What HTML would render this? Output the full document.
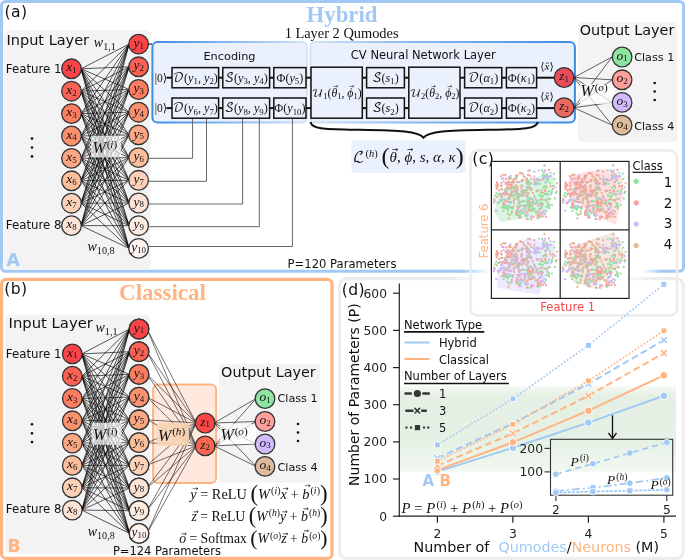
<!DOCTYPE html>
<html><head><meta charset="utf-8"><style>html,body{margin:0;padding:0;background:#fff;}svg{display:block;}</style></head>
<body>
<svg width="685" height="560" viewBox="0 0 685 560">
<rect width="685" height="560" fill="#fff"/>
<rect x="1.5" y="1.5" width="682" height="269.8" rx="4" fill="#fff" stroke="#a1c9f4" stroke-width="3"/>
<rect x="4.5" y="30" width="146" height="239.5" rx="5" fill="#f3f3f3"/>
<text x="4.6" y="17" font-family="'DejaVu Sans','Liberation Sans',sans-serif" font-size="15.6" letter-spacing="0.4" fill="#111">(a)</text>
<text x="342" y="21.5" font-family="'Liberation Serif','DejaVu Serif',serif" font-size="22.8" font-weight="bold" fill="#a1c9f4" text-anchor="middle">Hybrid</text>
<text x="341.6" y="37.8" font-family="'Liberation Serif','DejaVu Serif',serif" font-size="14.4" fill="#111" text-anchor="middle">1 Layer 2 Qumodes</text>
<text x="6.6" y="266.4" font-family="'DejaVu Sans','Liberation Sans',sans-serif" font-size="17.2" font-weight="bold" fill="#a1c9f4">A</text>
<g stroke="#000" stroke-width="0.65"><line x1="81.0" y1="68.8" x2="129.1" y2="44.1"/><line x1="81.0" y1="68.8" x2="129.1" y2="66.8"/><line x1="81.0" y1="68.8" x2="129.1" y2="89.5"/><line x1="81.0" y1="68.8" x2="129.1" y2="112.2"/><line x1="81.0" y1="68.8" x2="129.1" y2="134.9"/><line x1="81.0" y1="68.8" x2="129.1" y2="157.6"/><line x1="81.0" y1="68.8" x2="129.1" y2="180.3"/><line x1="81.0" y1="68.8" x2="129.1" y2="203.0"/><line x1="81.0" y1="68.8" x2="129.1" y2="225.7"/><line x1="81.0" y1="68.8" x2="129.1" y2="248.4"/><line x1="81.0" y1="91.2" x2="129.1" y2="44.1"/><line x1="81.0" y1="91.2" x2="129.1" y2="66.8"/><line x1="81.0" y1="91.2" x2="129.1" y2="89.5"/><line x1="81.0" y1="91.2" x2="129.1" y2="112.2"/><line x1="81.0" y1="91.2" x2="129.1" y2="134.9"/><line x1="81.0" y1="91.2" x2="129.1" y2="157.6"/><line x1="81.0" y1="91.2" x2="129.1" y2="180.3"/><line x1="81.0" y1="91.2" x2="129.1" y2="203.0"/><line x1="81.0" y1="91.2" x2="129.1" y2="225.7"/><line x1="81.0" y1="91.2" x2="129.1" y2="248.4"/><line x1="81.0" y1="113.6" x2="129.1" y2="44.1"/><line x1="81.0" y1="113.6" x2="129.1" y2="66.8"/><line x1="81.0" y1="113.6" x2="129.1" y2="89.5"/><line x1="81.0" y1="113.6" x2="129.1" y2="112.2"/><line x1="81.0" y1="113.6" x2="129.1" y2="134.9"/><line x1="81.0" y1="113.6" x2="129.1" y2="157.6"/><line x1="81.0" y1="113.6" x2="129.1" y2="180.3"/><line x1="81.0" y1="113.6" x2="129.1" y2="203.0"/><line x1="81.0" y1="113.6" x2="129.1" y2="225.7"/><line x1="81.0" y1="113.6" x2="129.1" y2="248.4"/><line x1="81.0" y1="136.0" x2="129.1" y2="44.1"/><line x1="81.0" y1="136.0" x2="129.1" y2="66.8"/><line x1="81.0" y1="136.0" x2="129.1" y2="89.5"/><line x1="81.0" y1="136.0" x2="129.1" y2="112.2"/><line x1="81.0" y1="136.0" x2="129.1" y2="134.9"/><line x1="81.0" y1="136.0" x2="129.1" y2="157.6"/><line x1="81.0" y1="136.0" x2="129.1" y2="180.3"/><line x1="81.0" y1="136.0" x2="129.1" y2="203.0"/><line x1="81.0" y1="136.0" x2="129.1" y2="225.7"/><line x1="81.0" y1="136.0" x2="129.1" y2="248.4"/><line x1="81.0" y1="158.4" x2="129.1" y2="44.1"/><line x1="81.0" y1="158.4" x2="129.1" y2="66.8"/><line x1="81.0" y1="158.4" x2="129.1" y2="89.5"/><line x1="81.0" y1="158.4" x2="129.1" y2="112.2"/><line x1="81.0" y1="158.4" x2="129.1" y2="134.9"/><line x1="81.0" y1="158.4" x2="129.1" y2="157.6"/><line x1="81.0" y1="158.4" x2="129.1" y2="180.3"/><line x1="81.0" y1="158.4" x2="129.1" y2="203.0"/><line x1="81.0" y1="158.4" x2="129.1" y2="225.7"/><line x1="81.0" y1="158.4" x2="129.1" y2="248.4"/><line x1="81.0" y1="180.8" x2="129.1" y2="44.1"/><line x1="81.0" y1="180.8" x2="129.1" y2="66.8"/><line x1="81.0" y1="180.8" x2="129.1" y2="89.5"/><line x1="81.0" y1="180.8" x2="129.1" y2="112.2"/><line x1="81.0" y1="180.8" x2="129.1" y2="134.9"/><line x1="81.0" y1="180.8" x2="129.1" y2="157.6"/><line x1="81.0" y1="180.8" x2="129.1" y2="180.3"/><line x1="81.0" y1="180.8" x2="129.1" y2="203.0"/><line x1="81.0" y1="180.8" x2="129.1" y2="225.7"/><line x1="81.0" y1="180.8" x2="129.1" y2="248.4"/><line x1="81.0" y1="203.2" x2="129.1" y2="44.1"/><line x1="81.0" y1="203.2" x2="129.1" y2="66.8"/><line x1="81.0" y1="203.2" x2="129.1" y2="89.5"/><line x1="81.0" y1="203.2" x2="129.1" y2="112.2"/><line x1="81.0" y1="203.2" x2="129.1" y2="134.9"/><line x1="81.0" y1="203.2" x2="129.1" y2="157.6"/><line x1="81.0" y1="203.2" x2="129.1" y2="180.3"/><line x1="81.0" y1="203.2" x2="129.1" y2="203.0"/><line x1="81.0" y1="203.2" x2="129.1" y2="225.7"/><line x1="81.0" y1="203.2" x2="129.1" y2="248.4"/><line x1="81.0" y1="225.6" x2="129.1" y2="44.1"/><line x1="81.0" y1="225.6" x2="129.1" y2="66.8"/><line x1="81.0" y1="225.6" x2="129.1" y2="89.5"/><line x1="81.0" y1="225.6" x2="129.1" y2="112.2"/><line x1="81.0" y1="225.6" x2="129.1" y2="134.9"/><line x1="81.0" y1="225.6" x2="129.1" y2="157.6"/><line x1="81.0" y1="225.6" x2="129.1" y2="180.3"/><line x1="81.0" y1="225.6" x2="129.1" y2="203.0"/><line x1="81.0" y1="225.6" x2="129.1" y2="225.7"/><line x1="81.0" y1="225.6" x2="129.1" y2="248.4"/></g>
<rect x="91.0" y="135.6" width="30.2" height="22" rx="2" fill="#fff" opacity="0.7"/>
<text x="92.5" y="153.1" text-anchor="start" fill="#111" ><tspan dy="0.00" font-size="16.0" font-style="italic" font-family="'Liberation Serif','DejaVu Serif',serif">W</tspan><tspan dx="0.80" dy="-5.44" font-size="11.2" font-style="normal" font-family="'Liberation Serif','DejaVu Serif',serif">(</tspan><tspan dy="0.00" font-size="11.2" font-style="italic" font-family="'Liberation Serif','DejaVu Serif',serif">i</tspan><tspan dy="0.00" font-size="11.2" font-style="normal" font-family="'Liberation Serif','DejaVu Serif',serif">)</tspan></text>
<circle cx="71.5" cy="68.8" r="9.8" fill="#fa4448" stroke="#333" stroke-width="1.3"/><text x="71.5" y="71.4" font-family="'Liberation Serif','DejaVu Serif',serif" font-size="13.5" font-style="italic" fill="#111" text-anchor="middle">x<tspan font-size="8.9" font-style="normal" dy="1.8">1</tspan></text>
<circle cx="71.5" cy="91.2" r="9.8" fill="#fb6154" stroke="#333" stroke-width="1.3"/><text x="71.5" y="93.8" font-family="'Liberation Serif','DejaVu Serif',serif" font-size="13.5" font-style="italic" fill="#111" text-anchor="middle">x<tspan font-size="8.9" font-style="normal" dy="1.8">2</tspan></text>
<circle cx="71.5" cy="113.6" r="9.8" fill="#fc7d5f" stroke="#333" stroke-width="1.3"/><text x="71.5" y="116.2" font-family="'Liberation Serif','DejaVu Serif',serif" font-size="13.5" font-style="italic" fill="#111" text-anchor="middle">x<tspan font-size="8.9" font-style="normal" dy="1.8">3</tspan></text>
<circle cx="71.5" cy="136.0" r="9.8" fill="#fa916e" stroke="#333" stroke-width="1.3"/><text x="71.5" y="138.6" font-family="'Liberation Serif','DejaVu Serif',serif" font-size="13.5" font-style="italic" fill="#111" text-anchor="middle">x<tspan font-size="8.9" font-style="normal" dy="1.8">4</tspan></text>
<circle cx="71.5" cy="158.4" r="9.8" fill="#fba784" stroke="#333" stroke-width="1.3"/><text x="71.5" y="161.0" font-family="'Liberation Serif','DejaVu Serif',serif" font-size="13.5" font-style="italic" fill="#111" text-anchor="middle">x<tspan font-size="8.9" font-style="normal" dy="1.8">5</tspan></text>
<circle cx="71.5" cy="180.8" r="9.8" fill="#fdbe9b" stroke="#333" stroke-width="1.3"/><text x="71.5" y="183.4" font-family="'Liberation Serif','DejaVu Serif',serif" font-size="13.5" font-style="italic" fill="#111" text-anchor="middle">x<tspan font-size="8.9" font-style="normal" dy="1.8">6</tspan></text>
<circle cx="71.5" cy="203.2" r="9.8" fill="#fdd1b7" stroke="#333" stroke-width="1.3"/><text x="71.5" y="205.8" font-family="'Liberation Serif','DejaVu Serif',serif" font-size="13.5" font-style="italic" fill="#111" text-anchor="middle">x<tspan font-size="8.9" font-style="normal" dy="1.8">7</tspan></text>
<circle cx="71.5" cy="225.6" r="9.8" fill="#fde4d4" stroke="#333" stroke-width="1.3"/><text x="71.5" y="228.2" font-family="'Liberation Serif','DejaVu Serif',serif" font-size="13.5" font-style="italic" fill="#111" text-anchor="middle">x<tspan font-size="8.9" font-style="normal" dy="1.8">8</tspan></text>
<circle cx="138.6" cy="44.1" r="9.8" fill="#fa4448" stroke="#333" stroke-width="1.3"/><text x="138.6" y="46.7" font-family="'Liberation Serif','DejaVu Serif',serif" font-size="13.5" font-style="italic" fill="#111" text-anchor="middle">y<tspan font-size="8.9" font-style="normal" dy="1.8">1</tspan></text>
<circle cx="138.6" cy="66.8" r="9.8" fill="#fb6154" stroke="#333" stroke-width="1.3"/><text x="138.6" y="69.4" font-family="'Liberation Serif','DejaVu Serif',serif" font-size="13.5" font-style="italic" fill="#111" text-anchor="middle">y<tspan font-size="8.9" font-style="normal" dy="1.8">2</tspan></text>
<circle cx="138.6" cy="89.5" r="9.8" fill="#fc7d5f" stroke="#333" stroke-width="1.3"/><text x="138.6" y="92.1" font-family="'Liberation Serif','DejaVu Serif',serif" font-size="13.5" font-style="italic" fill="#111" text-anchor="middle">y<tspan font-size="8.9" font-style="normal" dy="1.8">3</tspan></text>
<circle cx="138.6" cy="112.2" r="9.8" fill="#fa916e" stroke="#333" stroke-width="1.3"/><text x="138.6" y="114.8" font-family="'Liberation Serif','DejaVu Serif',serif" font-size="13.5" font-style="italic" fill="#111" text-anchor="middle">y<tspan font-size="8.9" font-style="normal" dy="1.8">4</tspan></text>
<circle cx="138.6" cy="134.9" r="9.8" fill="#fba784" stroke="#333" stroke-width="1.3"/><text x="138.6" y="137.5" font-family="'Liberation Serif','DejaVu Serif',serif" font-size="13.5" font-style="italic" fill="#111" text-anchor="middle">y<tspan font-size="8.9" font-style="normal" dy="1.8">5</tspan></text>
<circle cx="138.6" cy="157.6" r="9.8" fill="#fdbe9b" stroke="#333" stroke-width="1.3"/><text x="138.6" y="160.2" font-family="'Liberation Serif','DejaVu Serif',serif" font-size="13.5" font-style="italic" fill="#111" text-anchor="middle">y<tspan font-size="8.9" font-style="normal" dy="1.8">6</tspan></text>
<circle cx="138.6" cy="180.3" r="9.8" fill="#fdd1b7" stroke="#333" stroke-width="1.3"/><text x="138.6" y="182.9" font-family="'Liberation Serif','DejaVu Serif',serif" font-size="13.5" font-style="italic" fill="#111" text-anchor="middle">y<tspan font-size="8.9" font-style="normal" dy="1.8">7</tspan></text>
<circle cx="138.6" cy="203.0" r="9.8" fill="#fde4d4" stroke="#333" stroke-width="1.3"/><text x="138.6" y="205.6" font-family="'Liberation Serif','DejaVu Serif',serif" font-size="13.5" font-style="italic" fill="#111" text-anchor="middle">y<tspan font-size="8.9" font-style="normal" dy="1.8">8</tspan></text>
<circle cx="138.6" cy="225.7" r="9.8" fill="#feece1" stroke="#333" stroke-width="1.3"/><text x="138.6" y="228.3" font-family="'Liberation Serif','DejaVu Serif',serif" font-size="13.5" font-style="italic" fill="#111" text-anchor="middle">y<tspan font-size="8.9" font-style="normal" dy="1.8">9</tspan></text>
<circle cx="138.6" cy="248.4" r="9.8" fill="#fff5ee" stroke="#333" stroke-width="1.3"/><text x="138.6" y="251.0" font-family="'Liberation Serif','DejaVu Serif',serif" font-size="13.5" font-style="italic" fill="#111" text-anchor="middle">y<tspan font-size="8.9" font-style="normal" dy="1.8">10</tspan></text>
<text x="5.8" y="72.5" font-family="'DejaVu Sans','Liberation Sans',sans-serif" font-size="11.8" fill="#111">Feature 1</text>
<text x="5.8" y="228.9" font-family="'DejaVu Sans','Liberation Sans',sans-serif" font-size="11.8" fill="#111">Feature 8</text>
<text x="6.5" y="44.5" font-family="'DejaVu Sans','Liberation Sans',sans-serif" font-size="14.5" fill="#111">Input Layer</text>
<text x="93.8" y="47" text-anchor="start" fill="#111" ><tspan dy="0.00" font-size="14.0" font-style="italic" font-family="'Liberation Serif','DejaVu Serif',serif">w</tspan><tspan dy="2.80" font-size="10.1" font-style="normal" font-family="'Liberation Serif','DejaVu Serif',serif">1,1</tspan></text>
<text x="87.5" y="250.8" text-anchor="start" fill="#111" ><tspan dy="0.00" font-size="14.0" font-style="italic" font-family="'Liberation Serif','DejaVu Serif',serif">w</tspan><tspan dy="2.80" font-size="10.1" font-style="normal" font-family="'Liberation Serif','DejaVu Serif',serif">10,8</tspan></text>
<circle cx="32" cy="138.6" r="1.3" fill="#111"/>
<circle cx="32" cy="147.5" r="1.3" fill="#111"/>
<circle cx="32" cy="156.4" r="1.3" fill="#111"/>
<defs><linearGradient id="gEnc" x1="0" y1="0" x2="1" y2="0"><stop offset="0" stop-color="#3c8ce6"/><stop offset="0.55" stop-color="#8fbcef"/><stop offset="1" stop-color="#d3e3f8"/></linearGradient><linearGradient id="gCV" x1="0" y1="0" x2="1" y2="0"><stop offset="0" stop-color="#d3e3f8"/><stop offset="0.35" stop-color="#8fbcef"/><stop offset="1" stop-color="#3c8ce6"/></linearGradient></defs>
<rect x="152.4" y="42" width="154.6" height="80.4" rx="5" fill="#eaf0fc" stroke="url(#gEnc)" stroke-width="2"/>
<rect x="310.4" y="42" width="264.5" height="80.4" rx="5" fill="#eaf0fc" stroke="url(#gCV)" stroke-width="2"/>
<text x="229.5" y="59.6" font-family="'DejaVu Sans','Liberation Sans',sans-serif" font-size="11.3" fill="#111" text-anchor="middle">Encoding</text>
<text x="423.3" y="58.9" font-family="'DejaVu Sans','Liberation Sans',sans-serif" font-size="11.5" fill="#111" text-anchor="middle">CV Neural Network Layer</text>
<line x1="148" y1="44.1" x2="152" y2="44.1" stroke="#222" stroke-width="1.2"/>
<polyline points="148,158.3 192.6,158.3 192.6,118.5" fill="none" stroke="#666" stroke-width="1"/>
<polyline points="148,181.3 206.5,181.3 206.5,118.5" fill="none" stroke="#666" stroke-width="1"/>
<polyline points="148,204.0 242.6,204.0 242.6,118.5" fill="none" stroke="#666" stroke-width="1"/>
<polyline points="148,226.7 259.3,226.7 259.3,118.5" fill="none" stroke="#666" stroke-width="1"/>
<polyline points="148,246.5 292.4,246.5 292.4,118.5" fill="none" stroke="#666" stroke-width="1"/>
<line x1="166.5" y1="77.69999999999999" x2="172" y2="77.69999999999999" stroke="#111" stroke-width="2"/>
<line x1="218.5" y1="77.69999999999999" x2="223" y2="77.69999999999999" stroke="#111" stroke-width="2"/>
<line x1="269.5" y1="77.69999999999999" x2="274" y2="77.69999999999999" stroke="#111" stroke-width="2"/>
<line x1="306" y1="77.69999999999999" x2="311" y2="77.69999999999999" stroke="#111" stroke-width="2"/>
<line x1="362" y1="77.69999999999999" x2="367" y2="77.69999999999999" stroke="#111" stroke-width="2"/>
<line x1="404" y1="77.69999999999999" x2="409" y2="77.69999999999999" stroke="#111" stroke-width="2"/>
<line x1="460" y1="77.69999999999999" x2="465" y2="77.69999999999999" stroke="#111" stroke-width="2"/>
<line x1="502" y1="77.69999999999999" x2="507" y2="77.69999999999999" stroke="#111" stroke-width="2"/>
<line x1="536" y1="77.69999999999999" x2="556" y2="77.69999999999999" stroke="#111" stroke-width="2"/>
<text x="161" y="81.7" text-anchor="middle" fill="#111" ><tspan dy="0.00" font-size="11.5" font-style="normal" font-family="'Liberation Serif','DejaVu Serif',serif">|0⟩</tspan></text>
<line x1="166.5" y1="108.1" x2="172" y2="108.1" stroke="#111" stroke-width="2"/>
<line x1="218.5" y1="108.1" x2="223" y2="108.1" stroke="#111" stroke-width="2"/>
<line x1="269.5" y1="108.1" x2="274" y2="108.1" stroke="#111" stroke-width="2"/>
<line x1="306" y1="108.1" x2="311" y2="108.1" stroke="#111" stroke-width="2"/>
<line x1="362" y1="108.1" x2="367" y2="108.1" stroke="#111" stroke-width="2"/>
<line x1="404" y1="108.1" x2="409" y2="108.1" stroke="#111" stroke-width="2"/>
<line x1="460" y1="108.1" x2="465" y2="108.1" stroke="#111" stroke-width="2"/>
<line x1="502" y1="108.1" x2="507" y2="108.1" stroke="#111" stroke-width="2"/>
<line x1="536" y1="108.1" x2="556" y2="108.1" stroke="#111" stroke-width="2"/>
<text x="161" y="112.1" text-anchor="middle" fill="#111" ><tspan dy="0.00" font-size="11.5" font-style="normal" font-family="'Liberation Serif','DejaVu Serif',serif">|0⟩</tspan></text>
<rect x="172" y="67.6" width="46.6" height="20.2" fill="#eaf0fc" stroke="#111" stroke-width="1.5"/>
<text x="195.3" y="81.9" text-anchor="middle" fill="#111" ><tspan dy="0.00" font-size="12.2" font-style="normal" font-family="'DejaVu Math TeX Gyre','Liberation Serif',serif">𝒟</tspan><tspan dy="0.00" font-size="12.2" font-style="normal" font-family="'Liberation Serif','DejaVu Serif',serif">(</tspan><tspan dy="0.00" font-size="12.2" font-style="italic" font-family="'Liberation Serif','DejaVu Serif',serif">y</tspan><tspan dy="2.44" font-size="8.8" font-style="normal" font-family="'Liberation Serif','DejaVu Serif',serif">1</tspan><tspan dy="-2.44" font-size="12.2" font-style="normal" font-family="'Liberation Serif','DejaVu Serif',serif">, </tspan><tspan dy="0.00" font-size="12.2" font-style="italic" font-family="'Liberation Serif','DejaVu Serif',serif">y</tspan><tspan dy="2.44" font-size="8.8" font-style="normal" font-family="'Liberation Serif','DejaVu Serif',serif">2</tspan><tspan dy="-2.44" font-size="12.2" font-style="normal" font-family="'Liberation Serif','DejaVu Serif',serif">)</tspan></text>
<rect x="222.8" y="67.6" width="46.8" height="20.2" fill="#eaf0fc" stroke="#111" stroke-width="1.5"/>
<text x="246.2" y="81.9" text-anchor="middle" fill="#111" ><tspan dy="0.00" font-size="12.2" font-style="normal" font-family="'DejaVu Math TeX Gyre','Liberation Serif',serif">𝒮</tspan><tspan dy="0.00" font-size="12.2" font-style="normal" font-family="'Liberation Serif','DejaVu Serif',serif">(</tspan><tspan dy="0.00" font-size="12.2" font-style="italic" font-family="'Liberation Serif','DejaVu Serif',serif">y</tspan><tspan dy="2.44" font-size="8.8" font-style="normal" font-family="'Liberation Serif','DejaVu Serif',serif">3</tspan><tspan dy="-2.44" font-size="12.2" font-style="normal" font-family="'Liberation Serif','DejaVu Serif',serif">, </tspan><tspan dy="0.00" font-size="12.2" font-style="italic" font-family="'Liberation Serif','DejaVu Serif',serif">y</tspan><tspan dy="2.44" font-size="8.8" font-style="normal" font-family="'Liberation Serif','DejaVu Serif',serif">4</tspan><tspan dy="-2.44" font-size="12.2" font-style="normal" font-family="'Liberation Serif','DejaVu Serif',serif">)</tspan></text>
<rect x="273.8" y="67.6" width="32.2" height="20.2" fill="#eaf0fc" stroke="#111" stroke-width="1.5"/>
<text x="289.9" y="81.9" text-anchor="middle" fill="#111" ><tspan dy="0.00" font-size="12.2" font-style="normal" font-family="'Liberation Serif','DejaVu Serif',serif">Φ</tspan><tspan dy="0.00" font-size="12.2" font-style="normal" font-family="'Liberation Serif','DejaVu Serif',serif">(</tspan><tspan dy="0.00" font-size="12.2" font-style="italic" font-family="'Liberation Serif','DejaVu Serif',serif">y</tspan><tspan dy="2.44" font-size="8.8" font-style="normal" font-family="'Liberation Serif','DejaVu Serif',serif">5</tspan><tspan dy="-2.44" font-size="12.2" font-style="normal" font-family="'Liberation Serif','DejaVu Serif',serif">)</tspan></text>
<rect x="172" y="98.0" width="46.6" height="20.2" fill="#eaf0fc" stroke="#111" stroke-width="1.5"/>
<text x="195.3" y="112.3" text-anchor="middle" fill="#111" ><tspan dy="0.00" font-size="12.2" font-style="normal" font-family="'DejaVu Math TeX Gyre','Liberation Serif',serif">𝒟</tspan><tspan dy="0.00" font-size="12.2" font-style="normal" font-family="'Liberation Serif','DejaVu Serif',serif">(</tspan><tspan dy="0.00" font-size="12.2" font-style="italic" font-family="'Liberation Serif','DejaVu Serif',serif">y</tspan><tspan dy="2.44" font-size="8.8" font-style="normal" font-family="'Liberation Serif','DejaVu Serif',serif">6</tspan><tspan dy="-2.44" font-size="12.2" font-style="normal" font-family="'Liberation Serif','DejaVu Serif',serif">, </tspan><tspan dy="0.00" font-size="12.2" font-style="italic" font-family="'Liberation Serif','DejaVu Serif',serif">y</tspan><tspan dy="2.44" font-size="8.8" font-style="normal" font-family="'Liberation Serif','DejaVu Serif',serif">7</tspan><tspan dy="-2.44" font-size="12.2" font-style="normal" font-family="'Liberation Serif','DejaVu Serif',serif">)</tspan></text>
<rect x="222.8" y="98.0" width="46.8" height="20.2" fill="#eaf0fc" stroke="#111" stroke-width="1.5"/>
<text x="246.2" y="112.3" text-anchor="middle" fill="#111" ><tspan dy="0.00" font-size="12.2" font-style="normal" font-family="'DejaVu Math TeX Gyre','Liberation Serif',serif">𝒮</tspan><tspan dy="0.00" font-size="12.2" font-style="normal" font-family="'Liberation Serif','DejaVu Serif',serif">(</tspan><tspan dy="0.00" font-size="12.2" font-style="italic" font-family="'Liberation Serif','DejaVu Serif',serif">y</tspan><tspan dy="2.44" font-size="8.8" font-style="normal" font-family="'Liberation Serif','DejaVu Serif',serif">8</tspan><tspan dy="-2.44" font-size="12.2" font-style="normal" font-family="'Liberation Serif','DejaVu Serif',serif">, </tspan><tspan dy="0.00" font-size="12.2" font-style="italic" font-family="'Liberation Serif','DejaVu Serif',serif">y</tspan><tspan dy="2.44" font-size="8.8" font-style="normal" font-family="'Liberation Serif','DejaVu Serif',serif">9</tspan><tspan dy="-2.44" font-size="12.2" font-style="normal" font-family="'Liberation Serif','DejaVu Serif',serif">)</tspan></text>
<rect x="273.8" y="98.0" width="32.2" height="20.2" fill="#eaf0fc" stroke="#111" stroke-width="1.5"/>
<text x="289.9" y="112.3" text-anchor="middle" fill="#111" ><tspan dy="0.00" font-size="12.2" font-style="normal" font-family="'Liberation Serif','DejaVu Serif',serif">Φ</tspan><tspan dy="0.00" font-size="12.2" font-style="normal" font-family="'Liberation Serif','DejaVu Serif',serif">(</tspan><tspan dy="0.00" font-size="12.2" font-style="italic" font-family="'Liberation Serif','DejaVu Serif',serif">y</tspan><tspan dy="2.44" font-size="8.8" font-style="normal" font-family="'Liberation Serif','DejaVu Serif',serif">10</tspan><tspan dy="-2.44" font-size="12.2" font-style="normal" font-family="'Liberation Serif','DejaVu Serif',serif">)</tspan></text>
<rect x="311" y="67.2" width="51.3" height="51.0" fill="#eaf0fc" stroke="#111" stroke-width="1.5"/>
<text x="336.6" y="96.9" text-anchor="middle" fill="#111" ><tspan dy="0.00" font-size="11.8" font-style="normal" font-family="'DejaVu Math TeX Gyre','Liberation Serif',serif">𝒰</tspan><tspan dy="2.36" font-size="8.5" font-style="normal" font-family="'Liberation Serif','DejaVu Serif',serif">1</tspan><tspan dy="-2.36" font-size="11.8" font-style="normal" font-family="'Liberation Serif','DejaVu Serif',serif">(</tspan><tspan dy="0.00" font-size="11.8" font-style="italic" font-family="'Liberation Serif','DejaVu Serif',serif">θ</tspan><tspan dx="-3.95" dy="-8.50" font-size="5.9" font-style="normal" font-family="'DejaVu Sans','Liberation Sans',sans-serif">→</tspan><tspan dx="-0.99" dy="10.86" font-size="8.5" font-style="normal" font-family="'Liberation Serif','DejaVu Serif',serif">1</tspan><tspan dy="-2.36" font-size="11.8" font-style="normal" font-family="'Liberation Serif','DejaVu Serif',serif">, </tspan><tspan dy="0.00" font-size="11.8" font-style="italic" font-family="'Liberation Serif','DejaVu Serif',serif">ϕ</tspan><tspan dx="-4.11" dy="-8.50" font-size="5.9" font-style="normal" font-family="'DejaVu Sans','Liberation Sans',sans-serif">→</tspan><tspan dx="-0.83" dy="10.86" font-size="8.5" font-style="normal" font-family="'Liberation Serif','DejaVu Serif',serif">1</tspan><tspan dy="-2.36" font-size="11.8" font-style="normal" font-family="'Liberation Serif','DejaVu Serif',serif">)</tspan></text>
<rect x="366.6" y="67.6" width="37.8" height="20.2" fill="#eaf0fc" stroke="#111" stroke-width="1.5"/>
<text x="385.5" y="81.9" text-anchor="middle" fill="#111" ><tspan dy="0.00" font-size="12.2" font-style="normal" font-family="'DejaVu Math TeX Gyre','Liberation Serif',serif">𝒮</tspan><tspan dy="0.00" font-size="12.2" font-style="normal" font-family="'Liberation Serif','DejaVu Serif',serif">(</tspan><tspan dy="0.00" font-size="12.2" font-style="italic" font-family="'Liberation Serif','DejaVu Serif',serif">s</tspan><tspan dy="2.44" font-size="8.8" font-style="normal" font-family="'Liberation Serif','DejaVu Serif',serif">1</tspan><tspan dy="-2.44" font-size="12.2" font-style="normal" font-family="'Liberation Serif','DejaVu Serif',serif">)</tspan></text>
<rect x="366.6" y="98.0" width="37.8" height="20.2" fill="#eaf0fc" stroke="#111" stroke-width="1.5"/>
<text x="385.5" y="112.3" text-anchor="middle" fill="#111" ><tspan dy="0.00" font-size="12.2" font-style="normal" font-family="'DejaVu Math TeX Gyre','Liberation Serif',serif">𝒮</tspan><tspan dy="0.00" font-size="12.2" font-style="normal" font-family="'Liberation Serif','DejaVu Serif',serif">(</tspan><tspan dy="0.00" font-size="12.2" font-style="italic" font-family="'Liberation Serif','DejaVu Serif',serif">s</tspan><tspan dy="2.44" font-size="8.8" font-style="normal" font-family="'Liberation Serif','DejaVu Serif',serif">2</tspan><tspan dy="-2.44" font-size="12.2" font-style="normal" font-family="'Liberation Serif','DejaVu Serif',serif">)</tspan></text>
<rect x="408.8" y="67.2" width="51.2" height="51.0" fill="#eaf0fc" stroke="#111" stroke-width="1.5"/>
<text x="434.4" y="96.9" text-anchor="middle" fill="#111" ><tspan dy="0.00" font-size="11.8" font-style="normal" font-family="'DejaVu Math TeX Gyre','Liberation Serif',serif">𝒰</tspan><tspan dy="2.36" font-size="8.5" font-style="normal" font-family="'Liberation Serif','DejaVu Serif',serif">2</tspan><tspan dy="-2.36" font-size="11.8" font-style="normal" font-family="'Liberation Serif','DejaVu Serif',serif">(</tspan><tspan dy="0.00" font-size="11.8" font-style="italic" font-family="'Liberation Serif','DejaVu Serif',serif">θ</tspan><tspan dx="-3.95" dy="-8.50" font-size="5.9" font-style="normal" font-family="'DejaVu Sans','Liberation Sans',sans-serif">→</tspan><tspan dx="-0.99" dy="10.86" font-size="8.5" font-style="normal" font-family="'Liberation Serif','DejaVu Serif',serif">2</tspan><tspan dy="-2.36" font-size="11.8" font-style="normal" font-family="'Liberation Serif','DejaVu Serif',serif">, </tspan><tspan dy="0.00" font-size="11.8" font-style="italic" font-family="'Liberation Serif','DejaVu Serif',serif">ϕ</tspan><tspan dx="-4.11" dy="-8.50" font-size="5.9" font-style="normal" font-family="'DejaVu Sans','Liberation Sans',sans-serif">→</tspan><tspan dx="-0.83" dy="10.86" font-size="8.5" font-style="normal" font-family="'Liberation Serif','DejaVu Serif',serif">2</tspan><tspan dy="-2.36" font-size="11.8" font-style="normal" font-family="'Liberation Serif','DejaVu Serif',serif">)</tspan></text>
<rect x="464.6" y="67.6" width="37.2" height="20.2" fill="#eaf0fc" stroke="#111" stroke-width="1.5"/>
<text x="483.2" y="81.9" text-anchor="middle" fill="#111" ><tspan dy="0.00" font-size="12.2" font-style="normal" font-family="'DejaVu Math TeX Gyre','Liberation Serif',serif">𝒟</tspan><tspan dy="0.00" font-size="12.2" font-style="normal" font-family="'Liberation Serif','DejaVu Serif',serif">(</tspan><tspan dy="0.00" font-size="12.2" font-style="italic" font-family="'Liberation Serif','DejaVu Serif',serif">α</tspan><tspan dy="2.44" font-size="8.8" font-style="normal" font-family="'Liberation Serif','DejaVu Serif',serif">1</tspan><tspan dy="-2.44" font-size="12.2" font-style="normal" font-family="'Liberation Serif','DejaVu Serif',serif">)</tspan></text>
<rect x="464.6" y="98.0" width="37.2" height="20.2" fill="#eaf0fc" stroke="#111" stroke-width="1.5"/>
<text x="483.2" y="112.3" text-anchor="middle" fill="#111" ><tspan dy="0.00" font-size="12.2" font-style="normal" font-family="'DejaVu Math TeX Gyre','Liberation Serif',serif">𝒟</tspan><tspan dy="0.00" font-size="12.2" font-style="normal" font-family="'Liberation Serif','DejaVu Serif',serif">(</tspan><tspan dy="0.00" font-size="12.2" font-style="italic" font-family="'Liberation Serif','DejaVu Serif',serif">α</tspan><tspan dy="2.44" font-size="8.8" font-style="normal" font-family="'Liberation Serif','DejaVu Serif',serif">2</tspan><tspan dy="-2.44" font-size="12.2" font-style="normal" font-family="'Liberation Serif','DejaVu Serif',serif">)</tspan></text>
<rect x="506.4" y="67.6" width="30.2" height="20.2" fill="#eaf0fc" stroke="#111" stroke-width="1.5"/>
<text x="521.5" y="81.9" text-anchor="middle" fill="#111" ><tspan dy="0.00" font-size="12.2" font-style="normal" font-family="'Liberation Serif','DejaVu Serif',serif">Φ</tspan><tspan dy="0.00" font-size="12.2" font-style="normal" font-family="'Liberation Serif','DejaVu Serif',serif">(</tspan><tspan dy="0.00" font-size="12.2" font-style="italic" font-family="'Liberation Serif','DejaVu Serif',serif">κ</tspan><tspan dy="2.44" font-size="8.8" font-style="normal" font-family="'Liberation Serif','DejaVu Serif',serif">1</tspan><tspan dy="-2.44" font-size="12.2" font-style="normal" font-family="'Liberation Serif','DejaVu Serif',serif">)</tspan></text>
<rect x="506.4" y="98.0" width="30.2" height="20.2" fill="#eaf0fc" stroke="#111" stroke-width="1.5"/>
<text x="521.5" y="112.3" text-anchor="middle" fill="#111" ><tspan dy="0.00" font-size="12.2" font-style="normal" font-family="'Liberation Serif','DejaVu Serif',serif">Φ</tspan><tspan dy="0.00" font-size="12.2" font-style="normal" font-family="'Liberation Serif','DejaVu Serif',serif">(</tspan><tspan dy="0.00" font-size="12.2" font-style="italic" font-family="'Liberation Serif','DejaVu Serif',serif">κ</tspan><tspan dy="2.44" font-size="8.8" font-style="normal" font-family="'Liberation Serif','DejaVu Serif',serif">2</tspan><tspan dy="-2.44" font-size="12.2" font-style="normal" font-family="'Liberation Serif','DejaVu Serif',serif">)</tspan></text>
<text x="547" y="69.5" text-anchor="middle" fill="#111" ><tspan dy="0.00" font-size="11.0" font-style="normal" font-family="'Liberation Serif','DejaVu Serif',serif">⟨</tspan><tspan dy="0.00" font-size="11.0" font-style="italic" font-family="'Liberation Serif','DejaVu Serif',serif">x̂</tspan><tspan dy="0.00" font-size="11.0" font-style="normal" font-family="'Liberation Serif','DejaVu Serif',serif">⟩</tspan></text>
<text x="547" y="99.8" text-anchor="middle" fill="#111" ><tspan dy="0.00" font-size="11.0" font-style="normal" font-family="'Liberation Serif','DejaVu Serif',serif">⟨</tspan><tspan dy="0.00" font-size="11.0" font-style="italic" font-family="'Liberation Serif','DejaVu Serif',serif">x̂</tspan><tspan dy="0.00" font-size="11.0" font-style="normal" font-family="'Liberation Serif','DejaVu Serif',serif">⟩</tspan></text>
<circle cx="564.1" cy="77.5" r="9.8" fill="#eb4b58" stroke="#333" stroke-width="1.3"/><text x="564.1" y="80.1" font-family="'Liberation Serif','DejaVu Serif',serif" font-size="13.5" font-style="italic" fill="#111" text-anchor="middle">z<tspan font-size="8.9" font-style="normal" dy="1.8">1</tspan></text>
<circle cx="564.1" cy="107.7" r="9.8" fill="#eb695f" stroke="#333" stroke-width="1.3"/><text x="564.1" y="110.3" font-family="'Liberation Serif','DejaVu Serif',serif" font-size="13.5" font-style="italic" fill="#111" text-anchor="middle">z<tspan font-size="8.9" font-style="normal" dy="1.8">2</tspan></text>
<path d="M310.5,122 C312,130 328,129.2 360,129.8 C400,130.6 418,131 423.5,137.6 C429,131 447,130.6 487,129.8 C519,129.2 536,130 537.8,122" fill="none" stroke="#111" stroke-width="2"/>
<rect x="351.2" y="140.2" width="114.3" height="32.8" rx="4" fill="#eaf0fc"/>
<text x="408.3" y="162.3" text-anchor="middle" fill="#111" ><tspan dy="0.00" font-size="15.0" font-style="normal" font-family="'DejaVu Math TeX Gyre','Liberation Serif',serif">ℒ</tspan><tspan dx="1.20" dy="-5.10" font-size="10.5" font-style="normal" font-family="'Liberation Serif','DejaVu Serif',serif">(</tspan><tspan dy="0.00" font-size="10.5" font-style="italic" font-family="'Liberation Serif','DejaVu Serif',serif">h</tspan><tspan dy="0.00" font-size="10.5" font-style="normal" font-family="'Liberation Serif','DejaVu Serif',serif">)</tspan><tspan dy="5.10" font-size="15.0" font-style="normal" font-family="'Liberation Serif','DejaVu Serif',serif">  </tspan><tspan dy="2.10" font-size="24.0" font-style="normal" font-family="'Liberation Serif','DejaVu Serif',serif">(</tspan><tspan dy="-2.10" font-size="15.0" font-style="italic" font-family="'Liberation Serif','DejaVu Serif',serif">θ</tspan><tspan dx="-5.03" dy="-10.80" font-size="7.5" font-style="normal" font-family="'DejaVu Sans','Liberation Sans',sans-serif">→</tspan><tspan dx="-1.26" dy="10.80" font-size="15.0" font-style="normal" font-family="'Liberation Serif','DejaVu Serif',serif">, </tspan><tspan dy="0.00" font-size="15.0" font-style="italic" font-family="'Liberation Serif','DejaVu Serif',serif">ϕ</tspan><tspan dx="-5.22" dy="-10.80" font-size="7.5" font-style="normal" font-family="'DejaVu Sans','Liberation Sans',sans-serif">→</tspan><tspan dx="-1.06" dy="10.80" font-size="15.0" font-style="normal" font-family="'Liberation Serif','DejaVu Serif',serif">, </tspan><tspan dy="0.00" font-size="15.0" font-style="italic" font-family="'Liberation Serif','DejaVu Serif',serif">s</tspan><tspan dy="0.00" font-size="15.0" font-style="normal" font-family="'Liberation Serif','DejaVu Serif',serif">, </tspan><tspan dy="0.00" font-size="15.0" font-style="italic" font-family="'Liberation Serif','DejaVu Serif',serif">α</tspan><tspan dy="0.00" font-size="15.0" font-style="normal" font-family="'Liberation Serif','DejaVu Serif',serif">, </tspan><tspan dy="0.00" font-size="15.0" font-style="italic" font-family="'Liberation Serif','DejaVu Serif',serif">κ</tspan><tspan dy="2.10" font-size="24.0" font-style="normal" font-family="'Liberation Serif','DejaVu Serif',serif">)</tspan></text>
<rect x="578" y="22" width="99" height="120" rx="4" fill="#f3f3f3"/>
<text x="579.7" y="35.3" font-family="'DejaVu Sans','Liberation Sans',sans-serif" font-size="14.4" fill="#111">Output Layer</text>
<g stroke="#222" stroke-width="0.7"><line x1="573.8" y1="77.5" x2="612" y2="57.0"/><line x1="573.8" y1="77.5" x2="612" y2="79.8"/><line x1="573.8" y1="77.5" x2="612" y2="102.4"/><line x1="573.8" y1="77.5" x2="612" y2="125.1"/><line x1="573.8" y1="107.7" x2="612" y2="57.0"/><line x1="573.8" y1="107.7" x2="612" y2="79.8"/><line x1="573.8" y1="107.7" x2="612" y2="102.4"/><line x1="573.8" y1="107.7" x2="612" y2="125.1"/></g>
<rect x="580" y="84" width="34" height="20" fill="#fff" opacity="0.7"/>
<text x="580.5" y="96" text-anchor="start" fill="#111" ><tspan dy="0.00" font-size="16.0" font-style="italic" font-family="'Liberation Serif','DejaVu Serif',serif">W</tspan><tspan dx="0.80" dy="-5.44" font-size="11.2" font-style="normal" font-family="'Liberation Serif','DejaVu Serif',serif">(</tspan><tspan dy="0.00" font-size="11.2" font-style="italic" font-family="'Liberation Serif','DejaVu Serif',serif">o</tspan><tspan dy="0.00" font-size="11.2" font-style="normal" font-family="'Liberation Serif','DejaVu Serif',serif">)</tspan></text>
<circle cx="622.1" cy="57.0" r="9.8" fill="#8de5a1" stroke="#333" stroke-width="1.3"/><text x="622.1" y="59.6" font-family="'Liberation Serif','DejaVu Serif',serif" font-size="13.5" font-style="italic" fill="#111" text-anchor="middle">o<tspan font-size="8.9" font-style="normal" dy="1.8">1</tspan></text>
<circle cx="622.1" cy="79.8" r="9.8" fill="#ff9f9b" stroke="#333" stroke-width="1.3"/><text x="622.1" y="82.4" font-family="'Liberation Serif','DejaVu Serif',serif" font-size="13.5" font-style="italic" fill="#111" text-anchor="middle">o<tspan font-size="8.9" font-style="normal" dy="1.8">2</tspan></text>
<circle cx="622.1" cy="102.4" r="9.8" fill="#d0bbff" stroke="#333" stroke-width="1.3"/><text x="622.1" y="105.0" font-family="'Liberation Serif','DejaVu Serif',serif" font-size="13.5" font-style="italic" fill="#111" text-anchor="middle">o<tspan font-size="8.9" font-style="normal" dy="1.8">3</tspan></text>
<circle cx="622.1" cy="125.1" r="9.8" fill="#debb9b" stroke="#333" stroke-width="1.3"/><text x="622.1" y="127.7" font-family="'Liberation Serif','DejaVu Serif',serif" font-size="13.5" font-style="italic" fill="#111" text-anchor="middle">o<tspan font-size="8.9" font-style="normal" dy="1.8">4</tspan></text>
<text x="634.2" y="61.3" font-family="'DejaVu Sans','Liberation Sans',sans-serif" font-size="11.2" fill="#111">Class 1</text>
<text x="634.2" y="129.7" font-family="'DejaVu Sans','Liberation Sans',sans-serif" font-size="11.2" fill="#111">Class 4</text>
<circle cx="654.7" cy="83.0" r="1.3" fill="#111"/>
<circle cx="654.7" cy="91.5" r="1.3" fill="#111"/>
<circle cx="654.7" cy="100.0" r="1.3" fill="#111"/>
<text x="342" y="268" font-family="'DejaVu Sans','Liberation Sans',sans-serif" font-size="11.6" fill="#111" text-anchor="middle">P=120 Parameters</text>
<rect x="1.6" y="279.3" width="330.4" height="279.1" rx="4.5" fill="#fff" stroke="#ffb482" stroke-width="3.2"/>
<rect x="5.2" y="314.8" width="145" height="238.8" rx="5" fill="#f3f3f3"/>
<text x="4.3" y="294" font-family="'DejaVu Sans','Liberation Sans',sans-serif" font-size="15.6" letter-spacing="0.4" fill="#111">(b)</text>
<text x="162.5" y="299.5" font-family="'Liberation Serif','DejaVu Serif',serif" font-size="23" font-weight="bold" fill="#ffb482" text-anchor="middle">Classical</text>
<text x="7.6" y="552.2" font-family="'DejaVu Sans','Liberation Sans',sans-serif" font-size="17.2" font-weight="bold" fill="#ffb482">B</text>
<rect x="153.1" y="384.4" width="63" height="98.5" rx="5" fill="#ffe8de" stroke="#ffb482" stroke-width="2"/>
<g stroke="#000" stroke-width="0.65"><line x1="81.8" y1="353.9" x2="129.5" y2="329.0"/><line x1="81.8" y1="353.9" x2="129.5" y2="351.7"/><line x1="81.8" y1="353.9" x2="129.5" y2="374.4"/><line x1="81.8" y1="353.9" x2="129.5" y2="397.1"/><line x1="81.8" y1="353.9" x2="129.5" y2="419.8"/><line x1="81.8" y1="353.9" x2="129.5" y2="442.6"/><line x1="81.8" y1="353.9" x2="129.5" y2="465.3"/><line x1="81.8" y1="353.9" x2="129.5" y2="488.0"/><line x1="81.8" y1="353.9" x2="129.5" y2="510.7"/><line x1="81.8" y1="353.9" x2="129.5" y2="533.4"/><line x1="81.8" y1="376.2" x2="129.5" y2="329.0"/><line x1="81.8" y1="376.2" x2="129.5" y2="351.7"/><line x1="81.8" y1="376.2" x2="129.5" y2="374.4"/><line x1="81.8" y1="376.2" x2="129.5" y2="397.1"/><line x1="81.8" y1="376.2" x2="129.5" y2="419.8"/><line x1="81.8" y1="376.2" x2="129.5" y2="442.6"/><line x1="81.8" y1="376.2" x2="129.5" y2="465.3"/><line x1="81.8" y1="376.2" x2="129.5" y2="488.0"/><line x1="81.8" y1="376.2" x2="129.5" y2="510.7"/><line x1="81.8" y1="376.2" x2="129.5" y2="533.4"/><line x1="81.8" y1="398.5" x2="129.5" y2="329.0"/><line x1="81.8" y1="398.5" x2="129.5" y2="351.7"/><line x1="81.8" y1="398.5" x2="129.5" y2="374.4"/><line x1="81.8" y1="398.5" x2="129.5" y2="397.1"/><line x1="81.8" y1="398.5" x2="129.5" y2="419.8"/><line x1="81.8" y1="398.5" x2="129.5" y2="442.6"/><line x1="81.8" y1="398.5" x2="129.5" y2="465.3"/><line x1="81.8" y1="398.5" x2="129.5" y2="488.0"/><line x1="81.8" y1="398.5" x2="129.5" y2="510.7"/><line x1="81.8" y1="398.5" x2="129.5" y2="533.4"/><line x1="81.8" y1="420.8" x2="129.5" y2="329.0"/><line x1="81.8" y1="420.8" x2="129.5" y2="351.7"/><line x1="81.8" y1="420.8" x2="129.5" y2="374.4"/><line x1="81.8" y1="420.8" x2="129.5" y2="397.1"/><line x1="81.8" y1="420.8" x2="129.5" y2="419.8"/><line x1="81.8" y1="420.8" x2="129.5" y2="442.6"/><line x1="81.8" y1="420.8" x2="129.5" y2="465.3"/><line x1="81.8" y1="420.8" x2="129.5" y2="488.0"/><line x1="81.8" y1="420.8" x2="129.5" y2="510.7"/><line x1="81.8" y1="420.8" x2="129.5" y2="533.4"/><line x1="81.8" y1="443.1" x2="129.5" y2="329.0"/><line x1="81.8" y1="443.1" x2="129.5" y2="351.7"/><line x1="81.8" y1="443.1" x2="129.5" y2="374.4"/><line x1="81.8" y1="443.1" x2="129.5" y2="397.1"/><line x1="81.8" y1="443.1" x2="129.5" y2="419.8"/><line x1="81.8" y1="443.1" x2="129.5" y2="442.6"/><line x1="81.8" y1="443.1" x2="129.5" y2="465.3"/><line x1="81.8" y1="443.1" x2="129.5" y2="488.0"/><line x1="81.8" y1="443.1" x2="129.5" y2="510.7"/><line x1="81.8" y1="443.1" x2="129.5" y2="533.4"/><line x1="81.8" y1="465.4" x2="129.5" y2="329.0"/><line x1="81.8" y1="465.4" x2="129.5" y2="351.7"/><line x1="81.8" y1="465.4" x2="129.5" y2="374.4"/><line x1="81.8" y1="465.4" x2="129.5" y2="397.1"/><line x1="81.8" y1="465.4" x2="129.5" y2="419.8"/><line x1="81.8" y1="465.4" x2="129.5" y2="442.6"/><line x1="81.8" y1="465.4" x2="129.5" y2="465.3"/><line x1="81.8" y1="465.4" x2="129.5" y2="488.0"/><line x1="81.8" y1="465.4" x2="129.5" y2="510.7"/><line x1="81.8" y1="465.4" x2="129.5" y2="533.4"/><line x1="81.8" y1="487.8" x2="129.5" y2="329.0"/><line x1="81.8" y1="487.8" x2="129.5" y2="351.7"/><line x1="81.8" y1="487.8" x2="129.5" y2="374.4"/><line x1="81.8" y1="487.8" x2="129.5" y2="397.1"/><line x1="81.8" y1="487.8" x2="129.5" y2="419.8"/><line x1="81.8" y1="487.8" x2="129.5" y2="442.6"/><line x1="81.8" y1="487.8" x2="129.5" y2="465.3"/><line x1="81.8" y1="487.8" x2="129.5" y2="488.0"/><line x1="81.8" y1="487.8" x2="129.5" y2="510.7"/><line x1="81.8" y1="487.8" x2="129.5" y2="533.4"/><line x1="81.8" y1="510.1" x2="129.5" y2="329.0"/><line x1="81.8" y1="510.1" x2="129.5" y2="351.7"/><line x1="81.8" y1="510.1" x2="129.5" y2="374.4"/><line x1="81.8" y1="510.1" x2="129.5" y2="397.1"/><line x1="81.8" y1="510.1" x2="129.5" y2="419.8"/><line x1="81.8" y1="510.1" x2="129.5" y2="442.6"/><line x1="81.8" y1="510.1" x2="129.5" y2="465.3"/><line x1="81.8" y1="510.1" x2="129.5" y2="488.0"/><line x1="81.8" y1="510.1" x2="129.5" y2="510.7"/><line x1="81.8" y1="510.1" x2="129.5" y2="533.4"/></g>
<rect x="91.4" y="422.7" width="30.2" height="22" rx="2" fill="#fff" opacity="0.7"/>
<text x="92.9" y="440.2" text-anchor="start" fill="#111" ><tspan dy="0.00" font-size="16.0" font-style="italic" font-family="'Liberation Serif','DejaVu Serif',serif">W</tspan><tspan dx="0.80" dy="-5.44" font-size="11.2" font-style="normal" font-family="'Liberation Serif','DejaVu Serif',serif">(</tspan><tspan dy="0.00" font-size="11.2" font-style="italic" font-family="'Liberation Serif','DejaVu Serif',serif">i</tspan><tspan dy="0.00" font-size="11.2" font-style="normal" font-family="'Liberation Serif','DejaVu Serif',serif">)</tspan></text>
<circle cx="72.3" cy="353.9" r="9.8" fill="#fa4448" stroke="#333" stroke-width="1.3"/><text x="72.3" y="356.5" font-family="'Liberation Serif','DejaVu Serif',serif" font-size="13.5" font-style="italic" fill="#111" text-anchor="middle">x<tspan font-size="8.9" font-style="normal" dy="1.8">1</tspan></text>
<circle cx="72.3" cy="376.2" r="9.8" fill="#fb6154" stroke="#333" stroke-width="1.3"/><text x="72.3" y="378.8" font-family="'Liberation Serif','DejaVu Serif',serif" font-size="13.5" font-style="italic" fill="#111" text-anchor="middle">x<tspan font-size="8.9" font-style="normal" dy="1.8">2</tspan></text>
<circle cx="72.3" cy="398.5" r="9.8" fill="#fc7d5f" stroke="#333" stroke-width="1.3"/><text x="72.3" y="401.1" font-family="'Liberation Serif','DejaVu Serif',serif" font-size="13.5" font-style="italic" fill="#111" text-anchor="middle">x<tspan font-size="8.9" font-style="normal" dy="1.8">3</tspan></text>
<circle cx="72.3" cy="420.8" r="9.8" fill="#fa916e" stroke="#333" stroke-width="1.3"/><text x="72.3" y="423.4" font-family="'Liberation Serif','DejaVu Serif',serif" font-size="13.5" font-style="italic" fill="#111" text-anchor="middle">x<tspan font-size="8.9" font-style="normal" dy="1.8">4</tspan></text>
<circle cx="72.3" cy="443.1" r="9.8" fill="#fba784" stroke="#333" stroke-width="1.3"/><text x="72.3" y="445.7" font-family="'Liberation Serif','DejaVu Serif',serif" font-size="13.5" font-style="italic" fill="#111" text-anchor="middle">x<tspan font-size="8.9" font-style="normal" dy="1.8">5</tspan></text>
<circle cx="72.3" cy="465.4" r="9.8" fill="#fdbe9b" stroke="#333" stroke-width="1.3"/><text x="72.3" y="468.1" font-family="'Liberation Serif','DejaVu Serif',serif" font-size="13.5" font-style="italic" fill="#111" text-anchor="middle">x<tspan font-size="8.9" font-style="normal" dy="1.8">6</tspan></text>
<circle cx="72.3" cy="487.8" r="9.8" fill="#fdd1b7" stroke="#333" stroke-width="1.3"/><text x="72.3" y="490.4" font-family="'Liberation Serif','DejaVu Serif',serif" font-size="13.5" font-style="italic" fill="#111" text-anchor="middle">x<tspan font-size="8.9" font-style="normal" dy="1.8">7</tspan></text>
<circle cx="72.3" cy="510.1" r="9.8" fill="#fde4d4" stroke="#333" stroke-width="1.3"/><text x="72.3" y="512.7" font-family="'Liberation Serif','DejaVu Serif',serif" font-size="13.5" font-style="italic" fill="#111" text-anchor="middle">x<tspan font-size="8.9" font-style="normal" dy="1.8">8</tspan></text>
<circle cx="139.0" cy="329.0" r="9.8" fill="#fa4448" stroke="#333" stroke-width="1.3"/><text x="139.0" y="331.6" font-family="'Liberation Serif','DejaVu Serif',serif" font-size="13.5" font-style="italic" fill="#111" text-anchor="middle">y<tspan font-size="8.9" font-style="normal" dy="1.8">1</tspan></text>
<circle cx="139.0" cy="351.7" r="9.8" fill="#fb6154" stroke="#333" stroke-width="1.3"/><text x="139.0" y="354.3" font-family="'Liberation Serif','DejaVu Serif',serif" font-size="13.5" font-style="italic" fill="#111" text-anchor="middle">y<tspan font-size="8.9" font-style="normal" dy="1.8">2</tspan></text>
<circle cx="139.0" cy="374.4" r="9.8" fill="#fc7d5f" stroke="#333" stroke-width="1.3"/><text x="139.0" y="377.0" font-family="'Liberation Serif','DejaVu Serif',serif" font-size="13.5" font-style="italic" fill="#111" text-anchor="middle">y<tspan font-size="8.9" font-style="normal" dy="1.8">3</tspan></text>
<circle cx="139.0" cy="397.1" r="9.8" fill="#fa916e" stroke="#333" stroke-width="1.3"/><text x="139.0" y="399.7" font-family="'Liberation Serif','DejaVu Serif',serif" font-size="13.5" font-style="italic" fill="#111" text-anchor="middle">y<tspan font-size="8.9" font-style="normal" dy="1.8">4</tspan></text>
<circle cx="139.0" cy="419.8" r="9.8" fill="#fba784" stroke="#333" stroke-width="1.3"/><text x="139.0" y="422.4" font-family="'Liberation Serif','DejaVu Serif',serif" font-size="13.5" font-style="italic" fill="#111" text-anchor="middle">y<tspan font-size="8.9" font-style="normal" dy="1.8">5</tspan></text>
<circle cx="139.0" cy="442.6" r="9.8" fill="#fdbe9b" stroke="#333" stroke-width="1.3"/><text x="139.0" y="445.2" font-family="'Liberation Serif','DejaVu Serif',serif" font-size="13.5" font-style="italic" fill="#111" text-anchor="middle">y<tspan font-size="8.9" font-style="normal" dy="1.8">6</tspan></text>
<circle cx="139.0" cy="465.3" r="9.8" fill="#fdd1b7" stroke="#333" stroke-width="1.3"/><text x="139.0" y="467.9" font-family="'Liberation Serif','DejaVu Serif',serif" font-size="13.5" font-style="italic" fill="#111" text-anchor="middle">y<tspan font-size="8.9" font-style="normal" dy="1.8">7</tspan></text>
<circle cx="139.0" cy="488.0" r="9.8" fill="#fde4d4" stroke="#333" stroke-width="1.3"/><text x="139.0" y="490.6" font-family="'Liberation Serif','DejaVu Serif',serif" font-size="13.5" font-style="italic" fill="#111" text-anchor="middle">y<tspan font-size="8.9" font-style="normal" dy="1.8">8</tspan></text>
<circle cx="139.0" cy="510.7" r="9.8" fill="#feece1" stroke="#333" stroke-width="1.3"/><text x="139.0" y="513.3" font-family="'Liberation Serif','DejaVu Serif',serif" font-size="13.5" font-style="italic" fill="#111" text-anchor="middle">y<tspan font-size="8.9" font-style="normal" dy="1.8">9</tspan></text>
<circle cx="139.0" cy="533.4" r="9.8" fill="#fff5ee" stroke="#333" stroke-width="1.3"/><text x="139.0" y="536.0" font-family="'Liberation Serif','DejaVu Serif',serif" font-size="13.5" font-style="italic" fill="#111" text-anchor="middle">y<tspan font-size="8.9" font-style="normal" dy="1.8">10</tspan></text>
<text x="5.8" y="357.6" font-family="'DejaVu Sans','Liberation Sans',sans-serif" font-size="11.8" fill="#111">Feature 1</text>
<text x="5.8" y="513.4" font-family="'DejaVu Sans','Liberation Sans',sans-serif" font-size="11.8" fill="#111">Feature 8</text>
<text x="8.6" y="327.6" font-family="'DejaVu Sans','Liberation Sans',sans-serif" font-size="14.8" fill="#111">Input Layer</text>
<text x="95.5" y="332.3" text-anchor="start" fill="#111" ><tspan dy="0.00" font-size="14.0" font-style="italic" font-family="'Liberation Serif','DejaVu Serif',serif">w</tspan><tspan dy="2.80" font-size="10.1" font-style="normal" font-family="'Liberation Serif','DejaVu Serif',serif">1,1</tspan></text>
<text x="87.7" y="535.8" text-anchor="start" fill="#111" ><tspan dy="0.00" font-size="14.0" font-style="italic" font-family="'Liberation Serif','DejaVu Serif',serif">w</tspan><tspan dy="2.80" font-size="10.1" font-style="normal" font-family="'Liberation Serif','DejaVu Serif',serif">10,8</tspan></text>
<circle cx="32" cy="424.3" r="1.3" fill="#111"/>
<circle cx="32" cy="433.2" r="1.3" fill="#111"/>
<circle cx="32" cy="442.1" r="1.3" fill="#111"/>
<g stroke="#111" stroke-width="0.6"><line x1="147" y1="329.0" x2="196.2" y2="423.0"/><line x1="147" y1="329.0" x2="196.2" y2="445.9"/><line x1="147" y1="351.7" x2="196.2" y2="423.0"/><line x1="147" y1="351.7" x2="196.2" y2="445.9"/><line x1="147" y1="374.4" x2="196.2" y2="423.0"/><line x1="147" y1="374.4" x2="196.2" y2="445.9"/><line x1="147" y1="397.1" x2="196.2" y2="423.0"/><line x1="147" y1="397.1" x2="196.2" y2="445.9"/><line x1="147" y1="419.8" x2="196.2" y2="423.0"/><line x1="147" y1="419.8" x2="196.2" y2="445.9"/><line x1="147" y1="442.6" x2="196.2" y2="423.0"/><line x1="147" y1="442.6" x2="196.2" y2="445.9"/><line x1="147" y1="465.3" x2="196.2" y2="423.0"/><line x1="147" y1="465.3" x2="196.2" y2="445.9"/><line x1="147" y1="488.0" x2="196.2" y2="423.0"/><line x1="147" y1="488.0" x2="196.2" y2="445.9"/><line x1="147" y1="510.7" x2="196.2" y2="423.0"/><line x1="147" y1="510.7" x2="196.2" y2="445.9"/><line x1="147" y1="533.4" x2="196.2" y2="423.0"/><line x1="147" y1="533.4" x2="196.2" y2="445.9"/></g>
<circle cx="139.0" cy="329.0" r="9.8" fill="#fa4448" stroke="#333" stroke-width="1.3"/><text x="139.0" y="331.6" font-family="'Liberation Serif','DejaVu Serif',serif" font-size="13.5" font-style="italic" fill="#111" text-anchor="middle">y<tspan font-size="8.9" font-style="normal" dy="1.8">1</tspan></text>
<circle cx="139.0" cy="351.7" r="9.8" fill="#fb6154" stroke="#333" stroke-width="1.3"/><text x="139.0" y="354.3" font-family="'Liberation Serif','DejaVu Serif',serif" font-size="13.5" font-style="italic" fill="#111" text-anchor="middle">y<tspan font-size="8.9" font-style="normal" dy="1.8">2</tspan></text>
<circle cx="139.0" cy="374.4" r="9.8" fill="#fc7d5f" stroke="#333" stroke-width="1.3"/><text x="139.0" y="377.0" font-family="'Liberation Serif','DejaVu Serif',serif" font-size="13.5" font-style="italic" fill="#111" text-anchor="middle">y<tspan font-size="8.9" font-style="normal" dy="1.8">3</tspan></text>
<circle cx="139.0" cy="397.1" r="9.8" fill="#fa916e" stroke="#333" stroke-width="1.3"/><text x="139.0" y="399.7" font-family="'Liberation Serif','DejaVu Serif',serif" font-size="13.5" font-style="italic" fill="#111" text-anchor="middle">y<tspan font-size="8.9" font-style="normal" dy="1.8">4</tspan></text>
<circle cx="139.0" cy="419.8" r="9.8" fill="#fba784" stroke="#333" stroke-width="1.3"/><text x="139.0" y="422.4" font-family="'Liberation Serif','DejaVu Serif',serif" font-size="13.5" font-style="italic" fill="#111" text-anchor="middle">y<tspan font-size="8.9" font-style="normal" dy="1.8">5</tspan></text>
<circle cx="139.0" cy="442.6" r="9.8" fill="#fdbe9b" stroke="#333" stroke-width="1.3"/><text x="139.0" y="445.2" font-family="'Liberation Serif','DejaVu Serif',serif" font-size="13.5" font-style="italic" fill="#111" text-anchor="middle">y<tspan font-size="8.9" font-style="normal" dy="1.8">6</tspan></text>
<circle cx="139.0" cy="465.3" r="9.8" fill="#fdd1b7" stroke="#333" stroke-width="1.3"/><text x="139.0" y="467.9" font-family="'Liberation Serif','DejaVu Serif',serif" font-size="13.5" font-style="italic" fill="#111" text-anchor="middle">y<tspan font-size="8.9" font-style="normal" dy="1.8">7</tspan></text>
<circle cx="139.0" cy="488.0" r="9.8" fill="#fde4d4" stroke="#333" stroke-width="1.3"/><text x="139.0" y="490.6" font-family="'Liberation Serif','DejaVu Serif',serif" font-size="13.5" font-style="italic" fill="#111" text-anchor="middle">y<tspan font-size="8.9" font-style="normal" dy="1.8">8</tspan></text>
<circle cx="139.0" cy="510.7" r="9.8" fill="#feece1" stroke="#333" stroke-width="1.3"/><text x="139.0" y="513.3" font-family="'Liberation Serif','DejaVu Serif',serif" font-size="13.5" font-style="italic" fill="#111" text-anchor="middle">y<tspan font-size="8.9" font-style="normal" dy="1.8">9</tspan></text>
<circle cx="139.0" cy="533.4" r="9.8" fill="#fff5ee" stroke="#333" stroke-width="1.3"/><text x="139.0" y="536.0" font-family="'Liberation Serif','DejaVu Serif',serif" font-size="13.5" font-style="italic" fill="#111" text-anchor="middle">y<tspan font-size="8.9" font-style="normal" dy="1.8">10</tspan></text>
<rect x="156.7" y="422.8" width="32.2" height="22.9" rx="3" fill="#fad4b4" opacity="0.9"/>
<text x="158" y="440.6" text-anchor="start" fill="#111" ><tspan dy="0.00" font-size="16.0" font-style="italic" font-family="'Liberation Serif','DejaVu Serif',serif">W</tspan><tspan dx="0.80" dy="-5.44" font-size="11.2" font-style="normal" font-family="'Liberation Serif','DejaVu Serif',serif">(</tspan><tspan dy="0.00" font-size="11.2" font-style="italic" font-family="'Liberation Serif','DejaVu Serif',serif">h</tspan><tspan dy="0.00" font-size="11.2" font-style="normal" font-family="'Liberation Serif','DejaVu Serif',serif">)</tspan></text>
<circle cx="205.2" cy="423.0" r="9.8" fill="#fc4646" stroke="#333" stroke-width="1.3"/><text x="205.2" y="425.6" font-family="'Liberation Serif','DejaVu Serif',serif" font-size="13.5" font-style="italic" fill="#111" text-anchor="middle">z<tspan font-size="8.9" font-style="normal" dy="1.8">1</tspan></text>
<circle cx="205.2" cy="445.9" r="9.8" fill="#fc6650" stroke="#333" stroke-width="1.3"/><text x="205.2" y="448.5" font-family="'Liberation Serif','DejaVu Serif',serif" font-size="13.5" font-style="italic" fill="#111" text-anchor="middle">z<tspan font-size="8.9" font-style="normal" dy="1.8">2</tspan></text>
<rect x="219" y="363.9" width="101.3" height="118.5" rx="4" fill="#f3f3f3"/>
<text x="221.1" y="376.7" font-family="'DejaVu Sans','Liberation Sans',sans-serif" font-size="14.4" fill="#111">Output Layer</text>
<g stroke="#222" stroke-width="0.7"><line x1="214.2" y1="423.0" x2="256" y2="398.6"/><line x1="214.2" y1="423.0" x2="256" y2="421.5"/><line x1="214.2" y1="423.0" x2="256" y2="444.0"/><line x1="214.2" y1="423.0" x2="256" y2="466.4"/><line x1="214.2" y1="445.9" x2="256" y2="398.6"/><line x1="214.2" y1="445.9" x2="256" y2="421.5"/><line x1="214.2" y1="445.9" x2="256" y2="444.0"/><line x1="214.2" y1="445.9" x2="256" y2="466.4"/></g>
<rect x="220" y="424" width="36" height="20" fill="#fff" opacity="0.7"/>
<text x="220.5" y="440.3" text-anchor="start" fill="#111" ><tspan dy="0.00" font-size="16.0" font-style="italic" font-family="'Liberation Serif','DejaVu Serif',serif">W</tspan><tspan dx="0.80" dy="-5.44" font-size="11.2" font-style="normal" font-family="'Liberation Serif','DejaVu Serif',serif">(</tspan><tspan dy="0.00" font-size="11.2" font-style="italic" font-family="'Liberation Serif','DejaVu Serif',serif">o</tspan><tspan dy="0.00" font-size="11.2" font-style="normal" font-family="'Liberation Serif','DejaVu Serif',serif">)</tspan></text>
<circle cx="265.0" cy="398.6" r="9.8" fill="#8de5a1" stroke="#333" stroke-width="1.3"/><text x="265.0" y="401.2" font-family="'Liberation Serif','DejaVu Serif',serif" font-size="13.5" font-style="italic" fill="#111" text-anchor="middle">o<tspan font-size="8.9" font-style="normal" dy="1.8">1</tspan></text>
<circle cx="265.0" cy="421.5" r="9.8" fill="#ff9f9b" stroke="#333" stroke-width="1.3"/><text x="265.0" y="424.1" font-family="'Liberation Serif','DejaVu Serif',serif" font-size="13.5" font-style="italic" fill="#111" text-anchor="middle">o<tspan font-size="8.9" font-style="normal" dy="1.8">2</tspan></text>
<circle cx="265.0" cy="444.0" r="9.8" fill="#d0bbff" stroke="#333" stroke-width="1.3"/><text x="265.0" y="446.6" font-family="'Liberation Serif','DejaVu Serif',serif" font-size="13.5" font-style="italic" fill="#111" text-anchor="middle">o<tspan font-size="8.9" font-style="normal" dy="1.8">3</tspan></text>
<circle cx="265.0" cy="466.4" r="9.8" fill="#debb9b" stroke="#333" stroke-width="1.3"/><text x="265.0" y="469.0" font-family="'Liberation Serif','DejaVu Serif',serif" font-size="13.5" font-style="italic" fill="#111" text-anchor="middle">o<tspan font-size="8.9" font-style="normal" dy="1.8">4</tspan></text>
<text x="277.5" y="402.4" font-family="'DejaVu Sans','Liberation Sans',sans-serif" font-size="11.2" fill="#111">Class 1</text>
<text x="277.5" y="470.8" font-family="'DejaVu Sans','Liberation Sans',sans-serif" font-size="11.2" fill="#111">Class 4</text>
<circle cx="298" cy="424.0" r="1.3" fill="#111"/>
<circle cx="298" cy="432.5" r="1.3" fill="#111"/>
<circle cx="298" cy="441.0" r="1.3" fill="#111"/>
<text x="327.6" y="498.6" text-anchor="end" fill="#111" ><tspan dy="0.00" font-size="14.3" font-style="italic" font-family="'Liberation Serif','DejaVu Serif',serif">y</tspan><tspan dx="-4.45" dy="-7.15" font-size="7.2" font-style="normal" font-family="'DejaVu Sans','Liberation Sans',sans-serif">→</tspan><tspan dx="-1.54" dy="7.15" font-size="14.3" font-style="normal" font-family="'Liberation Serif','DejaVu Serif',serif"> = ReLU </tspan><tspan dy="2.00" font-size="22.9" font-style="normal" font-family="'Liberation Serif','DejaVu Serif',serif">(</tspan><tspan dy="-2.00" font-size="14.3" font-style="italic" font-family="'Liberation Serif','DejaVu Serif',serif">W</tspan><tspan dx="1.14" dy="-4.86" font-size="10.0" font-style="normal" font-family="'Liberation Serif','DejaVu Serif',serif">(</tspan><tspan dy="0.00" font-size="10.0" font-style="italic" font-family="'Liberation Serif','DejaVu Serif',serif">i</tspan><tspan dy="0.00" font-size="10.0" font-style="normal" font-family="'Liberation Serif','DejaVu Serif',serif">)</tspan><tspan dy="4.86" font-size="14.3" font-style="italic" font-family="'Liberation Serif','DejaVu Serif',serif">x</tspan><tspan dx="-4.45" dy="-7.15" font-size="7.2" font-style="normal" font-family="'DejaVu Sans','Liberation Sans',sans-serif">→</tspan><tspan dx="-1.54" dy="7.15" font-size="14.3" font-style="normal" font-family="'Liberation Serif','DejaVu Serif',serif"> + </tspan><tspan dy="0.00" font-size="14.3" font-style="italic" font-family="'Liberation Serif','DejaVu Serif',serif">b</tspan><tspan dx="-4.85" dy="-10.30" font-size="7.2" font-style="normal" font-family="'DejaVu Sans','Liberation Sans',sans-serif">→</tspan><tspan dx="0.01" dy="5.43" font-size="10.0" font-style="normal" font-family="'Liberation Serif','DejaVu Serif',serif">(</tspan><tspan dy="0.00" font-size="10.0" font-style="italic" font-family="'Liberation Serif','DejaVu Serif',serif">i</tspan><tspan dy="0.00" font-size="10.0" font-style="normal" font-family="'Liberation Serif','DejaVu Serif',serif">)</tspan><tspan dy="6.86" font-size="22.9" font-style="normal" font-family="'Liberation Serif','DejaVu Serif',serif">)</tspan></text>
<text x="327.6" y="520.9" text-anchor="end" fill="#111" ><tspan dy="0.00" font-size="13.8" font-style="italic" font-family="'Liberation Serif','DejaVu Serif',serif">z</tspan><tspan dx="-3.93" dy="-6.92" font-size="6.9" font-style="normal" font-family="'DejaVu Sans','Liberation Sans',sans-serif">→</tspan><tspan dx="-1.87" dy="6.92" font-size="13.8" font-style="normal" font-family="'Liberation Serif','DejaVu Serif',serif"> = ReLU </tspan><tspan dy="1.94" font-size="22.2" font-style="normal" font-family="'Liberation Serif','DejaVu Serif',serif">(</tspan><tspan dy="-1.94" font-size="13.8" font-style="italic" font-family="'Liberation Serif','DejaVu Serif',serif">W</tspan><tspan dx="1.11" dy="-4.71" font-size="9.7" font-style="normal" font-family="'Liberation Serif','DejaVu Serif',serif">(</tspan><tspan dy="0.00" font-size="9.7" font-style="italic" font-family="'Liberation Serif','DejaVu Serif',serif">h</tspan><tspan dy="0.00" font-size="9.7" font-style="normal" font-family="'Liberation Serif','DejaVu Serif',serif">)</tspan><tspan dy="4.71" font-size="13.8" font-style="italic" font-family="'Liberation Serif','DejaVu Serif',serif">y</tspan><tspan dx="-4.31" dy="-6.92" font-size="6.9" font-style="normal" font-family="'DejaVu Sans','Liberation Sans',sans-serif">→</tspan><tspan dx="-1.49" dy="6.92" font-size="13.8" font-style="normal" font-family="'Liberation Serif','DejaVu Serif',serif"> + </tspan><tspan dy="0.00" font-size="13.8" font-style="italic" font-family="'Liberation Serif','DejaVu Serif',serif">b</tspan><tspan dx="-4.70" dy="-9.97" font-size="6.9" font-style="normal" font-family="'DejaVu Sans','Liberation Sans',sans-serif">→</tspan><tspan dx="0.01" dy="5.26" font-size="9.7" font-style="normal" font-family="'Liberation Serif','DejaVu Serif',serif">(</tspan><tspan dy="0.00" font-size="9.7" font-style="italic" font-family="'Liberation Serif','DejaVu Serif',serif">h</tspan><tspan dy="0.00" font-size="9.7" font-style="normal" font-family="'Liberation Serif','DejaVu Serif',serif">)</tspan><tspan dy="6.65" font-size="22.2" font-style="normal" font-family="'Liberation Serif','DejaVu Serif',serif">)</tspan></text>
<text x="327.6" y="543.2" text-anchor="end" fill="#111" ><tspan dy="0.00" font-size="13.7" font-style="italic" font-family="'Liberation Serif','DejaVu Serif',serif">o</tspan><tspan dx="-4.63" dy="-6.83" font-size="6.8" font-style="normal" font-family="'DejaVu Sans','Liberation Sans',sans-serif">→</tspan><tspan dx="-1.09" dy="6.83" font-size="13.7" font-style="normal" font-family="'Liberation Serif','DejaVu Serif',serif"> = Softmax </tspan><tspan dy="1.91" font-size="21.8" font-style="normal" font-family="'Liberation Serif','DejaVu Serif',serif">(</tspan><tspan dy="-1.91" font-size="13.7" font-style="italic" font-family="'Liberation Serif','DejaVu Serif',serif">W</tspan><tspan dx="1.09" dy="-4.64" font-size="9.6" font-style="normal" font-family="'Liberation Serif','DejaVu Serif',serif">(</tspan><tspan dy="0.00" font-size="9.6" font-style="italic" font-family="'Liberation Serif','DejaVu Serif',serif">o</tspan><tspan dy="0.00" font-size="9.6" font-style="normal" font-family="'Liberation Serif','DejaVu Serif',serif">)</tspan><tspan dy="4.64" font-size="13.7" font-style="italic" font-family="'Liberation Serif','DejaVu Serif',serif">z</tspan><tspan dx="-3.88" dy="-6.83" font-size="6.8" font-style="normal" font-family="'DejaVu Sans','Liberation Sans',sans-serif">→</tspan><tspan dx="-1.84" dy="6.83" font-size="13.7" font-style="normal" font-family="'Liberation Serif','DejaVu Serif',serif"> + </tspan><tspan dy="0.00" font-size="13.7" font-style="italic" font-family="'Liberation Serif','DejaVu Serif',serif">b</tspan><tspan dx="-4.63" dy="-9.83" font-size="6.8" font-style="normal" font-family="'DejaVu Sans','Liberation Sans',sans-serif">→</tspan><tspan dx="0.01" dy="5.19" font-size="9.6" font-style="normal" font-family="'Liberation Serif','DejaVu Serif',serif">(</tspan><tspan dy="0.00" font-size="9.6" font-style="italic" font-family="'Liberation Serif','DejaVu Serif',serif">o</tspan><tspan dy="0.00" font-size="9.6" font-style="normal" font-family="'Liberation Serif','DejaVu Serif',serif">)</tspan><tspan dy="6.55" font-size="21.8" font-style="normal" font-family="'Liberation Serif','DejaVu Serif',serif">)</tspan></text>
<text x="166.9" y="555" font-family="'DejaVu Sans','Liberation Sans',sans-serif" font-size="11.5" fill="#111" text-anchor="middle">P=124 Parameters</text>
<rect x="339.7" y="278.6" width="343.6" height="279.8" rx="7" fill="#fff" stroke="#ededed" stroke-width="3.2"/>
<defs><linearGradient id="gFadeA" x1="462" y1="0" x2="662" y2="0" gradientUnits="userSpaceOnUse"><stop offset="0" stop-color="#fff" stop-opacity="0"/><stop offset="0.14" stop-color="#fff" stop-opacity="1"/><stop offset="0.9" stop-color="#fff" stop-opacity="1"/><stop offset="1" stop-color="#fff" stop-opacity="0"/></linearGradient><linearGradient id="gFadeD" x1="452" y1="0" x2="655" y2="0" gradientUnits="userSpaceOnUse"><stop offset="0" stop-color="#fff" stop-opacity="0"/><stop offset="0.12" stop-color="#fff" stop-opacity="1"/><stop offset="0.8" stop-color="#fff" stop-opacity="1"/><stop offset="1" stop-color="#fff" stop-opacity="0"/></linearGradient></defs>
<rect x="462" y="267.5" width="200" height="7" fill="url(#gFadeA)"/>
<rect x="452" y="276.5" width="203" height="6.5" fill="url(#gFadeD)"/>
<rect x="470.5" y="150.5" width="206.5" height="165" rx="7" fill="none" stroke="#ececec" stroke-width="2.5"/>
<rect x="491.4" y="161.4" width="137.6" height="137" fill="#fff"/>
<text x="472.2" y="163.8" font-family="'DejaVu Sans','Liberation Sans',sans-serif" font-size="15.6" letter-spacing="0.4" fill="#111">(c)</text>
<polygon points="493.9,211.4 497.7,196.0 513.1,186.3 546.6,173.5 554.3,177.4 554.9,185.0 550.4,198.6 550.4,208.8 542.7,215.3 500.9,222.3" fill="#dcf5e2"/>
<g fill="#fb9f9c"><circle cx="521.3" cy="210.5" r="1.15"/><circle cx="501.5" cy="182.8" r="1.15"/><circle cx="527.1" cy="183.5" r="1.15"/><circle cx="529.6" cy="202.6" r="1.15"/><circle cx="506.0" cy="179.0" r="1.15"/><circle cx="505.9" cy="183.1" r="1.15"/><circle cx="535.7" cy="184.0" r="1.15"/><circle cx="530.3" cy="210.7" r="1.15"/><circle cx="501.5" cy="186.1" r="1.15"/><circle cx="544.3" cy="172.1" r="1.15"/><circle cx="516.1" cy="212.8" r="1.15"/><circle cx="537.4" cy="217.4" r="1.15"/><circle cx="501.1" cy="176.2" r="1.15"/><circle cx="513.9" cy="199.6" r="1.15"/><circle cx="530.8" cy="209.8" r="1.15"/><circle cx="516.1" cy="177.9" r="1.15"/><circle cx="528.2" cy="203.1" r="1.15"/><circle cx="503.0" cy="193.8" r="1.15"/><circle cx="540.4" cy="204.2" r="1.15"/><circle cx="548.8" cy="169.9" r="1.15"/><circle cx="526.8" cy="219.2" r="1.15"/><circle cx="537.1" cy="190.6" r="1.15"/><circle cx="544.8" cy="214.2" r="1.15"/><circle cx="533.4" cy="217.2" r="1.15"/><circle cx="537.7" cy="211.6" r="1.15"/><circle cx="511.6" cy="184.2" r="1.15"/><circle cx="520.1" cy="173.0" r="1.15"/><circle cx="532.9" cy="192.8" r="1.15"/><circle cx="501.7" cy="194.0" r="1.15"/><circle cx="516.0" cy="175.6" r="1.15"/><circle cx="521.2" cy="187.7" r="1.15"/><circle cx="507.0" cy="188.8" r="1.15"/><circle cx="524.0" cy="193.9" r="1.15"/><circle cx="526.2" cy="179.9" r="1.15"/><circle cx="510.9" cy="186.4" r="1.15"/><circle cx="542.9" cy="216.3" r="1.15"/><circle cx="504.0" cy="203.2" r="1.15"/><circle cx="527.9" cy="174.9" r="1.15"/><circle cx="533.2" cy="200.4" r="1.15"/><circle cx="544.7" cy="190.1" r="1.15"/><circle cx="510.9" cy="185.1" r="1.15"/><circle cx="496.3" cy="185.7" r="1.15"/><circle cx="509.3" cy="177.3" r="1.15"/><circle cx="516.1" cy="191.8" r="1.15"/><circle cx="515.5" cy="185.8" r="1.15"/><circle cx="550.6" cy="186.0" r="1.15"/><circle cx="522.3" cy="190.2" r="1.15"/><circle cx="509.6" cy="188.7" r="1.15"/><circle cx="519.0" cy="195.0" r="1.15"/><circle cx="540.5" cy="214.7" r="1.15"/><circle cx="542.7" cy="204.2" r="1.15"/><circle cx="528.4" cy="201.0" r="1.15"/><circle cx="530.9" cy="183.4" r="1.15"/><circle cx="537.8" cy="214.7" r="1.15"/><circle cx="513.2" cy="206.8" r="1.15"/><circle cx="553.3" cy="186.1" r="1.15"/><circle cx="510.2" cy="178.2" r="1.15"/><circle cx="521.7" cy="191.6" r="1.15"/><circle cx="513.3" cy="186.9" r="1.15"/><circle cx="508.8" cy="184.5" r="1.15"/><circle cx="517.5" cy="209.6" r="1.15"/><circle cx="517.6" cy="175.1" r="1.15"/><circle cx="531.2" cy="219.3" r="1.15"/><circle cx="520.0" cy="206.1" r="1.15"/><circle cx="539.6" cy="209.7" r="1.15"/><circle cx="508.1" cy="184.2" r="1.15"/><circle cx="502.3" cy="189.6" r="1.15"/><circle cx="509.5" cy="196.9" r="1.15"/><circle cx="521.9" cy="201.3" r="1.15"/><circle cx="496.8" cy="182.3" r="1.15"/><circle cx="531.5" cy="203.5" r="1.15"/><circle cx="514.5" cy="182.2" r="1.15"/><circle cx="517.3" cy="190.2" r="1.15"/><circle cx="523.0" cy="173.8" r="1.15"/><circle cx="508.5" cy="201.9" r="1.15"/><circle cx="507.1" cy="186.4" r="1.15"/><circle cx="545.4" cy="191.5" r="1.15"/><circle cx="498.1" cy="185.5" r="1.15"/><circle cx="531.2" cy="217.3" r="1.15"/><circle cx="504.4" cy="207.7" r="1.15"/><circle cx="508.3" cy="181.7" r="1.15"/><circle cx="536.8" cy="201.1" r="1.15"/><circle cx="508.2" cy="188.8" r="1.15"/><circle cx="522.3" cy="181.1" r="1.15"/><circle cx="517.3" cy="196.6" r="1.15"/><circle cx="531.9" cy="202.8" r="1.15"/><circle cx="525.7" cy="192.1" r="1.15"/><circle cx="542.5" cy="212.3" r="1.15"/><circle cx="514.6" cy="190.8" r="1.15"/><circle cx="497.0" cy="183.8" r="1.15"/><circle cx="542.7" cy="192.6" r="1.15"/><circle cx="503.4" cy="174.8" r="1.15"/><circle cx="512.6" cy="181.2" r="1.15"/><circle cx="528.3" cy="203.6" r="1.15"/><circle cx="503.3" cy="178.6" r="1.15"/><circle cx="519.0" cy="182.2" r="1.15"/><circle cx="529.2" cy="201.1" r="1.15"/><circle cx="508.7" cy="178.6" r="1.15"/><circle cx="541.5" cy="199.3" r="1.15"/><circle cx="499.0" cy="190.4" r="1.15"/><circle cx="506.6" cy="192.1" r="1.15"/><circle cx="529.3" cy="204.9" r="1.15"/><circle cx="521.8" cy="192.4" r="1.15"/><circle cx="531.2" cy="190.0" r="1.15"/><circle cx="545.4" cy="186.0" r="1.15"/><circle cx="507.8" cy="187.9" r="1.15"/><circle cx="525.1" cy="190.2" r="1.15"/><circle cx="522.1" cy="179.8" r="1.15"/><circle cx="521.3" cy="196.0" r="1.15"/><circle cx="534.8" cy="197.6" r="1.15"/><circle cx="539.2" cy="216.5" r="1.15"/><circle cx="528.0" cy="201.1" r="1.15"/><circle cx="538.2" cy="205.7" r="1.15"/><circle cx="541.7" cy="212.7" r="1.15"/><circle cx="513.6" cy="191.5" r="1.15"/><circle cx="538.0" cy="215.3" r="1.15"/><circle cx="511.9" cy="211.5" r="1.15"/><circle cx="532.3" cy="210.3" r="1.15"/><circle cx="501.5" cy="185.3" r="1.15"/><circle cx="504.2" cy="204.9" r="1.15"/><circle cx="546.2" cy="200.5" r="1.15"/><circle cx="519.4" cy="217.7" r="1.15"/><circle cx="503.3" cy="204.4" r="1.15"/><circle cx="527.6" cy="211.9" r="1.15"/><circle cx="546.0" cy="216.8" r="1.15"/><circle cx="514.0" cy="178.9" r="1.15"/><circle cx="523.1" cy="191.1" r="1.15"/><circle cx="503.3" cy="193.2" r="1.15"/><circle cx="529.7" cy="175.8" r="1.15"/><circle cx="507.3" cy="182.1" r="1.15"/><circle cx="496.6" cy="188.8" r="1.15"/><circle cx="504.8" cy="194.5" r="1.15"/><circle cx="497.9" cy="203.1" r="1.15"/><circle cx="508.8" cy="184.8" r="1.15"/><circle cx="524.9" cy="207.7" r="1.15"/><circle cx="513.0" cy="180.8" r="1.15"/></g>
<g fill="#cbb9fc"><circle cx="534.3" cy="180.3" r="1.15"/><circle cx="521.3" cy="206.1" r="1.15"/><circle cx="506.9" cy="191.1" r="1.15"/><circle cx="527.4" cy="195.1" r="1.15"/><circle cx="533.3" cy="209.2" r="1.15"/><circle cx="513.6" cy="191.4" r="1.15"/><circle cx="511.5" cy="183.0" r="1.15"/><circle cx="505.0" cy="199.3" r="1.15"/><circle cx="542.8" cy="177.8" r="1.15"/><circle cx="518.0" cy="210.9" r="1.15"/><circle cx="539.1" cy="180.5" r="1.15"/><circle cx="512.7" cy="192.1" r="1.15"/><circle cx="539.8" cy="213.2" r="1.15"/><circle cx="529.5" cy="184.7" r="1.15"/><circle cx="508.8" cy="197.6" r="1.15"/><circle cx="501.9" cy="200.1" r="1.15"/><circle cx="542.9" cy="175.2" r="1.15"/><circle cx="502.1" cy="196.7" r="1.15"/><circle cx="538.9" cy="170.3" r="1.15"/><circle cx="539.6" cy="209.5" r="1.15"/><circle cx="527.8" cy="199.5" r="1.15"/><circle cx="493.9" cy="202.8" r="1.15"/><circle cx="494.5" cy="201.0" r="1.15"/><circle cx="529.1" cy="208.7" r="1.15"/><circle cx="527.7" cy="215.2" r="1.15"/><circle cx="519.9" cy="202.9" r="1.15"/><circle cx="536.4" cy="178.8" r="1.15"/><circle cx="512.1" cy="187.1" r="1.15"/><circle cx="502.6" cy="193.8" r="1.15"/><circle cx="511.7" cy="187.7" r="1.15"/><circle cx="530.1" cy="170.4" r="1.15"/><circle cx="545.4" cy="177.4" r="1.15"/><circle cx="551.1" cy="194.0" r="1.15"/><circle cx="511.1" cy="195.6" r="1.15"/><circle cx="522.0" cy="190.8" r="1.15"/><circle cx="516.9" cy="213.8" r="1.15"/><circle cx="547.7" cy="194.4" r="1.15"/><circle cx="510.2" cy="202.2" r="1.15"/><circle cx="531.0" cy="188.3" r="1.15"/><circle cx="508.2" cy="197.9" r="1.15"/><circle cx="497.9" cy="202.5" r="1.15"/><circle cx="536.9" cy="179.5" r="1.15"/><circle cx="522.3" cy="212.4" r="1.15"/><circle cx="535.9" cy="199.4" r="1.15"/><circle cx="526.8" cy="186.8" r="1.15"/><circle cx="513.9" cy="201.2" r="1.15"/><circle cx="509.6" cy="202.4" r="1.15"/><circle cx="546.7" cy="177.7" r="1.15"/><circle cx="500.7" cy="199.6" r="1.15"/><circle cx="506.9" cy="183.9" r="1.15"/><circle cx="503.6" cy="203.2" r="1.15"/><circle cx="543.7" cy="172.4" r="1.15"/><circle cx="535.3" cy="182.0" r="1.15"/><circle cx="506.9" cy="201.9" r="1.15"/><circle cx="519.4" cy="208.0" r="1.15"/><circle cx="518.0" cy="182.5" r="1.15"/><circle cx="503.7" cy="181.4" r="1.15"/><circle cx="525.5" cy="215.6" r="1.15"/><circle cx="544.1" cy="210.4" r="1.15"/><circle cx="505.8" cy="205.1" r="1.15"/><circle cx="524.9" cy="205.4" r="1.15"/><circle cx="536.6" cy="191.0" r="1.15"/><circle cx="517.9" cy="190.1" r="1.15"/><circle cx="545.1" cy="182.5" r="1.15"/><circle cx="518.7" cy="200.4" r="1.15"/><circle cx="511.2" cy="193.9" r="1.15"/><circle cx="500.0" cy="201.8" r="1.15"/><circle cx="511.2" cy="207.0" r="1.15"/><circle cx="551.4" cy="175.8" r="1.15"/><circle cx="541.2" cy="208.6" r="1.15"/><circle cx="555.6" cy="187.4" r="1.15"/><circle cx="531.6" cy="216.5" r="1.15"/><circle cx="550.0" cy="176.7" r="1.15"/><circle cx="518.6" cy="194.1" r="1.15"/><circle cx="526.8" cy="181.4" r="1.15"/><circle cx="535.7" cy="182.9" r="1.15"/><circle cx="542.5" cy="213.0" r="1.15"/><circle cx="508.3" cy="205.7" r="1.15"/><circle cx="550.4" cy="172.8" r="1.15"/><circle cx="548.0" cy="176.5" r="1.15"/><circle cx="520.7" cy="217.7" r="1.15"/><circle cx="496.2" cy="210.7" r="1.15"/><circle cx="544.4" cy="176.9" r="1.15"/><circle cx="520.0" cy="216.3" r="1.15"/><circle cx="533.9" cy="184.3" r="1.15"/><circle cx="542.0" cy="207.0" r="1.15"/><circle cx="530.1" cy="197.9" r="1.15"/><circle cx="544.7" cy="214.2" r="1.15"/><circle cx="510.5" cy="176.0" r="1.15"/><circle cx="534.4" cy="176.5" r="1.15"/><circle cx="513.5" cy="191.2" r="1.15"/><circle cx="534.8" cy="203.5" r="1.15"/><circle cx="517.3" cy="206.6" r="1.15"/><circle cx="502.0" cy="178.7" r="1.15"/><circle cx="521.3" cy="195.8" r="1.15"/><circle cx="528.3" cy="182.0" r="1.15"/><circle cx="526.5" cy="205.8" r="1.15"/><circle cx="545.1" cy="170.3" r="1.15"/><circle cx="534.7" cy="182.3" r="1.15"/><circle cx="525.2" cy="214.4" r="1.15"/><circle cx="539.3" cy="180.4" r="1.15"/><circle cx="521.4" cy="194.2" r="1.15"/><circle cx="537.1" cy="180.2" r="1.15"/><circle cx="549.7" cy="176.7" r="1.15"/><circle cx="517.3" cy="209.7" r="1.15"/><circle cx="547.1" cy="177.7" r="1.15"/><circle cx="525.7" cy="210.0" r="1.15"/><circle cx="520.1" cy="205.7" r="1.15"/><circle cx="536.1" cy="185.0" r="1.15"/><circle cx="543.4" cy="179.2" r="1.15"/><circle cx="517.5" cy="193.5" r="1.15"/><circle cx="537.1" cy="179.9" r="1.15"/><circle cx="539.5" cy="203.9" r="1.15"/><circle cx="500.2" cy="201.8" r="1.15"/><circle cx="501.3" cy="195.8" r="1.15"/><circle cx="516.9" cy="188.7" r="1.15"/></g>
<g fill="#dbb899"><circle cx="499.9" cy="193.6" r="1.15"/><circle cx="528.3" cy="170.9" r="1.15"/><circle cx="556.5" cy="191.6" r="1.15"/><circle cx="506.6" cy="194.2" r="1.15"/><circle cx="516.3" cy="185.2" r="1.15"/><circle cx="527.2" cy="178.6" r="1.15"/><circle cx="518.7" cy="207.5" r="1.15"/><circle cx="521.7" cy="190.9" r="1.15"/><circle cx="519.9" cy="217.1" r="1.15"/><circle cx="509.1" cy="178.5" r="1.15"/><circle cx="532.9" cy="203.3" r="1.15"/><circle cx="523.7" cy="176.2" r="1.15"/><circle cx="538.2" cy="191.1" r="1.15"/><circle cx="514.7" cy="194.7" r="1.15"/><circle cx="525.0" cy="177.4" r="1.15"/><circle cx="501.1" cy="189.3" r="1.15"/><circle cx="521.6" cy="173.4" r="1.15"/><circle cx="519.1" cy="203.6" r="1.15"/><circle cx="510.7" cy="194.7" r="1.15"/><circle cx="511.6" cy="190.9" r="1.15"/><circle cx="538.7" cy="179.6" r="1.15"/><circle cx="528.3" cy="208.5" r="1.15"/><circle cx="515.6" cy="188.5" r="1.15"/><circle cx="513.1" cy="180.5" r="1.15"/><circle cx="531.4" cy="198.8" r="1.15"/><circle cx="531.3" cy="189.2" r="1.15"/><circle cx="517.0" cy="182.2" r="1.15"/><circle cx="496.9" cy="196.9" r="1.15"/><circle cx="499.2" cy="194.2" r="1.15"/><circle cx="541.7" cy="180.3" r="1.15"/><circle cx="504.6" cy="201.0" r="1.15"/><circle cx="545.6" cy="175.3" r="1.15"/><circle cx="522.0" cy="185.9" r="1.15"/><circle cx="531.2" cy="178.5" r="1.15"/><circle cx="525.9" cy="196.0" r="1.15"/><circle cx="530.4" cy="210.0" r="1.15"/><circle cx="517.0" cy="193.2" r="1.15"/><circle cx="516.6" cy="214.6" r="1.15"/><circle cx="505.6" cy="183.8" r="1.15"/><circle cx="510.1" cy="182.4" r="1.15"/><circle cx="528.3" cy="205.0" r="1.15"/><circle cx="511.7" cy="192.7" r="1.15"/><circle cx="526.7" cy="181.3" r="1.15"/><circle cx="507.6" cy="194.0" r="1.15"/><circle cx="523.4" cy="205.4" r="1.15"/><circle cx="530.6" cy="189.1" r="1.15"/><circle cx="514.5" cy="188.3" r="1.15"/><circle cx="513.6" cy="201.1" r="1.15"/><circle cx="517.5" cy="206.5" r="1.15"/><circle cx="517.2" cy="176.6" r="1.15"/><circle cx="498.3" cy="184.7" r="1.15"/><circle cx="509.9" cy="187.7" r="1.15"/><circle cx="505.1" cy="174.8" r="1.15"/><circle cx="529.0" cy="209.8" r="1.15"/><circle cx="512.9" cy="187.4" r="1.15"/><circle cx="510.8" cy="178.6" r="1.15"/><circle cx="501.9" cy="196.4" r="1.15"/><circle cx="518.2" cy="198.8" r="1.15"/><circle cx="494.5" cy="200.5" r="1.15"/><circle cx="509.1" cy="194.9" r="1.15"/><circle cx="516.0" cy="179.3" r="1.15"/><circle cx="514.9" cy="188.5" r="1.15"/><circle cx="524.3" cy="211.5" r="1.15"/><circle cx="533.1" cy="202.4" r="1.15"/><circle cx="514.1" cy="203.5" r="1.15"/><circle cx="494.3" cy="198.8" r="1.15"/><circle cx="541.7" cy="199.2" r="1.15"/><circle cx="520.9" cy="173.1" r="1.15"/><circle cx="513.2" cy="182.5" r="1.15"/><circle cx="517.3" cy="187.1" r="1.15"/><circle cx="504.5" cy="205.5" r="1.15"/><circle cx="519.4" cy="201.8" r="1.15"/><circle cx="515.8" cy="191.5" r="1.15"/><circle cx="517.1" cy="190.3" r="1.15"/><circle cx="529.0" cy="188.4" r="1.15"/><circle cx="516.9" cy="190.9" r="1.15"/><circle cx="509.3" cy="215.0" r="1.15"/><circle cx="529.1" cy="184.2" r="1.15"/><circle cx="501.8" cy="195.7" r="1.15"/><circle cx="546.3" cy="200.4" r="1.15"/><circle cx="497.2" cy="187.5" r="1.15"/><circle cx="541.7" cy="204.4" r="1.15"/><circle cx="505.0" cy="191.7" r="1.15"/><circle cx="505.4" cy="174.9" r="1.15"/><circle cx="501.6" cy="196.4" r="1.15"/><circle cx="512.4" cy="184.4" r="1.15"/><circle cx="517.0" cy="210.9" r="1.15"/><circle cx="526.1" cy="213.3" r="1.15"/><circle cx="547.9" cy="206.1" r="1.15"/><circle cx="532.6" cy="205.7" r="1.15"/><circle cx="527.5" cy="195.5" r="1.15"/><circle cx="535.2" cy="182.4" r="1.15"/><circle cx="516.7" cy="215.2" r="1.15"/><circle cx="523.3" cy="180.4" r="1.15"/><circle cx="522.7" cy="195.9" r="1.15"/><circle cx="553.1" cy="189.0" r="1.15"/><circle cx="511.2" cy="202.2" r="1.15"/><circle cx="512.7" cy="187.5" r="1.15"/><circle cx="535.8" cy="204.1" r="1.15"/><circle cx="537.5" cy="212.6" r="1.15"/><circle cx="526.0" cy="190.1" r="1.15"/><circle cx="528.9" cy="181.2" r="1.15"/><circle cx="510.3" cy="196.1" r="1.15"/><circle cx="515.1" cy="195.0" r="1.15"/><circle cx="550.1" cy="198.8" r="1.15"/><circle cx="529.1" cy="210.2" r="1.15"/><circle cx="514.1" cy="186.3" r="1.15"/><circle cx="512.5" cy="196.4" r="1.15"/><circle cx="508.5" cy="199.3" r="1.15"/><circle cx="515.2" cy="198.2" r="1.15"/><circle cx="503.4" cy="207.5" r="1.15"/><circle cx="537.2" cy="191.3" r="1.15"/><circle cx="508.6" cy="218.3" r="1.15"/><circle cx="503.8" cy="203.0" r="1.15"/><circle cx="528.7" cy="193.1" r="1.15"/><circle cx="548.0" cy="180.2" r="1.15"/><circle cx="523.0" cy="194.8" r="1.15"/><circle cx="505.0" cy="192.0" r="1.15"/><circle cx="528.2" cy="204.4" r="1.15"/><circle cx="528.2" cy="187.5" r="1.15"/><circle cx="535.7" cy="211.5" r="1.15"/><circle cx="521.6" cy="185.4" r="1.15"/><circle cx="533.7" cy="179.4" r="1.15"/><circle cx="533.0" cy="208.4" r="1.15"/><circle cx="496.5" cy="186.5" r="1.15"/><circle cx="517.9" cy="213.4" r="1.15"/><circle cx="506.5" cy="200.7" r="1.15"/><circle cx="541.1" cy="190.4" r="1.15"/><circle cx="534.3" cy="171.7" r="1.15"/><circle cx="531.3" cy="210.6" r="1.15"/><circle cx="544.4" cy="165.5" r="1.15"/><circle cx="556.8" cy="183.3" r="1.15"/></g>
<g fill="#8be3a0"><circle cx="531.4" cy="206.1" r="1.15"/><circle cx="527.9" cy="180.5" r="1.15"/><circle cx="515.5" cy="192.4" r="1.15"/><circle cx="527.4" cy="193.1" r="1.15"/><circle cx="518.9" cy="194.6" r="1.15"/><circle cx="513.2" cy="187.6" r="1.15"/><circle cx="511.6" cy="214.0" r="1.15"/><circle cx="512.7" cy="208.3" r="1.15"/><circle cx="534.1" cy="195.8" r="1.15"/><circle cx="507.9" cy="209.9" r="1.15"/><circle cx="546.0" cy="211.5" r="1.15"/><circle cx="532.4" cy="209.4" r="1.15"/><circle cx="502.9" cy="199.5" r="1.15"/><circle cx="554.5" cy="179.1" r="1.15"/><circle cx="520.4" cy="214.7" r="1.15"/><circle cx="526.8" cy="183.5" r="1.15"/><circle cx="528.7" cy="183.9" r="1.15"/><circle cx="554.9" cy="198.5" r="1.15"/><circle cx="529.5" cy="207.0" r="1.15"/><circle cx="547.6" cy="203.2" r="1.15"/><circle cx="524.0" cy="208.6" r="1.15"/><circle cx="519.8" cy="211.9" r="1.15"/><circle cx="510.8" cy="202.8" r="1.15"/><circle cx="506.0" cy="188.9" r="1.15"/><circle cx="511.7" cy="188.5" r="1.15"/><circle cx="539.3" cy="200.2" r="1.15"/><circle cx="527.8" cy="206.1" r="1.15"/><circle cx="509.6" cy="178.5" r="1.15"/><circle cx="504.9" cy="189.7" r="1.15"/><circle cx="503.5" cy="210.8" r="1.15"/><circle cx="526.3" cy="201.6" r="1.15"/><circle cx="545.5" cy="186.6" r="1.15"/><circle cx="532.0" cy="199.4" r="1.15"/><circle cx="551.9" cy="205.1" r="1.15"/><circle cx="543.3" cy="174.8" r="1.15"/><circle cx="518.7" cy="215.5" r="1.15"/><circle cx="517.9" cy="194.3" r="1.15"/><circle cx="533.9" cy="209.4" r="1.15"/><circle cx="524.6" cy="190.8" r="1.15"/><circle cx="507.6" cy="213.4" r="1.15"/><circle cx="539.7" cy="184.0" r="1.15"/><circle cx="553.2" cy="186.1" r="1.15"/><circle cx="546.9" cy="174.4" r="1.15"/><circle cx="521.1" cy="181.6" r="1.15"/><circle cx="548.4" cy="198.8" r="1.15"/><circle cx="515.9" cy="177.0" r="1.15"/><circle cx="518.7" cy="203.1" r="1.15"/><circle cx="531.6" cy="198.8" r="1.15"/><circle cx="546.0" cy="194.4" r="1.15"/><circle cx="542.1" cy="170.4" r="1.15"/><circle cx="546.5" cy="206.8" r="1.15"/><circle cx="529.6" cy="186.6" r="1.15"/><circle cx="547.9" cy="179.5" r="1.15"/><circle cx="546.5" cy="181.8" r="1.15"/><circle cx="495.4" cy="195.7" r="1.15"/><circle cx="502.1" cy="207.3" r="1.15"/><circle cx="519.4" cy="201.8" r="1.15"/><circle cx="527.0" cy="216.1" r="1.15"/><circle cx="529.6" cy="207.3" r="1.15"/><circle cx="534.6" cy="208.6" r="1.15"/><circle cx="527.8" cy="197.8" r="1.15"/><circle cx="523.5" cy="201.3" r="1.15"/><circle cx="528.1" cy="219.1" r="1.15"/><circle cx="506.1" cy="208.6" r="1.15"/><circle cx="531.7" cy="205.9" r="1.15"/><circle cx="532.3" cy="202.1" r="1.15"/><circle cx="543.2" cy="187.5" r="1.15"/><circle cx="517.3" cy="199.0" r="1.15"/><circle cx="548.8" cy="191.2" r="1.15"/><circle cx="528.4" cy="182.3" r="1.15"/><circle cx="546.3" cy="187.9" r="1.15"/><circle cx="538.0" cy="218.4" r="1.15"/><circle cx="540.0" cy="195.7" r="1.15"/><circle cx="522.7" cy="212.9" r="1.15"/><circle cx="540.4" cy="202.8" r="1.15"/><circle cx="498.4" cy="194.7" r="1.15"/><circle cx="539.1" cy="195.6" r="1.15"/><circle cx="530.9" cy="210.3" r="1.15"/><circle cx="545.9" cy="186.3" r="1.15"/><circle cx="509.1" cy="206.2" r="1.15"/><circle cx="541.6" cy="202.7" r="1.15"/><circle cx="509.7" cy="198.9" r="1.15"/><circle cx="510.1" cy="207.6" r="1.15"/><circle cx="553.9" cy="173.6" r="1.15"/><circle cx="539.8" cy="208.4" r="1.15"/><circle cx="515.9" cy="192.1" r="1.15"/><circle cx="525.8" cy="205.4" r="1.15"/><circle cx="523.9" cy="201.2" r="1.15"/><circle cx="551.6" cy="193.1" r="1.15"/><circle cx="548.9" cy="204.3" r="1.15"/><circle cx="541.8" cy="206.2" r="1.15"/><circle cx="544.7" cy="194.1" r="1.15"/><circle cx="531.9" cy="203.1" r="1.15"/><circle cx="550.0" cy="183.1" r="1.15"/><circle cx="529.3" cy="198.8" r="1.15"/><circle cx="498.3" cy="203.1" r="1.15"/><circle cx="518.7" cy="194.7" r="1.15"/><circle cx="546.4" cy="193.8" r="1.15"/><circle cx="518.8" cy="197.6" r="1.15"/><circle cx="496.5" cy="193.1" r="1.15"/><circle cx="527.5" cy="188.4" r="1.15"/><circle cx="519.9" cy="205.6" r="1.15"/><circle cx="527.5" cy="190.3" r="1.15"/><circle cx="536.6" cy="201.7" r="1.15"/><circle cx="512.4" cy="208.4" r="1.15"/><circle cx="537.9" cy="190.6" r="1.15"/><circle cx="508.1" cy="208.4" r="1.15"/><circle cx="523.7" cy="191.5" r="1.15"/><circle cx="542.8" cy="195.9" r="1.15"/><circle cx="535.7" cy="212.2" r="1.15"/><circle cx="540.7" cy="217.1" r="1.15"/><circle cx="524.1" cy="192.0" r="1.15"/><circle cx="500.5" cy="201.3" r="1.15"/><circle cx="516.7" cy="211.2" r="1.15"/><circle cx="543.2" cy="175.7" r="1.15"/><circle cx="519.7" cy="195.4" r="1.15"/><circle cx="542.1" cy="196.9" r="1.15"/><circle cx="537.3" cy="203.3" r="1.15"/><circle cx="537.4" cy="183.5" r="1.15"/><circle cx="504.8" cy="206.9" r="1.15"/><circle cx="543.8" cy="178.5" r="1.15"/><circle cx="541.0" cy="193.0" r="1.15"/><circle cx="512.9" cy="195.5" r="1.15"/><circle cx="502.5" cy="207.3" r="1.15"/><circle cx="537.4" cy="183.4" r="1.15"/><circle cx="547.4" cy="179.5" r="1.15"/><circle cx="548.8" cy="206.3" r="1.15"/><circle cx="518.9" cy="197.4" r="1.15"/><circle cx="544.2" cy="200.1" r="1.15"/><circle cx="529.2" cy="202.4" r="1.15"/><circle cx="551.9" cy="191.4" r="1.15"/><circle cx="506.5" cy="207.1" r="1.15"/><circle cx="530.7" cy="203.6" r="1.15"/><circle cx="549.1" cy="208.0" r="1.15"/><circle cx="548.0" cy="194.1" r="1.15"/><circle cx="555.8" cy="193.0" r="1.15"/></g>
<polygon points="566.1,187.0 571.2,174.8 602.7,169.0 613.0,170.9 622.0,176.7 623.3,193.4 615.6,224.9 592.4,214.0 566.7,193.4" fill="#ffe1e0"/>
<g fill="#8be3a0"><circle cx="600.2" cy="206.1" r="1.15"/><circle cx="596.7" cy="180.5" r="1.15"/><circle cx="584.3" cy="192.4" r="1.15"/><circle cx="596.2" cy="193.1" r="1.15"/><circle cx="587.7" cy="194.6" r="1.15"/><circle cx="582.0" cy="187.6" r="1.15"/><circle cx="580.4" cy="214.0" r="1.15"/><circle cx="581.5" cy="208.3" r="1.15"/><circle cx="602.9" cy="195.8" r="1.15"/><circle cx="576.7" cy="209.9" r="1.15"/><circle cx="614.8" cy="211.5" r="1.15"/><circle cx="601.2" cy="209.4" r="1.15"/><circle cx="571.7" cy="199.5" r="1.15"/><circle cx="623.3" cy="179.1" r="1.15"/><circle cx="589.2" cy="214.7" r="1.15"/><circle cx="595.6" cy="183.5" r="1.15"/><circle cx="597.5" cy="183.9" r="1.15"/><circle cx="623.7" cy="198.5" r="1.15"/><circle cx="598.3" cy="207.0" r="1.15"/><circle cx="616.4" cy="203.2" r="1.15"/><circle cx="592.8" cy="208.6" r="1.15"/><circle cx="588.6" cy="211.9" r="1.15"/><circle cx="579.6" cy="202.8" r="1.15"/><circle cx="574.8" cy="188.9" r="1.15"/><circle cx="580.5" cy="188.5" r="1.15"/><circle cx="608.1" cy="200.2" r="1.15"/><circle cx="596.6" cy="206.1" r="1.15"/><circle cx="578.4" cy="178.5" r="1.15"/><circle cx="573.7" cy="189.7" r="1.15"/><circle cx="572.3" cy="210.8" r="1.15"/><circle cx="595.1" cy="201.6" r="1.15"/><circle cx="614.3" cy="186.6" r="1.15"/><circle cx="600.8" cy="199.4" r="1.15"/><circle cx="620.7" cy="205.1" r="1.15"/><circle cx="612.1" cy="174.8" r="1.15"/><circle cx="587.5" cy="215.5" r="1.15"/><circle cx="586.7" cy="194.3" r="1.15"/><circle cx="602.7" cy="209.4" r="1.15"/><circle cx="593.4" cy="190.8" r="1.15"/><circle cx="576.4" cy="213.4" r="1.15"/><circle cx="608.5" cy="184.0" r="1.15"/><circle cx="622.0" cy="186.1" r="1.15"/><circle cx="615.7" cy="174.4" r="1.15"/><circle cx="589.9" cy="181.6" r="1.15"/><circle cx="617.2" cy="198.8" r="1.15"/><circle cx="584.7" cy="177.0" r="1.15"/><circle cx="587.5" cy="203.1" r="1.15"/><circle cx="600.4" cy="198.8" r="1.15"/><circle cx="614.8" cy="194.4" r="1.15"/><circle cx="610.9" cy="170.4" r="1.15"/><circle cx="615.3" cy="206.8" r="1.15"/><circle cx="598.4" cy="186.6" r="1.15"/><circle cx="616.7" cy="179.5" r="1.15"/><circle cx="615.3" cy="181.8" r="1.15"/><circle cx="564.2" cy="195.7" r="1.15"/><circle cx="570.9" cy="207.3" r="1.15"/><circle cx="588.2" cy="201.8" r="1.15"/><circle cx="595.8" cy="216.1" r="1.15"/><circle cx="598.4" cy="207.3" r="1.15"/><circle cx="603.4" cy="208.6" r="1.15"/><circle cx="596.6" cy="197.8" r="1.15"/><circle cx="592.3" cy="201.3" r="1.15"/><circle cx="596.9" cy="219.1" r="1.15"/><circle cx="574.9" cy="208.6" r="1.15"/><circle cx="600.5" cy="205.9" r="1.15"/><circle cx="601.1" cy="202.1" r="1.15"/><circle cx="612.0" cy="187.5" r="1.15"/><circle cx="586.1" cy="199.0" r="1.15"/><circle cx="617.6" cy="191.2" r="1.15"/><circle cx="597.2" cy="182.3" r="1.15"/><circle cx="615.1" cy="187.9" r="1.15"/><circle cx="606.8" cy="218.4" r="1.15"/><circle cx="608.8" cy="195.7" r="1.15"/><circle cx="591.5" cy="212.9" r="1.15"/><circle cx="609.2" cy="202.8" r="1.15"/><circle cx="567.2" cy="194.7" r="1.15"/><circle cx="607.9" cy="195.6" r="1.15"/><circle cx="599.7" cy="210.3" r="1.15"/><circle cx="614.7" cy="186.3" r="1.15"/><circle cx="577.9" cy="206.2" r="1.15"/><circle cx="610.4" cy="202.7" r="1.15"/><circle cx="578.5" cy="198.9" r="1.15"/><circle cx="578.9" cy="207.6" r="1.15"/><circle cx="622.7" cy="173.6" r="1.15"/><circle cx="608.6" cy="208.4" r="1.15"/><circle cx="584.7" cy="192.1" r="1.15"/><circle cx="594.6" cy="205.4" r="1.15"/><circle cx="592.7" cy="201.2" r="1.15"/><circle cx="620.4" cy="193.1" r="1.15"/><circle cx="617.7" cy="204.3" r="1.15"/><circle cx="610.6" cy="206.2" r="1.15"/><circle cx="613.5" cy="194.1" r="1.15"/><circle cx="600.7" cy="203.1" r="1.15"/><circle cx="618.8" cy="183.1" r="1.15"/><circle cx="598.1" cy="198.8" r="1.15"/><circle cx="567.1" cy="203.1" r="1.15"/><circle cx="587.5" cy="194.7" r="1.15"/><circle cx="615.2" cy="193.8" r="1.15"/><circle cx="587.6" cy="197.6" r="1.15"/><circle cx="565.3" cy="193.1" r="1.15"/><circle cx="596.3" cy="188.4" r="1.15"/><circle cx="588.7" cy="205.6" r="1.15"/><circle cx="596.3" cy="190.3" r="1.15"/><circle cx="605.4" cy="201.7" r="1.15"/><circle cx="581.2" cy="208.4" r="1.15"/><circle cx="606.7" cy="190.6" r="1.15"/><circle cx="576.9" cy="208.4" r="1.15"/><circle cx="592.5" cy="191.5" r="1.15"/><circle cx="611.6" cy="195.9" r="1.15"/><circle cx="604.5" cy="212.2" r="1.15"/><circle cx="609.5" cy="217.1" r="1.15"/><circle cx="592.9" cy="192.0" r="1.15"/><circle cx="569.3" cy="201.3" r="1.15"/><circle cx="585.5" cy="211.2" r="1.15"/><circle cx="612.0" cy="175.7" r="1.15"/><circle cx="588.5" cy="195.4" r="1.15"/><circle cx="610.9" cy="196.9" r="1.15"/><circle cx="606.1" cy="203.3" r="1.15"/><circle cx="606.2" cy="183.5" r="1.15"/><circle cx="573.6" cy="206.9" r="1.15"/><circle cx="612.6" cy="178.5" r="1.15"/><circle cx="609.8" cy="193.0" r="1.15"/><circle cx="581.7" cy="195.5" r="1.15"/><circle cx="571.3" cy="207.3" r="1.15"/><circle cx="606.2" cy="183.4" r="1.15"/><circle cx="616.2" cy="179.5" r="1.15"/><circle cx="617.6" cy="206.3" r="1.15"/><circle cx="587.7" cy="197.4" r="1.15"/><circle cx="613.0" cy="200.1" r="1.15"/><circle cx="598.0" cy="202.4" r="1.15"/><circle cx="620.7" cy="191.4" r="1.15"/><circle cx="575.3" cy="207.1" r="1.15"/><circle cx="599.5" cy="203.6" r="1.15"/><circle cx="617.9" cy="208.0" r="1.15"/><circle cx="616.8" cy="194.1" r="1.15"/><circle cx="624.6" cy="193.0" r="1.15"/></g>
<g fill="#cbb9fc"><circle cx="603.1" cy="180.3" r="1.15"/><circle cx="590.1" cy="206.1" r="1.15"/><circle cx="575.7" cy="191.1" r="1.15"/><circle cx="596.2" cy="195.1" r="1.15"/><circle cx="602.1" cy="209.2" r="1.15"/><circle cx="582.4" cy="191.4" r="1.15"/><circle cx="580.3" cy="183.0" r="1.15"/><circle cx="573.8" cy="199.3" r="1.15"/><circle cx="611.6" cy="177.8" r="1.15"/><circle cx="586.8" cy="210.9" r="1.15"/><circle cx="607.9" cy="180.5" r="1.15"/><circle cx="581.5" cy="192.1" r="1.15"/><circle cx="608.6" cy="213.2" r="1.15"/><circle cx="598.3" cy="184.7" r="1.15"/><circle cx="577.6" cy="197.6" r="1.15"/><circle cx="570.7" cy="200.1" r="1.15"/><circle cx="611.7" cy="175.2" r="1.15"/><circle cx="570.9" cy="196.7" r="1.15"/><circle cx="607.7" cy="170.3" r="1.15"/><circle cx="608.4" cy="209.5" r="1.15"/><circle cx="596.6" cy="199.5" r="1.15"/><circle cx="562.7" cy="202.8" r="1.15"/><circle cx="563.3" cy="201.0" r="1.15"/><circle cx="597.9" cy="208.7" r="1.15"/><circle cx="596.5" cy="215.2" r="1.15"/><circle cx="588.7" cy="202.9" r="1.15"/><circle cx="605.2" cy="178.8" r="1.15"/><circle cx="580.9" cy="187.1" r="1.15"/><circle cx="571.4" cy="193.8" r="1.15"/><circle cx="580.5" cy="187.7" r="1.15"/><circle cx="598.9" cy="170.4" r="1.15"/><circle cx="614.2" cy="177.4" r="1.15"/><circle cx="619.9" cy="194.0" r="1.15"/><circle cx="579.9" cy="195.6" r="1.15"/><circle cx="590.8" cy="190.8" r="1.15"/><circle cx="585.7" cy="213.8" r="1.15"/><circle cx="616.5" cy="194.4" r="1.15"/><circle cx="579.0" cy="202.2" r="1.15"/><circle cx="599.8" cy="188.3" r="1.15"/><circle cx="577.0" cy="197.9" r="1.15"/><circle cx="566.7" cy="202.5" r="1.15"/><circle cx="605.7" cy="179.5" r="1.15"/><circle cx="591.1" cy="212.4" r="1.15"/><circle cx="604.7" cy="199.4" r="1.15"/><circle cx="595.6" cy="186.8" r="1.15"/><circle cx="582.7" cy="201.2" r="1.15"/><circle cx="578.4" cy="202.4" r="1.15"/><circle cx="615.5" cy="177.7" r="1.15"/><circle cx="569.5" cy="199.6" r="1.15"/><circle cx="575.7" cy="183.9" r="1.15"/><circle cx="572.4" cy="203.2" r="1.15"/><circle cx="612.5" cy="172.4" r="1.15"/><circle cx="604.1" cy="182.0" r="1.15"/><circle cx="575.7" cy="201.9" r="1.15"/><circle cx="588.2" cy="208.0" r="1.15"/><circle cx="586.8" cy="182.5" r="1.15"/><circle cx="572.5" cy="181.4" r="1.15"/><circle cx="594.3" cy="215.6" r="1.15"/><circle cx="612.9" cy="210.4" r="1.15"/><circle cx="574.6" cy="205.1" r="1.15"/><circle cx="593.7" cy="205.4" r="1.15"/><circle cx="605.4" cy="191.0" r="1.15"/><circle cx="586.7" cy="190.1" r="1.15"/><circle cx="613.9" cy="182.5" r="1.15"/><circle cx="587.5" cy="200.4" r="1.15"/><circle cx="580.0" cy="193.9" r="1.15"/><circle cx="568.8" cy="201.8" r="1.15"/><circle cx="580.0" cy="207.0" r="1.15"/><circle cx="620.2" cy="175.8" r="1.15"/><circle cx="610.0" cy="208.6" r="1.15"/><circle cx="624.4" cy="187.4" r="1.15"/><circle cx="600.4" cy="216.5" r="1.15"/><circle cx="618.8" cy="176.7" r="1.15"/><circle cx="587.4" cy="194.1" r="1.15"/><circle cx="595.6" cy="181.4" r="1.15"/><circle cx="604.5" cy="182.9" r="1.15"/><circle cx="611.3" cy="213.0" r="1.15"/><circle cx="577.1" cy="205.7" r="1.15"/><circle cx="619.2" cy="172.8" r="1.15"/><circle cx="616.8" cy="176.5" r="1.15"/><circle cx="589.5" cy="217.7" r="1.15"/><circle cx="565.0" cy="210.7" r="1.15"/><circle cx="613.2" cy="176.9" r="1.15"/><circle cx="588.8" cy="216.3" r="1.15"/><circle cx="602.7" cy="184.3" r="1.15"/><circle cx="610.8" cy="207.0" r="1.15"/><circle cx="598.9" cy="197.9" r="1.15"/><circle cx="613.5" cy="214.2" r="1.15"/><circle cx="579.3" cy="176.0" r="1.15"/><circle cx="603.2" cy="176.5" r="1.15"/><circle cx="582.3" cy="191.2" r="1.15"/><circle cx="603.6" cy="203.5" r="1.15"/><circle cx="586.1" cy="206.6" r="1.15"/><circle cx="570.8" cy="178.7" r="1.15"/><circle cx="590.1" cy="195.8" r="1.15"/><circle cx="597.1" cy="182.0" r="1.15"/><circle cx="595.3" cy="205.8" r="1.15"/><circle cx="613.9" cy="170.3" r="1.15"/><circle cx="603.5" cy="182.3" r="1.15"/><circle cx="594.0" cy="214.4" r="1.15"/><circle cx="608.1" cy="180.4" r="1.15"/><circle cx="590.2" cy="194.2" r="1.15"/><circle cx="605.9" cy="180.2" r="1.15"/><circle cx="618.5" cy="176.7" r="1.15"/><circle cx="586.1" cy="209.7" r="1.15"/><circle cx="615.9" cy="177.7" r="1.15"/><circle cx="594.5" cy="210.0" r="1.15"/><circle cx="588.9" cy="205.7" r="1.15"/><circle cx="604.9" cy="185.0" r="1.15"/><circle cx="612.2" cy="179.2" r="1.15"/><circle cx="586.3" cy="193.5" r="1.15"/><circle cx="605.9" cy="179.9" r="1.15"/><circle cx="608.3" cy="203.9" r="1.15"/><circle cx="569.0" cy="201.8" r="1.15"/><circle cx="570.1" cy="195.8" r="1.15"/><circle cx="585.7" cy="188.7" r="1.15"/></g>
<g fill="#dbb899"><circle cx="568.7" cy="193.6" r="1.15"/><circle cx="597.1" cy="170.9" r="1.15"/><circle cx="625.3" cy="191.6" r="1.15"/><circle cx="575.4" cy="194.2" r="1.15"/><circle cx="585.1" cy="185.2" r="1.15"/><circle cx="596.0" cy="178.6" r="1.15"/><circle cx="587.5" cy="207.5" r="1.15"/><circle cx="590.5" cy="190.9" r="1.15"/><circle cx="588.7" cy="217.1" r="1.15"/><circle cx="577.9" cy="178.5" r="1.15"/><circle cx="601.7" cy="203.3" r="1.15"/><circle cx="592.5" cy="176.2" r="1.15"/><circle cx="607.0" cy="191.1" r="1.15"/><circle cx="583.5" cy="194.7" r="1.15"/><circle cx="593.8" cy="177.4" r="1.15"/><circle cx="569.9" cy="189.3" r="1.15"/><circle cx="590.4" cy="173.4" r="1.15"/><circle cx="587.9" cy="203.6" r="1.15"/><circle cx="579.5" cy="194.7" r="1.15"/><circle cx="580.4" cy="190.9" r="1.15"/><circle cx="607.5" cy="179.6" r="1.15"/><circle cx="597.1" cy="208.5" r="1.15"/><circle cx="584.4" cy="188.5" r="1.15"/><circle cx="581.9" cy="180.5" r="1.15"/><circle cx="600.2" cy="198.8" r="1.15"/><circle cx="600.1" cy="189.2" r="1.15"/><circle cx="585.8" cy="182.2" r="1.15"/><circle cx="565.7" cy="196.9" r="1.15"/><circle cx="568.0" cy="194.2" r="1.15"/><circle cx="610.5" cy="180.3" r="1.15"/><circle cx="573.4" cy="201.0" r="1.15"/><circle cx="614.4" cy="175.3" r="1.15"/><circle cx="590.8" cy="185.9" r="1.15"/><circle cx="600.0" cy="178.5" r="1.15"/><circle cx="594.7" cy="196.0" r="1.15"/><circle cx="599.2" cy="210.0" r="1.15"/><circle cx="585.8" cy="193.2" r="1.15"/><circle cx="585.4" cy="214.6" r="1.15"/><circle cx="574.4" cy="183.8" r="1.15"/><circle cx="578.9" cy="182.4" r="1.15"/><circle cx="597.1" cy="205.0" r="1.15"/><circle cx="580.5" cy="192.7" r="1.15"/><circle cx="595.5" cy="181.3" r="1.15"/><circle cx="576.4" cy="194.0" r="1.15"/><circle cx="592.2" cy="205.4" r="1.15"/><circle cx="599.4" cy="189.1" r="1.15"/><circle cx="583.3" cy="188.3" r="1.15"/><circle cx="582.4" cy="201.1" r="1.15"/><circle cx="586.3" cy="206.5" r="1.15"/><circle cx="586.0" cy="176.6" r="1.15"/><circle cx="567.1" cy="184.7" r="1.15"/><circle cx="578.7" cy="187.7" r="1.15"/><circle cx="573.9" cy="174.8" r="1.15"/><circle cx="597.8" cy="209.8" r="1.15"/><circle cx="581.7" cy="187.4" r="1.15"/><circle cx="579.6" cy="178.6" r="1.15"/><circle cx="570.7" cy="196.4" r="1.15"/><circle cx="587.0" cy="198.8" r="1.15"/><circle cx="563.3" cy="200.5" r="1.15"/><circle cx="577.9" cy="194.9" r="1.15"/><circle cx="584.8" cy="179.3" r="1.15"/><circle cx="583.7" cy="188.5" r="1.15"/><circle cx="593.1" cy="211.5" r="1.15"/><circle cx="601.9" cy="202.4" r="1.15"/><circle cx="582.9" cy="203.5" r="1.15"/><circle cx="563.1" cy="198.8" r="1.15"/><circle cx="610.5" cy="199.2" r="1.15"/><circle cx="589.7" cy="173.1" r="1.15"/><circle cx="582.0" cy="182.5" r="1.15"/><circle cx="586.1" cy="187.1" r="1.15"/><circle cx="573.3" cy="205.5" r="1.15"/><circle cx="588.2" cy="201.8" r="1.15"/><circle cx="584.6" cy="191.5" r="1.15"/><circle cx="585.9" cy="190.3" r="1.15"/><circle cx="597.8" cy="188.4" r="1.15"/><circle cx="585.7" cy="190.9" r="1.15"/><circle cx="578.1" cy="215.0" r="1.15"/><circle cx="597.9" cy="184.2" r="1.15"/><circle cx="570.6" cy="195.7" r="1.15"/><circle cx="615.1" cy="200.4" r="1.15"/><circle cx="566.0" cy="187.5" r="1.15"/><circle cx="610.5" cy="204.4" r="1.15"/><circle cx="573.8" cy="191.7" r="1.15"/><circle cx="574.2" cy="174.9" r="1.15"/><circle cx="570.4" cy="196.4" r="1.15"/><circle cx="581.2" cy="184.4" r="1.15"/><circle cx="585.8" cy="210.9" r="1.15"/><circle cx="594.9" cy="213.3" r="1.15"/><circle cx="616.7" cy="206.1" r="1.15"/><circle cx="601.4" cy="205.7" r="1.15"/><circle cx="596.3" cy="195.5" r="1.15"/><circle cx="604.0" cy="182.4" r="1.15"/><circle cx="585.5" cy="215.2" r="1.15"/><circle cx="592.1" cy="180.4" r="1.15"/><circle cx="591.5" cy="195.9" r="1.15"/><circle cx="621.9" cy="189.0" r="1.15"/><circle cx="580.0" cy="202.2" r="1.15"/><circle cx="581.5" cy="187.5" r="1.15"/><circle cx="604.6" cy="204.1" r="1.15"/><circle cx="606.3" cy="212.6" r="1.15"/><circle cx="594.8" cy="190.1" r="1.15"/><circle cx="597.7" cy="181.2" r="1.15"/><circle cx="579.1" cy="196.1" r="1.15"/><circle cx="583.9" cy="195.0" r="1.15"/><circle cx="618.9" cy="198.8" r="1.15"/><circle cx="597.9" cy="210.2" r="1.15"/><circle cx="582.9" cy="186.3" r="1.15"/><circle cx="581.3" cy="196.4" r="1.15"/><circle cx="577.3" cy="199.3" r="1.15"/><circle cx="584.0" cy="198.2" r="1.15"/><circle cx="572.2" cy="207.5" r="1.15"/><circle cx="606.0" cy="191.3" r="1.15"/><circle cx="577.4" cy="218.3" r="1.15"/><circle cx="572.6" cy="203.0" r="1.15"/><circle cx="597.5" cy="193.1" r="1.15"/><circle cx="616.8" cy="180.2" r="1.15"/><circle cx="591.8" cy="194.8" r="1.15"/><circle cx="573.8" cy="192.0" r="1.15"/><circle cx="597.0" cy="204.4" r="1.15"/><circle cx="597.0" cy="187.5" r="1.15"/><circle cx="604.5" cy="211.5" r="1.15"/><circle cx="590.4" cy="185.4" r="1.15"/><circle cx="602.5" cy="179.4" r="1.15"/><circle cx="601.8" cy="208.4" r="1.15"/><circle cx="565.3" cy="186.5" r="1.15"/><circle cx="586.7" cy="213.4" r="1.15"/><circle cx="575.3" cy="200.7" r="1.15"/><circle cx="609.9" cy="190.4" r="1.15"/><circle cx="603.1" cy="171.7" r="1.15"/><circle cx="600.1" cy="210.6" r="1.15"/><circle cx="613.2" cy="165.5" r="1.15"/><circle cx="625.6" cy="183.3" r="1.15"/></g>
<g fill="#fb9f9c"><circle cx="590.1" cy="210.5" r="1.15"/><circle cx="570.3" cy="182.8" r="1.15"/><circle cx="595.9" cy="183.5" r="1.15"/><circle cx="598.4" cy="202.6" r="1.15"/><circle cx="574.8" cy="179.0" r="1.15"/><circle cx="574.7" cy="183.1" r="1.15"/><circle cx="604.5" cy="184.0" r="1.15"/><circle cx="599.1" cy="210.7" r="1.15"/><circle cx="570.3" cy="186.1" r="1.15"/><circle cx="613.1" cy="172.1" r="1.15"/><circle cx="584.9" cy="212.8" r="1.15"/><circle cx="606.2" cy="217.4" r="1.15"/><circle cx="569.9" cy="176.2" r="1.15"/><circle cx="582.7" cy="199.6" r="1.15"/><circle cx="599.6" cy="209.8" r="1.15"/><circle cx="584.9" cy="177.9" r="1.15"/><circle cx="597.0" cy="203.1" r="1.15"/><circle cx="571.8" cy="193.8" r="1.15"/><circle cx="609.2" cy="204.2" r="1.15"/><circle cx="617.6" cy="169.9" r="1.15"/><circle cx="595.6" cy="219.2" r="1.15"/><circle cx="605.9" cy="190.6" r="1.15"/><circle cx="613.6" cy="214.2" r="1.15"/><circle cx="602.2" cy="217.2" r="1.15"/><circle cx="606.5" cy="211.6" r="1.15"/><circle cx="580.4" cy="184.2" r="1.15"/><circle cx="588.9" cy="173.0" r="1.15"/><circle cx="601.7" cy="192.8" r="1.15"/><circle cx="570.5" cy="194.0" r="1.15"/><circle cx="584.8" cy="175.6" r="1.15"/><circle cx="590.0" cy="187.7" r="1.15"/><circle cx="575.8" cy="188.8" r="1.15"/><circle cx="592.8" cy="193.9" r="1.15"/><circle cx="595.0" cy="179.9" r="1.15"/><circle cx="579.7" cy="186.4" r="1.15"/><circle cx="611.7" cy="216.3" r="1.15"/><circle cx="572.8" cy="203.2" r="1.15"/><circle cx="596.7" cy="174.9" r="1.15"/><circle cx="602.0" cy="200.4" r="1.15"/><circle cx="613.5" cy="190.1" r="1.15"/><circle cx="579.7" cy="185.1" r="1.15"/><circle cx="565.1" cy="185.7" r="1.15"/><circle cx="578.1" cy="177.3" r="1.15"/><circle cx="584.9" cy="191.8" r="1.15"/><circle cx="584.3" cy="185.8" r="1.15"/><circle cx="619.4" cy="186.0" r="1.15"/><circle cx="591.1" cy="190.2" r="1.15"/><circle cx="578.4" cy="188.7" r="1.15"/><circle cx="587.8" cy="195.0" r="1.15"/><circle cx="609.3" cy="214.7" r="1.15"/><circle cx="611.5" cy="204.2" r="1.15"/><circle cx="597.2" cy="201.0" r="1.15"/><circle cx="599.7" cy="183.4" r="1.15"/><circle cx="606.6" cy="214.7" r="1.15"/><circle cx="582.0" cy="206.8" r="1.15"/><circle cx="622.1" cy="186.1" r="1.15"/><circle cx="579.0" cy="178.2" r="1.15"/><circle cx="590.5" cy="191.6" r="1.15"/><circle cx="582.1" cy="186.9" r="1.15"/><circle cx="577.6" cy="184.5" r="1.15"/><circle cx="586.3" cy="209.6" r="1.15"/><circle cx="586.4" cy="175.1" r="1.15"/><circle cx="600.0" cy="219.3" r="1.15"/><circle cx="588.8" cy="206.1" r="1.15"/><circle cx="608.4" cy="209.7" r="1.15"/><circle cx="576.9" cy="184.2" r="1.15"/><circle cx="571.1" cy="189.6" r="1.15"/><circle cx="578.3" cy="196.9" r="1.15"/><circle cx="590.7" cy="201.3" r="1.15"/><circle cx="565.6" cy="182.3" r="1.15"/><circle cx="600.3" cy="203.5" r="1.15"/><circle cx="583.3" cy="182.2" r="1.15"/><circle cx="586.1" cy="190.2" r="1.15"/><circle cx="591.8" cy="173.8" r="1.15"/><circle cx="577.3" cy="201.9" r="1.15"/><circle cx="575.9" cy="186.4" r="1.15"/><circle cx="614.2" cy="191.5" r="1.15"/><circle cx="566.9" cy="185.5" r="1.15"/><circle cx="600.0" cy="217.3" r="1.15"/><circle cx="573.2" cy="207.7" r="1.15"/><circle cx="577.1" cy="181.7" r="1.15"/><circle cx="605.6" cy="201.1" r="1.15"/><circle cx="577.0" cy="188.8" r="1.15"/><circle cx="591.1" cy="181.1" r="1.15"/><circle cx="586.1" cy="196.6" r="1.15"/><circle cx="600.7" cy="202.8" r="1.15"/><circle cx="594.5" cy="192.1" r="1.15"/><circle cx="611.3" cy="212.3" r="1.15"/><circle cx="583.4" cy="190.8" r="1.15"/><circle cx="565.8" cy="183.8" r="1.15"/><circle cx="611.5" cy="192.6" r="1.15"/><circle cx="572.2" cy="174.8" r="1.15"/><circle cx="581.4" cy="181.2" r="1.15"/><circle cx="597.1" cy="203.6" r="1.15"/><circle cx="572.1" cy="178.6" r="1.15"/><circle cx="587.8" cy="182.2" r="1.15"/><circle cx="598.0" cy="201.1" r="1.15"/><circle cx="577.5" cy="178.6" r="1.15"/><circle cx="610.3" cy="199.3" r="1.15"/><circle cx="567.8" cy="190.4" r="1.15"/><circle cx="575.4" cy="192.1" r="1.15"/><circle cx="598.1" cy="204.9" r="1.15"/><circle cx="590.6" cy="192.4" r="1.15"/><circle cx="600.0" cy="190.0" r="1.15"/><circle cx="614.2" cy="186.0" r="1.15"/><circle cx="576.6" cy="187.9" r="1.15"/><circle cx="593.9" cy="190.2" r="1.15"/><circle cx="590.9" cy="179.8" r="1.15"/><circle cx="590.1" cy="196.0" r="1.15"/><circle cx="603.6" cy="197.6" r="1.15"/><circle cx="608.0" cy="216.5" r="1.15"/><circle cx="596.8" cy="201.1" r="1.15"/><circle cx="607.0" cy="205.7" r="1.15"/><circle cx="610.5" cy="212.7" r="1.15"/><circle cx="582.4" cy="191.5" r="1.15"/><circle cx="606.8" cy="215.3" r="1.15"/><circle cx="580.7" cy="211.5" r="1.15"/><circle cx="601.1" cy="210.3" r="1.15"/><circle cx="570.3" cy="185.3" r="1.15"/><circle cx="573.0" cy="204.9" r="1.15"/><circle cx="615.0" cy="200.5" r="1.15"/><circle cx="588.2" cy="217.7" r="1.15"/><circle cx="572.1" cy="204.4" r="1.15"/><circle cx="596.4" cy="211.9" r="1.15"/><circle cx="614.8" cy="216.8" r="1.15"/><circle cx="582.8" cy="178.9" r="1.15"/><circle cx="591.9" cy="191.1" r="1.15"/><circle cx="572.1" cy="193.2" r="1.15"/><circle cx="598.5" cy="175.8" r="1.15"/><circle cx="576.1" cy="182.1" r="1.15"/><circle cx="565.4" cy="188.8" r="1.15"/><circle cx="573.6" cy="194.5" r="1.15"/><circle cx="566.7" cy="203.1" r="1.15"/><circle cx="577.6" cy="184.8" r="1.15"/><circle cx="593.7" cy="207.7" r="1.15"/><circle cx="581.8" cy="180.8" r="1.15"/></g>
<polygon points="497.1,269.1 510.6,253.7 527.3,237.0 554.3,244.7 554.9,253.7 550.4,266.6 538.8,294.8 497.1,287.8" fill="#efe9ff"/>
<g fill="#8be3a0"><circle cx="531.4" cy="274.6" r="1.15"/><circle cx="527.9" cy="249.0" r="1.15"/><circle cx="515.5" cy="260.9" r="1.15"/><circle cx="527.4" cy="261.6" r="1.15"/><circle cx="518.9" cy="263.1" r="1.15"/><circle cx="513.2" cy="256.1" r="1.15"/><circle cx="511.6" cy="282.5" r="1.15"/><circle cx="512.7" cy="276.8" r="1.15"/><circle cx="534.1" cy="264.3" r="1.15"/><circle cx="507.9" cy="278.4" r="1.15"/><circle cx="546.0" cy="280.0" r="1.15"/><circle cx="532.4" cy="277.9" r="1.15"/><circle cx="502.9" cy="268.0" r="1.15"/><circle cx="554.5" cy="247.6" r="1.15"/><circle cx="520.4" cy="283.2" r="1.15"/><circle cx="526.8" cy="252.0" r="1.15"/><circle cx="528.7" cy="252.4" r="1.15"/><circle cx="554.9" cy="267.0" r="1.15"/><circle cx="529.5" cy="275.5" r="1.15"/><circle cx="547.6" cy="271.7" r="1.15"/><circle cx="524.0" cy="277.1" r="1.15"/><circle cx="519.8" cy="280.4" r="1.15"/><circle cx="510.8" cy="271.3" r="1.15"/><circle cx="506.0" cy="257.4" r="1.15"/><circle cx="511.7" cy="257.0" r="1.15"/><circle cx="539.3" cy="268.7" r="1.15"/><circle cx="527.8" cy="274.6" r="1.15"/><circle cx="509.6" cy="247.0" r="1.15"/><circle cx="504.9" cy="258.2" r="1.15"/><circle cx="503.5" cy="279.3" r="1.15"/><circle cx="526.3" cy="270.1" r="1.15"/><circle cx="545.5" cy="255.1" r="1.15"/><circle cx="532.0" cy="267.9" r="1.15"/><circle cx="551.9" cy="273.6" r="1.15"/><circle cx="543.3" cy="243.3" r="1.15"/><circle cx="518.7" cy="284.0" r="1.15"/><circle cx="517.9" cy="262.8" r="1.15"/><circle cx="533.9" cy="277.9" r="1.15"/><circle cx="524.6" cy="259.3" r="1.15"/><circle cx="507.6" cy="281.9" r="1.15"/><circle cx="539.7" cy="252.5" r="1.15"/><circle cx="553.2" cy="254.6" r="1.15"/><circle cx="546.9" cy="242.9" r="1.15"/><circle cx="521.1" cy="250.1" r="1.15"/><circle cx="548.4" cy="267.3" r="1.15"/><circle cx="515.9" cy="245.5" r="1.15"/><circle cx="518.7" cy="271.6" r="1.15"/><circle cx="531.6" cy="267.3" r="1.15"/><circle cx="546.0" cy="262.9" r="1.15"/><circle cx="542.1" cy="238.9" r="1.15"/><circle cx="546.5" cy="275.3" r="1.15"/><circle cx="529.6" cy="255.1" r="1.15"/><circle cx="547.9" cy="248.0" r="1.15"/><circle cx="546.5" cy="250.3" r="1.15"/><circle cx="495.4" cy="264.2" r="1.15"/><circle cx="502.1" cy="275.8" r="1.15"/><circle cx="519.4" cy="270.3" r="1.15"/><circle cx="527.0" cy="284.6" r="1.15"/><circle cx="529.6" cy="275.8" r="1.15"/><circle cx="534.6" cy="277.1" r="1.15"/><circle cx="527.8" cy="266.3" r="1.15"/><circle cx="523.5" cy="269.8" r="1.15"/><circle cx="528.1" cy="287.6" r="1.15"/><circle cx="506.1" cy="277.1" r="1.15"/><circle cx="531.7" cy="274.4" r="1.15"/><circle cx="532.3" cy="270.6" r="1.15"/><circle cx="543.2" cy="256.0" r="1.15"/><circle cx="517.3" cy="267.5" r="1.15"/><circle cx="548.8" cy="259.7" r="1.15"/><circle cx="528.4" cy="250.8" r="1.15"/><circle cx="546.3" cy="256.4" r="1.15"/><circle cx="538.0" cy="286.9" r="1.15"/><circle cx="540.0" cy="264.2" r="1.15"/><circle cx="522.7" cy="281.4" r="1.15"/><circle cx="540.4" cy="271.3" r="1.15"/><circle cx="498.4" cy="263.2" r="1.15"/><circle cx="539.1" cy="264.1" r="1.15"/><circle cx="530.9" cy="278.8" r="1.15"/><circle cx="545.9" cy="254.8" r="1.15"/><circle cx="509.1" cy="274.7" r="1.15"/><circle cx="541.6" cy="271.2" r="1.15"/><circle cx="509.7" cy="267.4" r="1.15"/><circle cx="510.1" cy="276.1" r="1.15"/><circle cx="553.9" cy="242.1" r="1.15"/><circle cx="539.8" cy="276.9" r="1.15"/><circle cx="515.9" cy="260.6" r="1.15"/><circle cx="525.8" cy="273.9" r="1.15"/><circle cx="523.9" cy="269.7" r="1.15"/><circle cx="551.6" cy="261.6" r="1.15"/><circle cx="548.9" cy="272.8" r="1.15"/><circle cx="541.8" cy="274.7" r="1.15"/><circle cx="544.7" cy="262.6" r="1.15"/><circle cx="531.9" cy="271.6" r="1.15"/><circle cx="550.0" cy="251.6" r="1.15"/><circle cx="529.3" cy="267.3" r="1.15"/><circle cx="498.3" cy="271.6" r="1.15"/><circle cx="518.7" cy="263.2" r="1.15"/><circle cx="546.4" cy="262.3" r="1.15"/><circle cx="518.8" cy="266.1" r="1.15"/><circle cx="496.5" cy="261.6" r="1.15"/><circle cx="527.5" cy="256.9" r="1.15"/><circle cx="519.9" cy="274.1" r="1.15"/><circle cx="527.5" cy="258.8" r="1.15"/><circle cx="536.6" cy="270.2" r="1.15"/><circle cx="512.4" cy="276.9" r="1.15"/><circle cx="537.9" cy="259.1" r="1.15"/><circle cx="508.1" cy="276.9" r="1.15"/><circle cx="523.7" cy="260.0" r="1.15"/><circle cx="542.8" cy="264.4" r="1.15"/><circle cx="535.7" cy="280.7" r="1.15"/><circle cx="540.7" cy="285.6" r="1.15"/><circle cx="524.1" cy="260.5" r="1.15"/><circle cx="500.5" cy="269.8" r="1.15"/><circle cx="516.7" cy="279.7" r="1.15"/><circle cx="543.2" cy="244.2" r="1.15"/><circle cx="519.7" cy="263.9" r="1.15"/><circle cx="542.1" cy="265.4" r="1.15"/><circle cx="537.3" cy="271.8" r="1.15"/><circle cx="537.4" cy="252.0" r="1.15"/><circle cx="504.8" cy="275.4" r="1.15"/><circle cx="543.8" cy="247.0" r="1.15"/><circle cx="541.0" cy="261.5" r="1.15"/><circle cx="512.9" cy="264.0" r="1.15"/><circle cx="502.5" cy="275.8" r="1.15"/><circle cx="537.4" cy="251.9" r="1.15"/><circle cx="547.4" cy="248.0" r="1.15"/><circle cx="548.8" cy="274.8" r="1.15"/><circle cx="518.9" cy="265.9" r="1.15"/><circle cx="544.2" cy="268.6" r="1.15"/><circle cx="529.2" cy="270.9" r="1.15"/><circle cx="551.9" cy="259.9" r="1.15"/><circle cx="506.5" cy="275.6" r="1.15"/><circle cx="530.7" cy="272.1" r="1.15"/><circle cx="549.1" cy="276.5" r="1.15"/><circle cx="548.0" cy="262.6" r="1.15"/><circle cx="555.8" cy="261.5" r="1.15"/></g>
<g fill="#fb9f9c"><circle cx="521.3" cy="279.0" r="1.15"/><circle cx="501.5" cy="251.3" r="1.15"/><circle cx="527.1" cy="252.0" r="1.15"/><circle cx="529.6" cy="271.1" r="1.15"/><circle cx="506.0" cy="247.5" r="1.15"/><circle cx="505.9" cy="251.6" r="1.15"/><circle cx="535.7" cy="252.5" r="1.15"/><circle cx="530.3" cy="279.2" r="1.15"/><circle cx="501.5" cy="254.6" r="1.15"/><circle cx="544.3" cy="240.6" r="1.15"/><circle cx="516.1" cy="281.3" r="1.15"/><circle cx="537.4" cy="285.9" r="1.15"/><circle cx="501.1" cy="244.7" r="1.15"/><circle cx="513.9" cy="268.1" r="1.15"/><circle cx="530.8" cy="278.3" r="1.15"/><circle cx="516.1" cy="246.4" r="1.15"/><circle cx="528.2" cy="271.6" r="1.15"/><circle cx="503.0" cy="262.3" r="1.15"/><circle cx="540.4" cy="272.7" r="1.15"/><circle cx="548.8" cy="238.4" r="1.15"/><circle cx="526.8" cy="287.7" r="1.15"/><circle cx="537.1" cy="259.1" r="1.15"/><circle cx="544.8" cy="282.7" r="1.15"/><circle cx="533.4" cy="285.7" r="1.15"/><circle cx="537.7" cy="280.1" r="1.15"/><circle cx="511.6" cy="252.7" r="1.15"/><circle cx="520.1" cy="241.5" r="1.15"/><circle cx="532.9" cy="261.3" r="1.15"/><circle cx="501.7" cy="262.5" r="1.15"/><circle cx="516.0" cy="244.1" r="1.15"/><circle cx="521.2" cy="256.2" r="1.15"/><circle cx="507.0" cy="257.3" r="1.15"/><circle cx="524.0" cy="262.4" r="1.15"/><circle cx="526.2" cy="248.4" r="1.15"/><circle cx="510.9" cy="254.9" r="1.15"/><circle cx="542.9" cy="284.8" r="1.15"/><circle cx="504.0" cy="271.7" r="1.15"/><circle cx="527.9" cy="243.4" r="1.15"/><circle cx="533.2" cy="268.9" r="1.15"/><circle cx="544.7" cy="258.6" r="1.15"/><circle cx="510.9" cy="253.6" r="1.15"/><circle cx="496.3" cy="254.2" r="1.15"/><circle cx="509.3" cy="245.8" r="1.15"/><circle cx="516.1" cy="260.3" r="1.15"/><circle cx="515.5" cy="254.3" r="1.15"/><circle cx="550.6" cy="254.5" r="1.15"/><circle cx="522.3" cy="258.7" r="1.15"/><circle cx="509.6" cy="257.2" r="1.15"/><circle cx="519.0" cy="263.5" r="1.15"/><circle cx="540.5" cy="283.2" r="1.15"/><circle cx="542.7" cy="272.7" r="1.15"/><circle cx="528.4" cy="269.5" r="1.15"/><circle cx="530.9" cy="251.9" r="1.15"/><circle cx="537.8" cy="283.2" r="1.15"/><circle cx="513.2" cy="275.3" r="1.15"/><circle cx="553.3" cy="254.6" r="1.15"/><circle cx="510.2" cy="246.7" r="1.15"/><circle cx="521.7" cy="260.1" r="1.15"/><circle cx="513.3" cy="255.4" r="1.15"/><circle cx="508.8" cy="253.0" r="1.15"/><circle cx="517.5" cy="278.1" r="1.15"/><circle cx="517.6" cy="243.6" r="1.15"/><circle cx="531.2" cy="287.8" r="1.15"/><circle cx="520.0" cy="274.6" r="1.15"/><circle cx="539.6" cy="278.2" r="1.15"/><circle cx="508.1" cy="252.7" r="1.15"/><circle cx="502.3" cy="258.1" r="1.15"/><circle cx="509.5" cy="265.4" r="1.15"/><circle cx="521.9" cy="269.8" r="1.15"/><circle cx="496.8" cy="250.8" r="1.15"/><circle cx="531.5" cy="272.0" r="1.15"/><circle cx="514.5" cy="250.7" r="1.15"/><circle cx="517.3" cy="258.7" r="1.15"/><circle cx="523.0" cy="242.3" r="1.15"/><circle cx="508.5" cy="270.4" r="1.15"/><circle cx="507.1" cy="254.9" r="1.15"/><circle cx="545.4" cy="260.0" r="1.15"/><circle cx="498.1" cy="254.0" r="1.15"/><circle cx="531.2" cy="285.8" r="1.15"/><circle cx="504.4" cy="276.2" r="1.15"/><circle cx="508.3" cy="250.2" r="1.15"/><circle cx="536.8" cy="269.6" r="1.15"/><circle cx="508.2" cy="257.3" r="1.15"/><circle cx="522.3" cy="249.6" r="1.15"/><circle cx="517.3" cy="265.1" r="1.15"/><circle cx="531.9" cy="271.3" r="1.15"/><circle cx="525.7" cy="260.6" r="1.15"/><circle cx="542.5" cy="280.8" r="1.15"/><circle cx="514.6" cy="259.3" r="1.15"/><circle cx="497.0" cy="252.3" r="1.15"/><circle cx="542.7" cy="261.1" r="1.15"/><circle cx="503.4" cy="243.3" r="1.15"/><circle cx="512.6" cy="249.7" r="1.15"/><circle cx="528.3" cy="272.1" r="1.15"/><circle cx="503.3" cy="247.1" r="1.15"/><circle cx="519.0" cy="250.7" r="1.15"/><circle cx="529.2" cy="269.6" r="1.15"/><circle cx="508.7" cy="247.1" r="1.15"/><circle cx="541.5" cy="267.8" r="1.15"/><circle cx="499.0" cy="258.9" r="1.15"/><circle cx="506.6" cy="260.6" r="1.15"/><circle cx="529.3" cy="273.4" r="1.15"/><circle cx="521.8" cy="260.9" r="1.15"/><circle cx="531.2" cy="258.5" r="1.15"/><circle cx="545.4" cy="254.5" r="1.15"/><circle cx="507.8" cy="256.4" r="1.15"/><circle cx="525.1" cy="258.7" r="1.15"/><circle cx="522.1" cy="248.3" r="1.15"/><circle cx="521.3" cy="264.5" r="1.15"/><circle cx="534.8" cy="266.1" r="1.15"/><circle cx="539.2" cy="285.0" r="1.15"/><circle cx="528.0" cy="269.6" r="1.15"/><circle cx="538.2" cy="274.2" r="1.15"/><circle cx="541.7" cy="281.2" r="1.15"/><circle cx="513.6" cy="260.0" r="1.15"/><circle cx="538.0" cy="283.8" r="1.15"/><circle cx="511.9" cy="280.0" r="1.15"/><circle cx="532.3" cy="278.8" r="1.15"/><circle cx="501.5" cy="253.8" r="1.15"/><circle cx="504.2" cy="273.4" r="1.15"/><circle cx="546.2" cy="269.0" r="1.15"/><circle cx="519.4" cy="286.2" r="1.15"/><circle cx="503.3" cy="272.9" r="1.15"/><circle cx="527.6" cy="280.4" r="1.15"/><circle cx="546.0" cy="285.3" r="1.15"/><circle cx="514.0" cy="247.4" r="1.15"/><circle cx="523.1" cy="259.6" r="1.15"/><circle cx="503.3" cy="261.7" r="1.15"/><circle cx="529.7" cy="244.3" r="1.15"/><circle cx="507.3" cy="250.6" r="1.15"/><circle cx="496.6" cy="257.3" r="1.15"/><circle cx="504.8" cy="263.0" r="1.15"/><circle cx="497.9" cy="271.6" r="1.15"/><circle cx="508.8" cy="253.3" r="1.15"/><circle cx="524.9" cy="276.2" r="1.15"/><circle cx="513.0" cy="249.3" r="1.15"/></g>
<g fill="#dbb899"><circle cx="499.9" cy="262.1" r="1.15"/><circle cx="528.3" cy="239.4" r="1.15"/><circle cx="556.5" cy="260.1" r="1.15"/><circle cx="506.6" cy="262.7" r="1.15"/><circle cx="516.3" cy="253.7" r="1.15"/><circle cx="527.2" cy="247.1" r="1.15"/><circle cx="518.7" cy="276.0" r="1.15"/><circle cx="521.7" cy="259.4" r="1.15"/><circle cx="519.9" cy="285.6" r="1.15"/><circle cx="509.1" cy="247.0" r="1.15"/><circle cx="532.9" cy="271.8" r="1.15"/><circle cx="523.7" cy="244.7" r="1.15"/><circle cx="538.2" cy="259.6" r="1.15"/><circle cx="514.7" cy="263.2" r="1.15"/><circle cx="525.0" cy="245.9" r="1.15"/><circle cx="501.1" cy="257.8" r="1.15"/><circle cx="521.6" cy="241.9" r="1.15"/><circle cx="519.1" cy="272.1" r="1.15"/><circle cx="510.7" cy="263.2" r="1.15"/><circle cx="511.6" cy="259.4" r="1.15"/><circle cx="538.7" cy="248.1" r="1.15"/><circle cx="528.3" cy="277.0" r="1.15"/><circle cx="515.6" cy="257.0" r="1.15"/><circle cx="513.1" cy="249.0" r="1.15"/><circle cx="531.4" cy="267.3" r="1.15"/><circle cx="531.3" cy="257.7" r="1.15"/><circle cx="517.0" cy="250.7" r="1.15"/><circle cx="496.9" cy="265.4" r="1.15"/><circle cx="499.2" cy="262.7" r="1.15"/><circle cx="541.7" cy="248.8" r="1.15"/><circle cx="504.6" cy="269.5" r="1.15"/><circle cx="545.6" cy="243.8" r="1.15"/><circle cx="522.0" cy="254.4" r="1.15"/><circle cx="531.2" cy="247.0" r="1.15"/><circle cx="525.9" cy="264.5" r="1.15"/><circle cx="530.4" cy="278.5" r="1.15"/><circle cx="517.0" cy="261.7" r="1.15"/><circle cx="516.6" cy="283.1" r="1.15"/><circle cx="505.6" cy="252.3" r="1.15"/><circle cx="510.1" cy="250.9" r="1.15"/><circle cx="528.3" cy="273.5" r="1.15"/><circle cx="511.7" cy="261.2" r="1.15"/><circle cx="526.7" cy="249.8" r="1.15"/><circle cx="507.6" cy="262.5" r="1.15"/><circle cx="523.4" cy="273.9" r="1.15"/><circle cx="530.6" cy="257.6" r="1.15"/><circle cx="514.5" cy="256.8" r="1.15"/><circle cx="513.6" cy="269.6" r="1.15"/><circle cx="517.5" cy="275.0" r="1.15"/><circle cx="517.2" cy="245.1" r="1.15"/><circle cx="498.3" cy="253.2" r="1.15"/><circle cx="509.9" cy="256.2" r="1.15"/><circle cx="505.1" cy="243.3" r="1.15"/><circle cx="529.0" cy="278.3" r="1.15"/><circle cx="512.9" cy="255.9" r="1.15"/><circle cx="510.8" cy="247.1" r="1.15"/><circle cx="501.9" cy="264.9" r="1.15"/><circle cx="518.2" cy="267.3" r="1.15"/><circle cx="494.5" cy="269.0" r="1.15"/><circle cx="509.1" cy="263.4" r="1.15"/><circle cx="516.0" cy="247.8" r="1.15"/><circle cx="514.9" cy="257.0" r="1.15"/><circle cx="524.3" cy="280.0" r="1.15"/><circle cx="533.1" cy="270.9" r="1.15"/><circle cx="514.1" cy="272.0" r="1.15"/><circle cx="494.3" cy="267.3" r="1.15"/><circle cx="541.7" cy="267.7" r="1.15"/><circle cx="520.9" cy="241.6" r="1.15"/><circle cx="513.2" cy="251.0" r="1.15"/><circle cx="517.3" cy="255.6" r="1.15"/><circle cx="504.5" cy="274.0" r="1.15"/><circle cx="519.4" cy="270.3" r="1.15"/><circle cx="515.8" cy="260.0" r="1.15"/><circle cx="517.1" cy="258.8" r="1.15"/><circle cx="529.0" cy="256.9" r="1.15"/><circle cx="516.9" cy="259.4" r="1.15"/><circle cx="509.3" cy="283.5" r="1.15"/><circle cx="529.1" cy="252.7" r="1.15"/><circle cx="501.8" cy="264.2" r="1.15"/><circle cx="546.3" cy="268.9" r="1.15"/><circle cx="497.2" cy="256.0" r="1.15"/><circle cx="541.7" cy="272.9" r="1.15"/><circle cx="505.0" cy="260.2" r="1.15"/><circle cx="505.4" cy="243.4" r="1.15"/><circle cx="501.6" cy="264.9" r="1.15"/><circle cx="512.4" cy="252.9" r="1.15"/><circle cx="517.0" cy="279.4" r="1.15"/><circle cx="526.1" cy="281.8" r="1.15"/><circle cx="547.9" cy="274.6" r="1.15"/><circle cx="532.6" cy="274.2" r="1.15"/><circle cx="527.5" cy="264.0" r="1.15"/><circle cx="535.2" cy="250.9" r="1.15"/><circle cx="516.7" cy="283.7" r="1.15"/><circle cx="523.3" cy="248.9" r="1.15"/><circle cx="522.7" cy="264.4" r="1.15"/><circle cx="553.1" cy="257.5" r="1.15"/><circle cx="511.2" cy="270.7" r="1.15"/><circle cx="512.7" cy="256.0" r="1.15"/><circle cx="535.8" cy="272.6" r="1.15"/><circle cx="537.5" cy="281.1" r="1.15"/><circle cx="526.0" cy="258.6" r="1.15"/><circle cx="528.9" cy="249.7" r="1.15"/><circle cx="510.3" cy="264.6" r="1.15"/><circle cx="515.1" cy="263.5" r="1.15"/><circle cx="550.1" cy="267.3" r="1.15"/><circle cx="529.1" cy="278.7" r="1.15"/><circle cx="514.1" cy="254.8" r="1.15"/><circle cx="512.5" cy="264.9" r="1.15"/><circle cx="508.5" cy="267.8" r="1.15"/><circle cx="515.2" cy="266.7" r="1.15"/><circle cx="503.4" cy="276.0" r="1.15"/><circle cx="537.2" cy="259.8" r="1.15"/><circle cx="508.6" cy="286.8" r="1.15"/><circle cx="503.8" cy="271.5" r="1.15"/><circle cx="528.7" cy="261.6" r="1.15"/><circle cx="548.0" cy="248.7" r="1.15"/><circle cx="523.0" cy="263.3" r="1.15"/><circle cx="505.0" cy="260.5" r="1.15"/><circle cx="528.2" cy="272.9" r="1.15"/><circle cx="528.2" cy="256.0" r="1.15"/><circle cx="535.7" cy="280.0" r="1.15"/><circle cx="521.6" cy="253.9" r="1.15"/><circle cx="533.7" cy="247.9" r="1.15"/><circle cx="533.0" cy="276.9" r="1.15"/><circle cx="496.5" cy="255.0" r="1.15"/><circle cx="517.9" cy="281.9" r="1.15"/><circle cx="506.5" cy="269.2" r="1.15"/><circle cx="541.1" cy="258.9" r="1.15"/><circle cx="534.3" cy="240.2" r="1.15"/><circle cx="531.3" cy="279.1" r="1.15"/><circle cx="544.4" cy="234.0" r="1.15"/><circle cx="556.8" cy="251.8" r="1.15"/></g>
<g fill="#cbb9fc"><circle cx="534.3" cy="248.8" r="1.15"/><circle cx="521.3" cy="274.6" r="1.15"/><circle cx="506.9" cy="259.6" r="1.15"/><circle cx="527.4" cy="263.6" r="1.15"/><circle cx="533.3" cy="277.7" r="1.15"/><circle cx="513.6" cy="259.9" r="1.15"/><circle cx="511.5" cy="251.5" r="1.15"/><circle cx="505.0" cy="267.8" r="1.15"/><circle cx="542.8" cy="246.3" r="1.15"/><circle cx="518.0" cy="279.4" r="1.15"/><circle cx="539.1" cy="249.0" r="1.15"/><circle cx="512.7" cy="260.6" r="1.15"/><circle cx="539.8" cy="281.7" r="1.15"/><circle cx="529.5" cy="253.2" r="1.15"/><circle cx="508.8" cy="266.1" r="1.15"/><circle cx="501.9" cy="268.6" r="1.15"/><circle cx="542.9" cy="243.7" r="1.15"/><circle cx="502.1" cy="265.2" r="1.15"/><circle cx="538.9" cy="238.8" r="1.15"/><circle cx="539.6" cy="278.0" r="1.15"/><circle cx="527.8" cy="268.0" r="1.15"/><circle cx="493.9" cy="271.3" r="1.15"/><circle cx="494.5" cy="269.5" r="1.15"/><circle cx="529.1" cy="277.2" r="1.15"/><circle cx="527.7" cy="283.7" r="1.15"/><circle cx="519.9" cy="271.4" r="1.15"/><circle cx="536.4" cy="247.3" r="1.15"/><circle cx="512.1" cy="255.6" r="1.15"/><circle cx="502.6" cy="262.3" r="1.15"/><circle cx="511.7" cy="256.2" r="1.15"/><circle cx="530.1" cy="238.9" r="1.15"/><circle cx="545.4" cy="245.9" r="1.15"/><circle cx="551.1" cy="262.5" r="1.15"/><circle cx="511.1" cy="264.1" r="1.15"/><circle cx="522.0" cy="259.3" r="1.15"/><circle cx="516.9" cy="282.3" r="1.15"/><circle cx="547.7" cy="262.9" r="1.15"/><circle cx="510.2" cy="270.7" r="1.15"/><circle cx="531.0" cy="256.8" r="1.15"/><circle cx="508.2" cy="266.4" r="1.15"/><circle cx="497.9" cy="271.0" r="1.15"/><circle cx="536.9" cy="248.0" r="1.15"/><circle cx="522.3" cy="280.9" r="1.15"/><circle cx="535.9" cy="267.9" r="1.15"/><circle cx="526.8" cy="255.3" r="1.15"/><circle cx="513.9" cy="269.7" r="1.15"/><circle cx="509.6" cy="270.9" r="1.15"/><circle cx="546.7" cy="246.2" r="1.15"/><circle cx="500.7" cy="268.1" r="1.15"/><circle cx="506.9" cy="252.4" r="1.15"/><circle cx="503.6" cy="271.7" r="1.15"/><circle cx="543.7" cy="240.9" r="1.15"/><circle cx="535.3" cy="250.5" r="1.15"/><circle cx="506.9" cy="270.4" r="1.15"/><circle cx="519.4" cy="276.5" r="1.15"/><circle cx="518.0" cy="251.0" r="1.15"/><circle cx="503.7" cy="249.9" r="1.15"/><circle cx="525.5" cy="284.1" r="1.15"/><circle cx="544.1" cy="278.9" r="1.15"/><circle cx="505.8" cy="273.6" r="1.15"/><circle cx="524.9" cy="273.9" r="1.15"/><circle cx="536.6" cy="259.5" r="1.15"/><circle cx="517.9" cy="258.6" r="1.15"/><circle cx="545.1" cy="251.0" r="1.15"/><circle cx="518.7" cy="268.9" r="1.15"/><circle cx="511.2" cy="262.4" r="1.15"/><circle cx="500.0" cy="270.3" r="1.15"/><circle cx="511.2" cy="275.5" r="1.15"/><circle cx="551.4" cy="244.3" r="1.15"/><circle cx="541.2" cy="277.1" r="1.15"/><circle cx="555.6" cy="255.9" r="1.15"/><circle cx="531.6" cy="285.0" r="1.15"/><circle cx="550.0" cy="245.2" r="1.15"/><circle cx="518.6" cy="262.6" r="1.15"/><circle cx="526.8" cy="249.9" r="1.15"/><circle cx="535.7" cy="251.4" r="1.15"/><circle cx="542.5" cy="281.5" r="1.15"/><circle cx="508.3" cy="274.2" r="1.15"/><circle cx="550.4" cy="241.3" r="1.15"/><circle cx="548.0" cy="245.0" r="1.15"/><circle cx="520.7" cy="286.2" r="1.15"/><circle cx="496.2" cy="279.2" r="1.15"/><circle cx="544.4" cy="245.4" r="1.15"/><circle cx="520.0" cy="284.8" r="1.15"/><circle cx="533.9" cy="252.8" r="1.15"/><circle cx="542.0" cy="275.5" r="1.15"/><circle cx="530.1" cy="266.4" r="1.15"/><circle cx="544.7" cy="282.7" r="1.15"/><circle cx="510.5" cy="244.5" r="1.15"/><circle cx="534.4" cy="245.0" r="1.15"/><circle cx="513.5" cy="259.7" r="1.15"/><circle cx="534.8" cy="272.0" r="1.15"/><circle cx="517.3" cy="275.1" r="1.15"/><circle cx="502.0" cy="247.2" r="1.15"/><circle cx="521.3" cy="264.3" r="1.15"/><circle cx="528.3" cy="250.5" r="1.15"/><circle cx="526.5" cy="274.3" r="1.15"/><circle cx="545.1" cy="238.8" r="1.15"/><circle cx="534.7" cy="250.8" r="1.15"/><circle cx="525.2" cy="282.9" r="1.15"/><circle cx="539.3" cy="248.9" r="1.15"/><circle cx="521.4" cy="262.7" r="1.15"/><circle cx="537.1" cy="248.7" r="1.15"/><circle cx="549.7" cy="245.2" r="1.15"/><circle cx="517.3" cy="278.2" r="1.15"/><circle cx="547.1" cy="246.2" r="1.15"/><circle cx="525.7" cy="278.5" r="1.15"/><circle cx="520.1" cy="274.2" r="1.15"/><circle cx="536.1" cy="253.5" r="1.15"/><circle cx="543.4" cy="247.7" r="1.15"/><circle cx="517.5" cy="262.0" r="1.15"/><circle cx="537.1" cy="248.4" r="1.15"/><circle cx="539.5" cy="272.4" r="1.15"/><circle cx="500.2" cy="270.3" r="1.15"/><circle cx="501.3" cy="264.3" r="1.15"/><circle cx="516.9" cy="257.2" r="1.15"/></g>
<polygon points="566.7,262.7 570.6,247.9 586.0,240.9 614.3,231.9 626.5,256.9 613.0,271.7 591.1,288.4 570.6,279.4" fill="#f5e9df"/>
<g fill="#8be3a0"><circle cx="600.2" cy="274.6" r="1.15"/><circle cx="596.7" cy="249.0" r="1.15"/><circle cx="584.3" cy="260.9" r="1.15"/><circle cx="596.2" cy="261.6" r="1.15"/><circle cx="587.7" cy="263.1" r="1.15"/><circle cx="582.0" cy="256.1" r="1.15"/><circle cx="580.4" cy="282.5" r="1.15"/><circle cx="581.5" cy="276.8" r="1.15"/><circle cx="602.9" cy="264.3" r="1.15"/><circle cx="576.7" cy="278.4" r="1.15"/><circle cx="614.8" cy="280.0" r="1.15"/><circle cx="601.2" cy="277.9" r="1.15"/><circle cx="571.7" cy="268.0" r="1.15"/><circle cx="623.3" cy="247.6" r="1.15"/><circle cx="589.2" cy="283.2" r="1.15"/><circle cx="595.6" cy="252.0" r="1.15"/><circle cx="597.5" cy="252.4" r="1.15"/><circle cx="623.7" cy="267.0" r="1.15"/><circle cx="598.3" cy="275.5" r="1.15"/><circle cx="616.4" cy="271.7" r="1.15"/><circle cx="592.8" cy="277.1" r="1.15"/><circle cx="588.6" cy="280.4" r="1.15"/><circle cx="579.6" cy="271.3" r="1.15"/><circle cx="574.8" cy="257.4" r="1.15"/><circle cx="580.5" cy="257.0" r="1.15"/><circle cx="608.1" cy="268.7" r="1.15"/><circle cx="596.6" cy="274.6" r="1.15"/><circle cx="578.4" cy="247.0" r="1.15"/><circle cx="573.7" cy="258.2" r="1.15"/><circle cx="572.3" cy="279.3" r="1.15"/><circle cx="595.1" cy="270.1" r="1.15"/><circle cx="614.3" cy="255.1" r="1.15"/><circle cx="600.8" cy="267.9" r="1.15"/><circle cx="620.7" cy="273.6" r="1.15"/><circle cx="612.1" cy="243.3" r="1.15"/><circle cx="587.5" cy="284.0" r="1.15"/><circle cx="586.7" cy="262.8" r="1.15"/><circle cx="602.7" cy="277.9" r="1.15"/><circle cx="593.4" cy="259.3" r="1.15"/><circle cx="576.4" cy="281.9" r="1.15"/><circle cx="608.5" cy="252.5" r="1.15"/><circle cx="622.0" cy="254.6" r="1.15"/><circle cx="615.7" cy="242.9" r="1.15"/><circle cx="589.9" cy="250.1" r="1.15"/><circle cx="617.2" cy="267.3" r="1.15"/><circle cx="584.7" cy="245.5" r="1.15"/><circle cx="587.5" cy="271.6" r="1.15"/><circle cx="600.4" cy="267.3" r="1.15"/><circle cx="614.8" cy="262.9" r="1.15"/><circle cx="610.9" cy="238.9" r="1.15"/><circle cx="615.3" cy="275.3" r="1.15"/><circle cx="598.4" cy="255.1" r="1.15"/><circle cx="616.7" cy="248.0" r="1.15"/><circle cx="615.3" cy="250.3" r="1.15"/><circle cx="564.2" cy="264.2" r="1.15"/><circle cx="570.9" cy="275.8" r="1.15"/><circle cx="588.2" cy="270.3" r="1.15"/><circle cx="595.8" cy="284.6" r="1.15"/><circle cx="598.4" cy="275.8" r="1.15"/><circle cx="603.4" cy="277.1" r="1.15"/><circle cx="596.6" cy="266.3" r="1.15"/><circle cx="592.3" cy="269.8" r="1.15"/><circle cx="596.9" cy="287.6" r="1.15"/><circle cx="574.9" cy="277.1" r="1.15"/><circle cx="600.5" cy="274.4" r="1.15"/><circle cx="601.1" cy="270.6" r="1.15"/><circle cx="612.0" cy="256.0" r="1.15"/><circle cx="586.1" cy="267.5" r="1.15"/><circle cx="617.6" cy="259.7" r="1.15"/><circle cx="597.2" cy="250.8" r="1.15"/><circle cx="615.1" cy="256.4" r="1.15"/><circle cx="606.8" cy="286.9" r="1.15"/><circle cx="608.8" cy="264.2" r="1.15"/><circle cx="591.5" cy="281.4" r="1.15"/><circle cx="609.2" cy="271.3" r="1.15"/><circle cx="567.2" cy="263.2" r="1.15"/><circle cx="607.9" cy="264.1" r="1.15"/><circle cx="599.7" cy="278.8" r="1.15"/><circle cx="614.7" cy="254.8" r="1.15"/><circle cx="577.9" cy="274.7" r="1.15"/><circle cx="610.4" cy="271.2" r="1.15"/><circle cx="578.5" cy="267.4" r="1.15"/><circle cx="578.9" cy="276.1" r="1.15"/><circle cx="622.7" cy="242.1" r="1.15"/><circle cx="608.6" cy="276.9" r="1.15"/><circle cx="584.7" cy="260.6" r="1.15"/><circle cx="594.6" cy="273.9" r="1.15"/><circle cx="592.7" cy="269.7" r="1.15"/><circle cx="620.4" cy="261.6" r="1.15"/><circle cx="617.7" cy="272.8" r="1.15"/><circle cx="610.6" cy="274.7" r="1.15"/><circle cx="613.5" cy="262.6" r="1.15"/><circle cx="600.7" cy="271.6" r="1.15"/><circle cx="618.8" cy="251.6" r="1.15"/><circle cx="598.1" cy="267.3" r="1.15"/><circle cx="567.1" cy="271.6" r="1.15"/><circle cx="587.5" cy="263.2" r="1.15"/><circle cx="615.2" cy="262.3" r="1.15"/><circle cx="587.6" cy="266.1" r="1.15"/><circle cx="565.3" cy="261.6" r="1.15"/><circle cx="596.3" cy="256.9" r="1.15"/><circle cx="588.7" cy="274.1" r="1.15"/><circle cx="596.3" cy="258.8" r="1.15"/><circle cx="605.4" cy="270.2" r="1.15"/><circle cx="581.2" cy="276.9" r="1.15"/><circle cx="606.7" cy="259.1" r="1.15"/><circle cx="576.9" cy="276.9" r="1.15"/><circle cx="592.5" cy="260.0" r="1.15"/><circle cx="611.6" cy="264.4" r="1.15"/><circle cx="604.5" cy="280.7" r="1.15"/><circle cx="609.5" cy="285.6" r="1.15"/><circle cx="592.9" cy="260.5" r="1.15"/><circle cx="569.3" cy="269.8" r="1.15"/><circle cx="585.5" cy="279.7" r="1.15"/><circle cx="612.0" cy="244.2" r="1.15"/><circle cx="588.5" cy="263.9" r="1.15"/><circle cx="610.9" cy="265.4" r="1.15"/><circle cx="606.1" cy="271.8" r="1.15"/><circle cx="606.2" cy="252.0" r="1.15"/><circle cx="573.6" cy="275.4" r="1.15"/><circle cx="612.6" cy="247.0" r="1.15"/><circle cx="609.8" cy="261.5" r="1.15"/><circle cx="581.7" cy="264.0" r="1.15"/><circle cx="571.3" cy="275.8" r="1.15"/><circle cx="606.2" cy="251.9" r="1.15"/><circle cx="616.2" cy="248.0" r="1.15"/><circle cx="617.6" cy="274.8" r="1.15"/><circle cx="587.7" cy="265.9" r="1.15"/><circle cx="613.0" cy="268.6" r="1.15"/><circle cx="598.0" cy="270.9" r="1.15"/><circle cx="620.7" cy="259.9" r="1.15"/><circle cx="575.3" cy="275.6" r="1.15"/><circle cx="599.5" cy="272.1" r="1.15"/><circle cx="617.9" cy="276.5" r="1.15"/><circle cx="616.8" cy="262.6" r="1.15"/><circle cx="624.6" cy="261.5" r="1.15"/></g>
<g fill="#fb9f9c"><circle cx="590.1" cy="279.0" r="1.15"/><circle cx="570.3" cy="251.3" r="1.15"/><circle cx="595.9" cy="252.0" r="1.15"/><circle cx="598.4" cy="271.1" r="1.15"/><circle cx="574.8" cy="247.5" r="1.15"/><circle cx="574.7" cy="251.6" r="1.15"/><circle cx="604.5" cy="252.5" r="1.15"/><circle cx="599.1" cy="279.2" r="1.15"/><circle cx="570.3" cy="254.6" r="1.15"/><circle cx="613.1" cy="240.6" r="1.15"/><circle cx="584.9" cy="281.3" r="1.15"/><circle cx="606.2" cy="285.9" r="1.15"/><circle cx="569.9" cy="244.7" r="1.15"/><circle cx="582.7" cy="268.1" r="1.15"/><circle cx="599.6" cy="278.3" r="1.15"/><circle cx="584.9" cy="246.4" r="1.15"/><circle cx="597.0" cy="271.6" r="1.15"/><circle cx="571.8" cy="262.3" r="1.15"/><circle cx="609.2" cy="272.7" r="1.15"/><circle cx="617.6" cy="238.4" r="1.15"/><circle cx="595.6" cy="287.7" r="1.15"/><circle cx="605.9" cy="259.1" r="1.15"/><circle cx="613.6" cy="282.7" r="1.15"/><circle cx="602.2" cy="285.7" r="1.15"/><circle cx="606.5" cy="280.1" r="1.15"/><circle cx="580.4" cy="252.7" r="1.15"/><circle cx="588.9" cy="241.5" r="1.15"/><circle cx="601.7" cy="261.3" r="1.15"/><circle cx="570.5" cy="262.5" r="1.15"/><circle cx="584.8" cy="244.1" r="1.15"/><circle cx="590.0" cy="256.2" r="1.15"/><circle cx="575.8" cy="257.3" r="1.15"/><circle cx="592.8" cy="262.4" r="1.15"/><circle cx="595.0" cy="248.4" r="1.15"/><circle cx="579.7" cy="254.9" r="1.15"/><circle cx="611.7" cy="284.8" r="1.15"/><circle cx="572.8" cy="271.7" r="1.15"/><circle cx="596.7" cy="243.4" r="1.15"/><circle cx="602.0" cy="268.9" r="1.15"/><circle cx="613.5" cy="258.6" r="1.15"/><circle cx="579.7" cy="253.6" r="1.15"/><circle cx="565.1" cy="254.2" r="1.15"/><circle cx="578.1" cy="245.8" r="1.15"/><circle cx="584.9" cy="260.3" r="1.15"/><circle cx="584.3" cy="254.3" r="1.15"/><circle cx="619.4" cy="254.5" r="1.15"/><circle cx="591.1" cy="258.7" r="1.15"/><circle cx="578.4" cy="257.2" r="1.15"/><circle cx="587.8" cy="263.5" r="1.15"/><circle cx="609.3" cy="283.2" r="1.15"/><circle cx="611.5" cy="272.7" r="1.15"/><circle cx="597.2" cy="269.5" r="1.15"/><circle cx="599.7" cy="251.9" r="1.15"/><circle cx="606.6" cy="283.2" r="1.15"/><circle cx="582.0" cy="275.3" r="1.15"/><circle cx="622.1" cy="254.6" r="1.15"/><circle cx="579.0" cy="246.7" r="1.15"/><circle cx="590.5" cy="260.1" r="1.15"/><circle cx="582.1" cy="255.4" r="1.15"/><circle cx="577.6" cy="253.0" r="1.15"/><circle cx="586.3" cy="278.1" r="1.15"/><circle cx="586.4" cy="243.6" r="1.15"/><circle cx="600.0" cy="287.8" r="1.15"/><circle cx="588.8" cy="274.6" r="1.15"/><circle cx="608.4" cy="278.2" r="1.15"/><circle cx="576.9" cy="252.7" r="1.15"/><circle cx="571.1" cy="258.1" r="1.15"/><circle cx="578.3" cy="265.4" r="1.15"/><circle cx="590.7" cy="269.8" r="1.15"/><circle cx="565.6" cy="250.8" r="1.15"/><circle cx="600.3" cy="272.0" r="1.15"/><circle cx="583.3" cy="250.7" r="1.15"/><circle cx="586.1" cy="258.7" r="1.15"/><circle cx="591.8" cy="242.3" r="1.15"/><circle cx="577.3" cy="270.4" r="1.15"/><circle cx="575.9" cy="254.9" r="1.15"/><circle cx="614.2" cy="260.0" r="1.15"/><circle cx="566.9" cy="254.0" r="1.15"/><circle cx="600.0" cy="285.8" r="1.15"/><circle cx="573.2" cy="276.2" r="1.15"/><circle cx="577.1" cy="250.2" r="1.15"/><circle cx="605.6" cy="269.6" r="1.15"/><circle cx="577.0" cy="257.3" r="1.15"/><circle cx="591.1" cy="249.6" r="1.15"/><circle cx="586.1" cy="265.1" r="1.15"/><circle cx="600.7" cy="271.3" r="1.15"/><circle cx="594.5" cy="260.6" r="1.15"/><circle cx="611.3" cy="280.8" r="1.15"/><circle cx="583.4" cy="259.3" r="1.15"/><circle cx="565.8" cy="252.3" r="1.15"/><circle cx="611.5" cy="261.1" r="1.15"/><circle cx="572.2" cy="243.3" r="1.15"/><circle cx="581.4" cy="249.7" r="1.15"/><circle cx="597.1" cy="272.1" r="1.15"/><circle cx="572.1" cy="247.1" r="1.15"/><circle cx="587.8" cy="250.7" r="1.15"/><circle cx="598.0" cy="269.6" r="1.15"/><circle cx="577.5" cy="247.1" r="1.15"/><circle cx="610.3" cy="267.8" r="1.15"/><circle cx="567.8" cy="258.9" r="1.15"/><circle cx="575.4" cy="260.6" r="1.15"/><circle cx="598.1" cy="273.4" r="1.15"/><circle cx="590.6" cy="260.9" r="1.15"/><circle cx="600.0" cy="258.5" r="1.15"/><circle cx="614.2" cy="254.5" r="1.15"/><circle cx="576.6" cy="256.4" r="1.15"/><circle cx="593.9" cy="258.7" r="1.15"/><circle cx="590.9" cy="248.3" r="1.15"/><circle cx="590.1" cy="264.5" r="1.15"/><circle cx="603.6" cy="266.1" r="1.15"/><circle cx="608.0" cy="285.0" r="1.15"/><circle cx="596.8" cy="269.6" r="1.15"/><circle cx="607.0" cy="274.2" r="1.15"/><circle cx="610.5" cy="281.2" r="1.15"/><circle cx="582.4" cy="260.0" r="1.15"/><circle cx="606.8" cy="283.8" r="1.15"/><circle cx="580.7" cy="280.0" r="1.15"/><circle cx="601.1" cy="278.8" r="1.15"/><circle cx="570.3" cy="253.8" r="1.15"/><circle cx="573.0" cy="273.4" r="1.15"/><circle cx="615.0" cy="269.0" r="1.15"/><circle cx="588.2" cy="286.2" r="1.15"/><circle cx="572.1" cy="272.9" r="1.15"/><circle cx="596.4" cy="280.4" r="1.15"/><circle cx="614.8" cy="285.3" r="1.15"/><circle cx="582.8" cy="247.4" r="1.15"/><circle cx="591.9" cy="259.6" r="1.15"/><circle cx="572.1" cy="261.7" r="1.15"/><circle cx="598.5" cy="244.3" r="1.15"/><circle cx="576.1" cy="250.6" r="1.15"/><circle cx="565.4" cy="257.3" r="1.15"/><circle cx="573.6" cy="263.0" r="1.15"/><circle cx="566.7" cy="271.6" r="1.15"/><circle cx="577.6" cy="253.3" r="1.15"/><circle cx="593.7" cy="276.2" r="1.15"/><circle cx="581.8" cy="249.3" r="1.15"/></g>
<g fill="#cbb9fc"><circle cx="603.1" cy="248.8" r="1.15"/><circle cx="590.1" cy="274.6" r="1.15"/><circle cx="575.7" cy="259.6" r="1.15"/><circle cx="596.2" cy="263.6" r="1.15"/><circle cx="602.1" cy="277.7" r="1.15"/><circle cx="582.4" cy="259.9" r="1.15"/><circle cx="580.3" cy="251.5" r="1.15"/><circle cx="573.8" cy="267.8" r="1.15"/><circle cx="611.6" cy="246.3" r="1.15"/><circle cx="586.8" cy="279.4" r="1.15"/><circle cx="607.9" cy="249.0" r="1.15"/><circle cx="581.5" cy="260.6" r="1.15"/><circle cx="608.6" cy="281.7" r="1.15"/><circle cx="598.3" cy="253.2" r="1.15"/><circle cx="577.6" cy="266.1" r="1.15"/><circle cx="570.7" cy="268.6" r="1.15"/><circle cx="611.7" cy="243.7" r="1.15"/><circle cx="570.9" cy="265.2" r="1.15"/><circle cx="607.7" cy="238.8" r="1.15"/><circle cx="608.4" cy="278.0" r="1.15"/><circle cx="596.6" cy="268.0" r="1.15"/><circle cx="562.7" cy="271.3" r="1.15"/><circle cx="563.3" cy="269.5" r="1.15"/><circle cx="597.9" cy="277.2" r="1.15"/><circle cx="596.5" cy="283.7" r="1.15"/><circle cx="588.7" cy="271.4" r="1.15"/><circle cx="605.2" cy="247.3" r="1.15"/><circle cx="580.9" cy="255.6" r="1.15"/><circle cx="571.4" cy="262.3" r="1.15"/><circle cx="580.5" cy="256.2" r="1.15"/><circle cx="598.9" cy="238.9" r="1.15"/><circle cx="614.2" cy="245.9" r="1.15"/><circle cx="619.9" cy="262.5" r="1.15"/><circle cx="579.9" cy="264.1" r="1.15"/><circle cx="590.8" cy="259.3" r="1.15"/><circle cx="585.7" cy="282.3" r="1.15"/><circle cx="616.5" cy="262.9" r="1.15"/><circle cx="579.0" cy="270.7" r="1.15"/><circle cx="599.8" cy="256.8" r="1.15"/><circle cx="577.0" cy="266.4" r="1.15"/><circle cx="566.7" cy="271.0" r="1.15"/><circle cx="605.7" cy="248.0" r="1.15"/><circle cx="591.1" cy="280.9" r="1.15"/><circle cx="604.7" cy="267.9" r="1.15"/><circle cx="595.6" cy="255.3" r="1.15"/><circle cx="582.7" cy="269.7" r="1.15"/><circle cx="578.4" cy="270.9" r="1.15"/><circle cx="615.5" cy="246.2" r="1.15"/><circle cx="569.5" cy="268.1" r="1.15"/><circle cx="575.7" cy="252.4" r="1.15"/><circle cx="572.4" cy="271.7" r="1.15"/><circle cx="612.5" cy="240.9" r="1.15"/><circle cx="604.1" cy="250.5" r="1.15"/><circle cx="575.7" cy="270.4" r="1.15"/><circle cx="588.2" cy="276.5" r="1.15"/><circle cx="586.8" cy="251.0" r="1.15"/><circle cx="572.5" cy="249.9" r="1.15"/><circle cx="594.3" cy="284.1" r="1.15"/><circle cx="612.9" cy="278.9" r="1.15"/><circle cx="574.6" cy="273.6" r="1.15"/><circle cx="593.7" cy="273.9" r="1.15"/><circle cx="605.4" cy="259.5" r="1.15"/><circle cx="586.7" cy="258.6" r="1.15"/><circle cx="613.9" cy="251.0" r="1.15"/><circle cx="587.5" cy="268.9" r="1.15"/><circle cx="580.0" cy="262.4" r="1.15"/><circle cx="568.8" cy="270.3" r="1.15"/><circle cx="580.0" cy="275.5" r="1.15"/><circle cx="620.2" cy="244.3" r="1.15"/><circle cx="610.0" cy="277.1" r="1.15"/><circle cx="624.4" cy="255.9" r="1.15"/><circle cx="600.4" cy="285.0" r="1.15"/><circle cx="618.8" cy="245.2" r="1.15"/><circle cx="587.4" cy="262.6" r="1.15"/><circle cx="595.6" cy="249.9" r="1.15"/><circle cx="604.5" cy="251.4" r="1.15"/><circle cx="611.3" cy="281.5" r="1.15"/><circle cx="577.1" cy="274.2" r="1.15"/><circle cx="619.2" cy="241.3" r="1.15"/><circle cx="616.8" cy="245.0" r="1.15"/><circle cx="589.5" cy="286.2" r="1.15"/><circle cx="565.0" cy="279.2" r="1.15"/><circle cx="613.2" cy="245.4" r="1.15"/><circle cx="588.8" cy="284.8" r="1.15"/><circle cx="602.7" cy="252.8" r="1.15"/><circle cx="610.8" cy="275.5" r="1.15"/><circle cx="598.9" cy="266.4" r="1.15"/><circle cx="613.5" cy="282.7" r="1.15"/><circle cx="579.3" cy="244.5" r="1.15"/><circle cx="603.2" cy="245.0" r="1.15"/><circle cx="582.3" cy="259.7" r="1.15"/><circle cx="603.6" cy="272.0" r="1.15"/><circle cx="586.1" cy="275.1" r="1.15"/><circle cx="570.8" cy="247.2" r="1.15"/><circle cx="590.1" cy="264.3" r="1.15"/><circle cx="597.1" cy="250.5" r="1.15"/><circle cx="595.3" cy="274.3" r="1.15"/><circle cx="613.9" cy="238.8" r="1.15"/><circle cx="603.5" cy="250.8" r="1.15"/><circle cx="594.0" cy="282.9" r="1.15"/><circle cx="608.1" cy="248.9" r="1.15"/><circle cx="590.2" cy="262.7" r="1.15"/><circle cx="605.9" cy="248.7" r="1.15"/><circle cx="618.5" cy="245.2" r="1.15"/><circle cx="586.1" cy="278.2" r="1.15"/><circle cx="615.9" cy="246.2" r="1.15"/><circle cx="594.5" cy="278.5" r="1.15"/><circle cx="588.9" cy="274.2" r="1.15"/><circle cx="604.9" cy="253.5" r="1.15"/><circle cx="612.2" cy="247.7" r="1.15"/><circle cx="586.3" cy="262.0" r="1.15"/><circle cx="605.9" cy="248.4" r="1.15"/><circle cx="608.3" cy="272.4" r="1.15"/><circle cx="569.0" cy="270.3" r="1.15"/><circle cx="570.1" cy="264.3" r="1.15"/><circle cx="585.7" cy="257.2" r="1.15"/></g>
<g fill="#dbb899"><circle cx="568.7" cy="262.1" r="1.15"/><circle cx="597.1" cy="239.4" r="1.15"/><circle cx="625.3" cy="260.1" r="1.15"/><circle cx="575.4" cy="262.7" r="1.15"/><circle cx="585.1" cy="253.7" r="1.15"/><circle cx="596.0" cy="247.1" r="1.15"/><circle cx="587.5" cy="276.0" r="1.15"/><circle cx="590.5" cy="259.4" r="1.15"/><circle cx="588.7" cy="285.6" r="1.15"/><circle cx="577.9" cy="247.0" r="1.15"/><circle cx="601.7" cy="271.8" r="1.15"/><circle cx="592.5" cy="244.7" r="1.15"/><circle cx="607.0" cy="259.6" r="1.15"/><circle cx="583.5" cy="263.2" r="1.15"/><circle cx="593.8" cy="245.9" r="1.15"/><circle cx="569.9" cy="257.8" r="1.15"/><circle cx="590.4" cy="241.9" r="1.15"/><circle cx="587.9" cy="272.1" r="1.15"/><circle cx="579.5" cy="263.2" r="1.15"/><circle cx="580.4" cy="259.4" r="1.15"/><circle cx="607.5" cy="248.1" r="1.15"/><circle cx="597.1" cy="277.0" r="1.15"/><circle cx="584.4" cy="257.0" r="1.15"/><circle cx="581.9" cy="249.0" r="1.15"/><circle cx="600.2" cy="267.3" r="1.15"/><circle cx="600.1" cy="257.7" r="1.15"/><circle cx="585.8" cy="250.7" r="1.15"/><circle cx="565.7" cy="265.4" r="1.15"/><circle cx="568.0" cy="262.7" r="1.15"/><circle cx="610.5" cy="248.8" r="1.15"/><circle cx="573.4" cy="269.5" r="1.15"/><circle cx="614.4" cy="243.8" r="1.15"/><circle cx="590.8" cy="254.4" r="1.15"/><circle cx="600.0" cy="247.0" r="1.15"/><circle cx="594.7" cy="264.5" r="1.15"/><circle cx="599.2" cy="278.5" r="1.15"/><circle cx="585.8" cy="261.7" r="1.15"/><circle cx="585.4" cy="283.1" r="1.15"/><circle cx="574.4" cy="252.3" r="1.15"/><circle cx="578.9" cy="250.9" r="1.15"/><circle cx="597.1" cy="273.5" r="1.15"/><circle cx="580.5" cy="261.2" r="1.15"/><circle cx="595.5" cy="249.8" r="1.15"/><circle cx="576.4" cy="262.5" r="1.15"/><circle cx="592.2" cy="273.9" r="1.15"/><circle cx="599.4" cy="257.6" r="1.15"/><circle cx="583.3" cy="256.8" r="1.15"/><circle cx="582.4" cy="269.6" r="1.15"/><circle cx="586.3" cy="275.0" r="1.15"/><circle cx="586.0" cy="245.1" r="1.15"/><circle cx="567.1" cy="253.2" r="1.15"/><circle cx="578.7" cy="256.2" r="1.15"/><circle cx="573.9" cy="243.3" r="1.15"/><circle cx="597.8" cy="278.3" r="1.15"/><circle cx="581.7" cy="255.9" r="1.15"/><circle cx="579.6" cy="247.1" r="1.15"/><circle cx="570.7" cy="264.9" r="1.15"/><circle cx="587.0" cy="267.3" r="1.15"/><circle cx="563.3" cy="269.0" r="1.15"/><circle cx="577.9" cy="263.4" r="1.15"/><circle cx="584.8" cy="247.8" r="1.15"/><circle cx="583.7" cy="257.0" r="1.15"/><circle cx="593.1" cy="280.0" r="1.15"/><circle cx="601.9" cy="270.9" r="1.15"/><circle cx="582.9" cy="272.0" r="1.15"/><circle cx="563.1" cy="267.3" r="1.15"/><circle cx="610.5" cy="267.7" r="1.15"/><circle cx="589.7" cy="241.6" r="1.15"/><circle cx="582.0" cy="251.0" r="1.15"/><circle cx="586.1" cy="255.6" r="1.15"/><circle cx="573.3" cy="274.0" r="1.15"/><circle cx="588.2" cy="270.3" r="1.15"/><circle cx="584.6" cy="260.0" r="1.15"/><circle cx="585.9" cy="258.8" r="1.15"/><circle cx="597.8" cy="256.9" r="1.15"/><circle cx="585.7" cy="259.4" r="1.15"/><circle cx="578.1" cy="283.5" r="1.15"/><circle cx="597.9" cy="252.7" r="1.15"/><circle cx="570.6" cy="264.2" r="1.15"/><circle cx="615.1" cy="268.9" r="1.15"/><circle cx="566.0" cy="256.0" r="1.15"/><circle cx="610.5" cy="272.9" r="1.15"/><circle cx="573.8" cy="260.2" r="1.15"/><circle cx="574.2" cy="243.4" r="1.15"/><circle cx="570.4" cy="264.9" r="1.15"/><circle cx="581.2" cy="252.9" r="1.15"/><circle cx="585.8" cy="279.4" r="1.15"/><circle cx="594.9" cy="281.8" r="1.15"/><circle cx="616.7" cy="274.6" r="1.15"/><circle cx="601.4" cy="274.2" r="1.15"/><circle cx="596.3" cy="264.0" r="1.15"/><circle cx="604.0" cy="250.9" r="1.15"/><circle cx="585.5" cy="283.7" r="1.15"/><circle cx="592.1" cy="248.9" r="1.15"/><circle cx="591.5" cy="264.4" r="1.15"/><circle cx="621.9" cy="257.5" r="1.15"/><circle cx="580.0" cy="270.7" r="1.15"/><circle cx="581.5" cy="256.0" r="1.15"/><circle cx="604.6" cy="272.6" r="1.15"/><circle cx="606.3" cy="281.1" r="1.15"/><circle cx="594.8" cy="258.6" r="1.15"/><circle cx="597.7" cy="249.7" r="1.15"/><circle cx="579.1" cy="264.6" r="1.15"/><circle cx="583.9" cy="263.5" r="1.15"/><circle cx="618.9" cy="267.3" r="1.15"/><circle cx="597.9" cy="278.7" r="1.15"/><circle cx="582.9" cy="254.8" r="1.15"/><circle cx="581.3" cy="264.9" r="1.15"/><circle cx="577.3" cy="267.8" r="1.15"/><circle cx="584.0" cy="266.7" r="1.15"/><circle cx="572.2" cy="276.0" r="1.15"/><circle cx="606.0" cy="259.8" r="1.15"/><circle cx="577.4" cy="286.8" r="1.15"/><circle cx="572.6" cy="271.5" r="1.15"/><circle cx="597.5" cy="261.6" r="1.15"/><circle cx="616.8" cy="248.7" r="1.15"/><circle cx="591.8" cy="263.3" r="1.15"/><circle cx="573.8" cy="260.5" r="1.15"/><circle cx="597.0" cy="272.9" r="1.15"/><circle cx="597.0" cy="256.0" r="1.15"/><circle cx="604.5" cy="280.0" r="1.15"/><circle cx="590.4" cy="253.9" r="1.15"/><circle cx="602.5" cy="247.9" r="1.15"/><circle cx="601.8" cy="276.9" r="1.15"/><circle cx="565.3" cy="255.0" r="1.15"/><circle cx="586.7" cy="281.9" r="1.15"/><circle cx="575.3" cy="269.2" r="1.15"/><circle cx="609.9" cy="258.9" r="1.15"/><circle cx="603.1" cy="240.2" r="1.15"/><circle cx="600.1" cy="279.1" r="1.15"/><circle cx="613.2" cy="234.0" r="1.15"/><circle cx="625.6" cy="251.8" r="1.15"/></g>
<rect x="491.4" y="161.4" width="137.6" height="137.0" fill="none" stroke="#222" stroke-width="1.2"/>
<line x1="560.1999999999999" y1="161.4" x2="560.1999999999999" y2="298.4" stroke="#222" stroke-width="1.2"/>
<line x1="491.4" y1="229.9" x2="629.0" y2="229.9" stroke="#222" stroke-width="1.2"/>
<text transform="translate(488,231) rotate(-90)" font-family="'DejaVu Sans','Liberation Sans',sans-serif" font-size="11.6" fill="#ffb482" text-anchor="middle">Feature 6</text>
<text x="567.7" y="310.8" font-family="'DejaVu Sans','Liberation Sans',sans-serif" font-size="11.6" fill="#ef4a4a" text-anchor="middle">Feature 1</text>
<text x="632.6" y="169.5" font-family="'DejaVu Sans','Liberation Sans',sans-serif" font-size="11.4" fill="#111">Class</text>
<line x1="632.6" y1="172.3" x2="662.8" y2="172.3" stroke="#111" stroke-width="1.2"/>
<circle cx="636.2" cy="181.3" r="2.6" fill="#8de5a1"/>
<text x="668" y="186.9" font-family="'DejaVu Sans','Liberation Sans',sans-serif" font-size="13.5" fill="#111" text-anchor="middle">1</text>
<circle cx="636.2" cy="202.8" r="2.6" fill="#ff9f9b"/>
<text x="668" y="207.5" font-family="'DejaVu Sans','Liberation Sans',sans-serif" font-size="13.5" fill="#111" text-anchor="middle">2</text>
<circle cx="636.2" cy="224" r="2.6" fill="#d0bbff"/>
<text x="668" y="228.2" font-family="'DejaVu Sans','Liberation Sans',sans-serif" font-size="13.5" fill="#111" text-anchor="middle">3</text>
<circle cx="636.2" cy="245.6" r="2.6" fill="#debb9b"/>
<text x="668" y="248.8" font-family="'DejaVu Sans','Liberation Sans',sans-serif" font-size="13.5" fill="#111" text-anchor="middle">4</text>
<defs><linearGradient id="gBand" x1="0" y1="0" x2="0" y2="1"><stop offset="0" stop-color="#f6faf5"/><stop offset="0.12" stop-color="#e5efe3"/><stop offset="0.65" stop-color="#e6f1e5"/><stop offset="1" stop-color="#f2f8f1"/></linearGradient></defs>
<rect x="399.5" y="386.1" width="276.5" height="85.5" fill="url(#gBand)"/>
<text x="341.8" y="294.6" font-family="'DejaVu Sans','Liberation Sans',sans-serif" font-size="15.6" letter-spacing="0.4" fill="#111">(d)</text>
<g stroke="#222" stroke-width="1.2">
<line x1="399.3" y1="283.6" x2="399.3" y2="516.8"/>
<line x1="398.7" y1="516.2" x2="676" y2="516.2"/>
<line x1="393" y1="516.2" x2="399.3" y2="516.2"/>
<line x1="393" y1="479.0" x2="399.3" y2="479.0"/>
<line x1="393" y1="441.9" x2="399.3" y2="441.9"/>
<line x1="393" y1="404.7" x2="399.3" y2="404.7"/>
<line x1="393" y1="367.6" x2="399.3" y2="367.6"/>
<line x1="393" y1="330.4" x2="399.3" y2="330.4"/>
<line x1="393" y1="293.2" x2="399.3" y2="293.2"/>
<line x1="437.4" y1="516.2" x2="437.4" y2="522.7"/>
<line x1="512.9" y1="516.2" x2="512.9" y2="522.7"/>
<line x1="588.4" y1="516.2" x2="588.4" y2="522.7"/>
<line x1="663.9" y1="516.2" x2="663.9" y2="522.7"/>
</g>
<text x="387" y="520.6" font-family="'DejaVu Sans','Liberation Sans',sans-serif" font-size="12.3" fill="#222" text-anchor="end">0</text>
<text x="387" y="483.4" font-family="'DejaVu Sans','Liberation Sans',sans-serif" font-size="12.3" fill="#222" text-anchor="end">100</text>
<text x="387" y="446.3" font-family="'DejaVu Sans','Liberation Sans',sans-serif" font-size="12.3" fill="#222" text-anchor="end">200</text>
<text x="387" y="409.1" font-family="'DejaVu Sans','Liberation Sans',sans-serif" font-size="12.3" fill="#222" text-anchor="end">300</text>
<text x="387" y="372.0" font-family="'DejaVu Sans','Liberation Sans',sans-serif" font-size="12.3" fill="#222" text-anchor="end">400</text>
<text x="387" y="334.8" font-family="'DejaVu Sans','Liberation Sans',sans-serif" font-size="12.3" fill="#222" text-anchor="end">500</text>
<text x="387" y="297.6" font-family="'DejaVu Sans','Liberation Sans',sans-serif" font-size="12.3" fill="#222" text-anchor="end">600</text>
<text x="437.4" y="538" font-family="'DejaVu Sans','Liberation Sans',sans-serif" font-size="12.3" fill="#222" text-anchor="middle">2</text>
<text x="512.9" y="538" font-family="'DejaVu Sans','Liberation Sans',sans-serif" font-size="12.3" fill="#222" text-anchor="middle">3</text>
<text x="588.4" y="538" font-family="'DejaVu Sans','Liberation Sans',sans-serif" font-size="12.3" fill="#222" text-anchor="middle">4</text>
<text x="663.9" y="538" font-family="'DejaVu Sans','Liberation Sans',sans-serif" font-size="12.3" fill="#222" text-anchor="middle">5</text>
<text transform="translate(358.5,394.6) rotate(-90)" font-family="'DejaVu Sans','Liberation Sans',sans-serif" font-size="14" fill="#111" text-anchor="middle">Number of Parameters (P)</text>
<text x="413.6" y="552.3" font-family="'DejaVu Sans','Liberation Sans',sans-serif" font-size="14.3" fill="#111" xml:space="preserve">Number of  <tspan fill="#a1c9f4">Qumodes</tspan>/<tspan fill="#ffb482">Neurons</tspan> (M)</text>
<polyline points="437.4,471.6 512.9,447.8 588.4,422.6 663.9,395.8" fill="none" stroke="#a1c9f4" stroke-width="2" />
<circle cx="437.4" cy="471.6" r="3.8" fill="#a1c9f4" stroke="#fff" stroke-width="1"/>
<circle cx="512.9" cy="447.8" r="3.8" fill="#a1c9f4" stroke="#fff" stroke-width="1"/>
<circle cx="588.4" cy="422.6" r="3.8" fill="#a1c9f4" stroke="#fff" stroke-width="1"/>
<circle cx="663.9" cy="395.8" r="3.8" fill="#a1c9f4" stroke="#fff" stroke-width="1"/>
<polyline points="437.4,458.2 512.9,423.3 588.4,383.9 663.9,340.1" fill="none" stroke="#a1c9f4" stroke-width="2" stroke-dasharray="6.8,3.6"/>
<path d="M434.6,455.4L440.2,461.0M434.6,461.0L440.2,455.4" stroke="#fff" stroke-width="3"/><path d="M434.6,455.4L440.2,461.0M434.6,461.0L440.2,455.4" stroke="#a1c9f4" stroke-width="1.6"/>
<path d="M510.1,420.5L515.7,426.1M510.1,426.1L515.7,420.5" stroke="#fff" stroke-width="3"/><path d="M510.1,420.5L515.7,426.1M510.1,426.1L515.7,420.5" stroke="#a1c9f4" stroke-width="1.6"/>
<path d="M585.6,381.1L591.2,386.7M585.6,386.7L591.2,381.1" stroke="#fff" stroke-width="3"/><path d="M585.6,381.1L591.2,386.7M585.6,386.7L591.2,381.1" stroke="#a1c9f4" stroke-width="1.6"/>
<path d="M661.1,337.3L666.7,342.9M661.1,342.9L666.7,337.3" stroke="#fff" stroke-width="3"/><path d="M661.1,337.3L666.7,342.9M661.1,342.9L666.7,337.3" stroke="#a1c9f4" stroke-width="1.6"/>
<polyline points="437.4,444.9 512.9,398.8 588.4,345.3 663.9,284.3" fill="none" stroke="#a1c9f4" stroke-width="1.7" stroke-dasharray="1.7,1.9"/>
<rect x="434.5" y="442.0" width="5.8" height="5.8" fill="#a1c9f4" stroke="#fff" stroke-width="0.9"/>
<rect x="510.0" y="395.9" width="5.8" height="5.8" fill="#a1c9f4" stroke="#fff" stroke-width="0.9"/>
<rect x="585.5" y="342.4" width="5.8" height="5.8" fill="#a1c9f4" stroke="#fff" stroke-width="0.9"/>
<rect x="661.0" y="281.4" width="5.8" height="5.8" fill="#a1c9f4" stroke="#fff" stroke-width="0.9"/>
<polyline points="437.4,470.1 512.9,442.3 588.4,410.7 663.9,375.4" fill="none" stroke="#ffb482" stroke-width="2" />
<circle cx="437.4" cy="470.1" r="3.8" fill="#ffb482" stroke="#fff" stroke-width="1"/>
<circle cx="512.9" cy="442.3" r="3.8" fill="#ffb482" stroke="#fff" stroke-width="1"/>
<circle cx="588.4" cy="410.7" r="3.8" fill="#ffb482" stroke="#fff" stroke-width="1"/>
<circle cx="663.9" cy="375.4" r="3.8" fill="#ffb482" stroke="#fff" stroke-width="1"/>
<polyline points="437.4,465.7 512.9,433.3 588.4,395.8 663.9,353.1" fill="none" stroke="#ffb482" stroke-width="2" stroke-dasharray="6.8,3.6"/>
<path d="M434.6,462.9L440.2,468.5M434.6,468.5L440.2,462.9" stroke="#fff" stroke-width="3"/><path d="M434.6,462.9L440.2,468.5M434.6,468.5L440.2,462.9" stroke="#ffb482" stroke-width="1.6"/>
<path d="M510.1,430.5L515.7,436.1M510.1,436.1L515.7,430.5" stroke="#fff" stroke-width="3"/><path d="M510.1,430.5L515.7,436.1M510.1,436.1L515.7,430.5" stroke="#ffb482" stroke-width="1.6"/>
<path d="M585.6,393.0L591.2,398.6M585.6,398.6L591.2,393.0" stroke="#fff" stroke-width="3"/><path d="M585.6,393.0L591.2,398.6M585.6,398.6L591.2,393.0" stroke="#ffb482" stroke-width="1.6"/>
<path d="M661.1,350.3L666.7,355.9M661.1,355.9L666.7,350.3" stroke="#fff" stroke-width="3"/><path d="M661.1,350.3L666.7,355.9M661.1,355.9L666.7,350.3" stroke="#ffb482" stroke-width="1.6"/>
<polyline points="437.4,461.2 512.9,424.4 588.4,380.9 663.9,330.8" fill="none" stroke="#ffb482" stroke-width="1.7" stroke-dasharray="1.7,1.9"/>
<rect x="434.5" y="458.3" width="5.8" height="5.8" fill="#ffb482" stroke="#fff" stroke-width="0.9"/>
<rect x="510.0" y="421.5" width="5.8" height="5.8" fill="#ffb482" stroke="#fff" stroke-width="0.9"/>
<rect x="585.5" y="378.0" width="5.8" height="5.8" fill="#ffb482" stroke="#fff" stroke-width="0.9"/>
<rect x="661.0" y="327.9" width="5.8" height="5.8" fill="#ffb482" stroke="#fff" stroke-width="0.9"/>
<text x="404" y="328.6" font-family="'DejaVu Sans','Liberation Sans',sans-serif" font-size="11.5" fill="#111">Network Type</text>
<line x1="404" y1="331.9" x2="484.3" y2="331.9" stroke="#111" stroke-width="1.7"/>
<line x1="404.5" y1="342.5" x2="429.5" y2="342.5" stroke="#a1c9f4" stroke-width="2"/>
<text x="438.9" y="347" font-family="'DejaVu Sans','Liberation Sans',sans-serif" font-size="11.5" fill="#111">Hybrid</text>
<line x1="404.5" y1="359" x2="429.5" y2="359" stroke="#ffb482" stroke-width="2"/>
<text x="438.9" y="363.5" font-family="'DejaVu Sans','Liberation Sans',sans-serif" font-size="11.5" fill="#111">Classical</text>
<text x="404" y="380" font-family="'DejaVu Sans','Liberation Sans',sans-serif" font-size="11.5" fill="#111">Number of Layers</text>
<line x1="404" y1="383.5" x2="508.8" y2="383.5" stroke="#111" stroke-width="1.7"/>
<g fill="#333a33"><rect x="404.3" y="392.3" width="7.7" height="2.4" rx="1"/><rect x="422.1" y="392.3" width="7.9" height="2.4" rx="1"/><circle cx="417.4" cy="393.5" r="3.6"/><rect x="405.1" y="409.5" width="8.6" height="2.4" rx="1"/><rect x="421" y="409.5" width="6" height="2.4" rx="1"/><rect x="405.4" y="426.5" width="2.1" height="2.1"/><rect x="410" y="426.5" width="2.1" height="2.1"/><rect x="414.9" y="425" width="5.2" height="5.2"/><rect x="423" y="426.5" width="2.1" height="2.1"/><rect x="427.2" y="426.5" width="2.1" height="2.1"/></g>
<path d="M414.5,407.9L420.1,413.5M414.5,413.5L420.1,407.9" stroke="#333a33" stroke-width="1.5"/>
<text x="438.9" y="398" font-family="'DejaVu Sans','Liberation Sans',sans-serif" font-size="11.5" fill="#111">1</text>
<text x="438.9" y="415.3" font-family="'DejaVu Sans','Liberation Sans',sans-serif" font-size="11.5" fill="#111">3</text>
<text x="438.9" y="432.3" font-family="'DejaVu Sans','Liberation Sans',sans-serif" font-size="11.5" fill="#111">5</text>
<text x="422.5" y="486" font-family="'DejaVu Sans','Liberation Sans',sans-serif" font-size="15" font-weight="bold" fill="#a1c9f4">A</text>
<text x="439.5" y="486" font-family="'DejaVu Sans','Liberation Sans',sans-serif" font-size="15" font-weight="bold" fill="#ffb482">B</text>
<text x="401.4" y="512.8" text-anchor="start" fill="#111" ><tspan dy="0.00" font-size="14.8" font-style="italic" font-family="'Liberation Serif','DejaVu Serif',serif">P</tspan><tspan dy="0.00" font-size="14.8" font-style="normal" font-family="'Liberation Serif','DejaVu Serif',serif"> = </tspan><tspan dy="0.00" font-size="14.8" font-style="italic" font-family="'Liberation Serif','DejaVu Serif',serif">P</tspan><tspan dx="1.18" dy="-5.03" font-size="10.4" font-style="normal" font-family="'Liberation Serif','DejaVu Serif',serif">(</tspan><tspan dy="0.00" font-size="10.4" font-style="italic" font-family="'Liberation Serif','DejaVu Serif',serif">i</tspan><tspan dy="0.00" font-size="10.4" font-style="normal" font-family="'Liberation Serif','DejaVu Serif',serif">)</tspan><tspan dy="5.03" font-size="14.8" font-style="normal" font-family="'Liberation Serif','DejaVu Serif',serif"> + </tspan><tspan dy="0.00" font-size="14.8" font-style="italic" font-family="'Liberation Serif','DejaVu Serif',serif">P</tspan><tspan dx="1.18" dy="-5.03" font-size="10.4" font-style="normal" font-family="'Liberation Serif','DejaVu Serif',serif">(</tspan><tspan dy="0.00" font-size="10.4" font-style="italic" font-family="'Liberation Serif','DejaVu Serif',serif">h</tspan><tspan dy="0.00" font-size="10.4" font-style="normal" font-family="'Liberation Serif','DejaVu Serif',serif">)</tspan><tspan dy="5.03" font-size="14.8" font-style="normal" font-family="'Liberation Serif','DejaVu Serif',serif"> + </tspan><tspan dy="0.00" font-size="14.8" font-style="italic" font-family="'Liberation Serif','DejaVu Serif',serif">P</tspan><tspan dx="1.18" dy="-5.03" font-size="10.4" font-style="normal" font-family="'Liberation Serif','DejaVu Serif',serif">(</tspan><tspan dy="0.00" font-size="10.4" font-style="italic" font-family="'Liberation Serif','DejaVu Serif',serif">o</tspan><tspan dy="0.00" font-size="10.4" font-style="normal" font-family="'Liberation Serif','DejaVu Serif',serif">)</tspan></text>
<rect x="550.5" y="439.3" width="122.2" height="55.9" fill="none" stroke="#333" stroke-width="1.1"/>
<g stroke="#333" stroke-width="1.1">
<line x1="544.5" y1="471.9" x2="550.5" y2="471.9"/>
<line x1="544.5" y1="448.4" x2="550.5" y2="448.4"/>
<line x1="555.9" y1="495.2" x2="555.9" y2="501"/>
<line x1="666.8" y1="495.2" x2="666.8" y2="501"/>
</g>
<text x="543" y="476.2" font-family="'DejaVu Sans','Liberation Sans',sans-serif" font-size="12.3" fill="#222" text-anchor="end">100</text>
<text x="543" y="452.7" font-family="'DejaVu Sans','Liberation Sans',sans-serif" font-size="12.3" fill="#222" text-anchor="end">200</text>
<text x="555.9" y="513.5" font-family="'DejaVu Sans','Liberation Sans',sans-serif" font-size="12.3" fill="#222" text-anchor="middle">2</text>
<text x="666.8" y="513.5" font-family="'DejaVu Sans','Liberation Sans',sans-serif" font-size="12.3" fill="#222" text-anchor="middle">5</text>
<polyline points="555.9,474.2 592.9,463.7 629.8,453.1 666.8,442.5" fill="none" stroke="#a1c9f4" stroke-width="1.8" stroke-dasharray="6,4"/>
<circle cx="555.9" cy="474.2" r="3.3" fill="#a1c9f4" stroke="#fff" stroke-width="0.8"/>
<circle cx="592.9" cy="463.7" r="3.3" fill="#a1c9f4" stroke="#fff" stroke-width="0.8"/>
<circle cx="629.8" cy="453.1" r="3.3" fill="#a1c9f4" stroke="#fff" stroke-width="0.8"/>
<circle cx="666.8" cy="442.5" r="3.3" fill="#a1c9f4" stroke="#fff" stroke-width="0.8"/>
<polyline points="555.9,491.2 592.9,487.6 629.8,483.2 666.8,477.8" fill="none" stroke="#a1c9f4" stroke-width="1.8" stroke-dasharray="8,3,2,3"/>
<circle cx="555.9" cy="491.2" r="3.3" fill="#a1c9f4" stroke="#fff" stroke-width="0.8"/>
<circle cx="592.9" cy="487.6" r="3.3" fill="#a1c9f4" stroke="#fff" stroke-width="0.8"/>
<circle cx="629.8" cy="483.2" r="3.3" fill="#a1c9f4" stroke="#fff" stroke-width="0.8"/>
<circle cx="666.8" cy="477.8" r="3.3" fill="#a1c9f4" stroke="#fff" stroke-width="0.8"/>
<polyline points="555.9,492.6 592.9,491.6 629.8,490.7 666.8,489.8" fill="none" stroke="#a1c9f4" stroke-width="1.8" stroke-dasharray="1.6,2.6" stroke-linecap="round"/>
<circle cx="555.9" cy="492.6" r="3.3" fill="#a1c9f4" stroke="#fff" stroke-width="0.8"/>
<circle cx="592.9" cy="491.6" r="3.3" fill="#a1c9f4" stroke="#fff" stroke-width="0.8"/>
<circle cx="629.8" cy="490.7" r="3.3" fill="#a1c9f4" stroke="#fff" stroke-width="0.8"/>
<circle cx="666.8" cy="489.8" r="3.3" fill="#a1c9f4" stroke="#fff" stroke-width="0.8"/>
<text x="570.6" y="465.5" text-anchor="start" fill="#111" ><tspan dy="0.00" font-size="13.5" font-style="italic" font-family="'Liberation Serif','DejaVu Serif',serif">P</tspan><tspan dx="1.08" dy="-4.59" font-size="9.4" font-style="normal" font-family="'Liberation Serif','DejaVu Serif',serif">(</tspan><tspan dy="0.00" font-size="9.4" font-style="italic" font-family="'Liberation Serif','DejaVu Serif',serif">i</tspan><tspan dy="0.00" font-size="9.4" font-style="normal" font-family="'Liberation Serif','DejaVu Serif',serif">)</tspan></text>
<text x="607" y="484.3" text-anchor="start" fill="#111" ><tspan dy="0.00" font-size="13.5" font-style="italic" font-family="'Liberation Serif','DejaVu Serif',serif">P</tspan><tspan dx="1.08" dy="-4.59" font-size="9.4" font-style="normal" font-family="'Liberation Serif','DejaVu Serif',serif">(</tspan><tspan dy="0.00" font-size="9.4" font-style="italic" font-family="'Liberation Serif','DejaVu Serif',serif">h</tspan><tspan dy="0.00" font-size="9.4" font-style="normal" font-family="'Liberation Serif','DejaVu Serif',serif">)</tspan></text>
<text x="650.4" y="489.2" text-anchor="start" fill="#111" ><tspan dy="0.00" font-size="13.5" font-style="italic" font-family="'Liberation Serif','DejaVu Serif',serif">P</tspan><tspan dx="1.08" dy="-4.59" font-size="9.4" font-style="normal" font-family="'Liberation Serif','DejaVu Serif',serif">(</tspan><tspan dy="0.00" font-size="9.4" font-style="italic" font-family="'Liberation Serif','DejaVu Serif',serif">o</tspan><tspan dy="0.00" font-size="9.4" font-style="normal" font-family="'Liberation Serif','DejaVu Serif',serif">)</tspan></text>
<line x1="612.5" y1="415.3" x2="612.5" y2="437.5" stroke="#111" stroke-width="1.3"/><path d="M608.5,433L612.5,438.3L616.5,433" fill="none" stroke="#111" stroke-width="1.3"/>
</svg>
</body></html>
